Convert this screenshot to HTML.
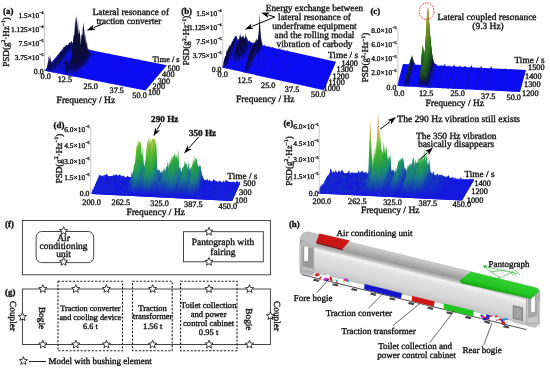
<!DOCTYPE html>
<html><head><meta charset="utf-8"><title>Figure</title>
<style>
html,body{margin:0;padding:0;background:#fff;}
body{width:550px;height:369px;overflow:hidden;}
svg{display:block;}
text{font-family:"Liberation Serif","Times New Roman",serif;fill:#111;stroke:#111;stroke-width:0.35px;text-rendering:geometricPrecision;}
</style></head><body>
<svg width="550" height="369" viewBox="0 0 550 369">
<defs>
<linearGradient id="ga" gradientUnits="userSpaceOnUse" x1="0" y1="0" x2="0" y2="-57"><stop offset="0" stop-color="#0c0cf4"/><stop offset="0.012" stop-color="#1010c0"/><stop offset="0.035" stop-color="#0a0a78"/><stop offset="0.12" stop-color="#0a0a40"/><stop offset="0.6" stop-color="#0e0e30"/><stop offset="0.85" stop-color="#24244a"/><stop offset="1" stop-color="#505070"/></linearGradient>
<linearGradient id="ga29" href="#ga" gradientTransform="matrix(1 0.1970 0 1 0 32.32)"/>
<linearGradient id="ga28" href="#ga" gradientTransform="matrix(1 0.1970 0 1 0 33.34)"/>
<linearGradient id="ga27" href="#ga" gradientTransform="matrix(1 0.1970 0 1 0 34.36)"/>
<linearGradient id="ga26" href="#ga" gradientTransform="matrix(1 0.1970 0 1 0 35.38)"/>
<linearGradient id="ga25" href="#ga" gradientTransform="matrix(1 0.1970 0 1 0 36.40)"/>
<linearGradient id="ga24" href="#ga" gradientTransform="matrix(1 0.1970 0 1 0 37.42)"/>
<linearGradient id="ga23" href="#ga" gradientTransform="matrix(1 0.1970 0 1 0 38.44)"/>
<linearGradient id="ga22" href="#ga" gradientTransform="matrix(1 0.1970 0 1 0 39.46)"/>
<linearGradient id="ga21" href="#ga" gradientTransform="matrix(1 0.1970 0 1 0 40.49)"/>
<linearGradient id="ga20" href="#ga" gradientTransform="matrix(1 0.1970 0 1 0 41.51)"/>
<linearGradient id="ga19" href="#ga" gradientTransform="matrix(1 0.1970 0 1 0 42.53)"/>
<linearGradient id="ga18" href="#ga" gradientTransform="matrix(1 0.1970 0 1 0 43.55)"/>
<linearGradient id="ga17" href="#ga" gradientTransform="matrix(1 0.1970 0 1 0 44.57)"/>
<linearGradient id="ga16" href="#ga" gradientTransform="matrix(1 0.1970 0 1 0 45.59)"/>
<linearGradient id="ga15" href="#ga" gradientTransform="matrix(1 0.1970 0 1 0 46.61)"/>
<linearGradient id="ga14" href="#ga" gradientTransform="matrix(1 0.1970 0 1 0 47.63)"/>
<linearGradient id="ga13" href="#ga" gradientTransform="matrix(1 0.1970 0 1 0 48.66)"/>
<linearGradient id="ga12" href="#ga" gradientTransform="matrix(1 0.1970 0 1 0 49.68)"/>
<linearGradient id="ga11" href="#ga" gradientTransform="matrix(1 0.1970 0 1 0 50.70)"/>
<linearGradient id="ga10" href="#ga" gradientTransform="matrix(1 0.1970 0 1 0 51.72)"/>
<linearGradient id="ga9" href="#ga" gradientTransform="matrix(1 0.1970 0 1 0 52.74)"/>
<linearGradient id="ga8" href="#ga" gradientTransform="matrix(1 0.1970 0 1 0 53.76)"/>
<linearGradient id="ga7" href="#ga" gradientTransform="matrix(1 0.1970 0 1 0 54.78)"/>
<linearGradient id="ga6" href="#ga" gradientTransform="matrix(1 0.1970 0 1 0 55.80)"/>
<linearGradient id="ga5" href="#ga" gradientTransform="matrix(1 0.1970 0 1 0 56.83)"/>
<linearGradient id="ga4" href="#ga" gradientTransform="matrix(1 0.1970 0 1 0 57.85)"/>
<linearGradient id="ga3" href="#ga" gradientTransform="matrix(1 0.1970 0 1 0 58.87)"/>
<linearGradient id="ga2" href="#ga" gradientTransform="matrix(1 0.1970 0 1 0 59.89)"/>
<linearGradient id="ga1" href="#ga" gradientTransform="matrix(1 0.1970 0 1 0 60.91)"/>
<linearGradient id="ga0" href="#ga" gradientTransform="matrix(1 0.1970 0 1 0 61.93)"/>
<linearGradient id="gb" gradientUnits="userSpaceOnUse" x1="0" y1="0" x2="0" y2="-55.5"><stop offset="0" stop-color="#0c0cf4"/><stop offset="0.012" stop-color="#1010c0"/><stop offset="0.035" stop-color="#0a0a78"/><stop offset="0.12" stop-color="#0a0a40"/><stop offset="0.6" stop-color="#0e0e30"/><stop offset="0.85" stop-color="#24244a"/><stop offset="1" stop-color="#505070"/></linearGradient>
<linearGradient id="gb29" href="#gb" gradientTransform="matrix(1 0.2235 0 1 0 -13.31)"/>
<linearGradient id="gb28" href="#gb" gradientTransform="matrix(1 0.2235 0 1 0 -12.23)"/>
<linearGradient id="gb27" href="#gb" gradientTransform="matrix(1 0.2235 0 1 0 -11.16)"/>
<linearGradient id="gb26" href="#gb" gradientTransform="matrix(1 0.2235 0 1 0 -10.08)"/>
<linearGradient id="gb25" href="#gb" gradientTransform="matrix(1 0.2235 0 1 0 -9.00)"/>
<linearGradient id="gb24" href="#gb" gradientTransform="matrix(1 0.2235 0 1 0 -7.93)"/>
<linearGradient id="gb23" href="#gb" gradientTransform="matrix(1 0.2235 0 1 0 -6.85)"/>
<linearGradient id="gb22" href="#gb" gradientTransform="matrix(1 0.2235 0 1 0 -5.78)"/>
<linearGradient id="gb21" href="#gb" gradientTransform="matrix(1 0.2235 0 1 0 -4.70)"/>
<linearGradient id="gb20" href="#gb" gradientTransform="matrix(1 0.2235 0 1 0 -3.63)"/>
<linearGradient id="gb19" href="#gb" gradientTransform="matrix(1 0.2235 0 1 0 -2.55)"/>
<linearGradient id="gb18" href="#gb" gradientTransform="matrix(1 0.2235 0 1 0 -1.48)"/>
<linearGradient id="gb17" href="#gb" gradientTransform="matrix(1 0.2235 0 1 0 -0.40)"/>
<linearGradient id="gb16" href="#gb" gradientTransform="matrix(1 0.2235 0 1 0 0.67)"/>
<linearGradient id="gb15" href="#gb" gradientTransform="matrix(1 0.2235 0 1 0 1.75)"/>
<linearGradient id="gb14" href="#gb" gradientTransform="matrix(1 0.2235 0 1 0 2.82)"/>
<linearGradient id="gb13" href="#gb" gradientTransform="matrix(1 0.2235 0 1 0 3.90)"/>
<linearGradient id="gb12" href="#gb" gradientTransform="matrix(1 0.2235 0 1 0 4.97)"/>
<linearGradient id="gb11" href="#gb" gradientTransform="matrix(1 0.2235 0 1 0 6.05)"/>
<linearGradient id="gb10" href="#gb" gradientTransform="matrix(1 0.2235 0 1 0 7.12)"/>
<linearGradient id="gb9" href="#gb" gradientTransform="matrix(1 0.2235 0 1 0 8.20)"/>
<linearGradient id="gb8" href="#gb" gradientTransform="matrix(1 0.2235 0 1 0 9.27)"/>
<linearGradient id="gb7" href="#gb" gradientTransform="matrix(1 0.2235 0 1 0 10.35)"/>
<linearGradient id="gb6" href="#gb" gradientTransform="matrix(1 0.2235 0 1 0 11.42)"/>
<linearGradient id="gb5" href="#gb" gradientTransform="matrix(1 0.2235 0 1 0 12.50)"/>
<linearGradient id="gb4" href="#gb" gradientTransform="matrix(1 0.2235 0 1 0 13.58)"/>
<linearGradient id="gb3" href="#gb" gradientTransform="matrix(1 0.2235 0 1 0 14.65)"/>
<linearGradient id="gb2" href="#gb" gradientTransform="matrix(1 0.2235 0 1 0 15.73)"/>
<linearGradient id="gb1" href="#gb" gradientTransform="matrix(1 0.2235 0 1 0 16.80)"/>
<linearGradient id="gb0" href="#gb" gradientTransform="matrix(1 0.2235 0 1 0 17.88)"/>
<linearGradient id="gc" gradientUnits="userSpaceOnUse" x1="0" y1="0" x2="0" y2="-70.75"><stop offset="0.0" stop-color="#0c0cf4"/><stop offset="0.016" stop-color="#1010c0"/><stop offset="0.05600000000000001" stop-color="#0a0a70"/><stop offset="0.11200000000000002" stop-color="#102a30"/><stop offset="0.176" stop-color="#1a4a1c"/><stop offset="0.4" stop-color="#2e7a22"/><stop offset="0.64" stop-color="#6a8a20"/><stop offset="0.8" stop-color="#9a9a38"/><stop offset="0.96" stop-color="#b0a848"/></linearGradient>
<linearGradient id="gc29" href="#gc" gradientTransform="matrix(1 0.0488 0 1 0 44.34)"/>
<linearGradient id="gc28" href="#gc" gradientTransform="matrix(1 0.0488 0 1 0 45.11)"/>
<linearGradient id="gc27" href="#gc" gradientTransform="matrix(1 0.0488 0 1 0 45.88)"/>
<linearGradient id="gc26" href="#gc" gradientTransform="matrix(1 0.0488 0 1 0 46.65)"/>
<linearGradient id="gc25" href="#gc" gradientTransform="matrix(1 0.0488 0 1 0 47.42)"/>
<linearGradient id="gc24" href="#gc" gradientTransform="matrix(1 0.0488 0 1 0 48.19)"/>
<linearGradient id="gc23" href="#gc" gradientTransform="matrix(1 0.0488 0 1 0 48.95)"/>
<linearGradient id="gc22" href="#gc" gradientTransform="matrix(1 0.0488 0 1 0 49.72)"/>
<linearGradient id="gc21" href="#gc" gradientTransform="matrix(1 0.0488 0 1 0 50.49)"/>
<linearGradient id="gc20" href="#gc" gradientTransform="matrix(1 0.0488 0 1 0 51.26)"/>
<linearGradient id="gc19" href="#gc" gradientTransform="matrix(1 0.0488 0 1 0 52.03)"/>
<linearGradient id="gc18" href="#gc" gradientTransform="matrix(1 0.0488 0 1 0 52.80)"/>
<linearGradient id="gc17" href="#gc" gradientTransform="matrix(1 0.0488 0 1 0 53.57)"/>
<linearGradient id="gc16" href="#gc" gradientTransform="matrix(1 0.0488 0 1 0 54.33)"/>
<linearGradient id="gc15" href="#gc" gradientTransform="matrix(1 0.0488 0 1 0 55.10)"/>
<linearGradient id="gc14" href="#gc" gradientTransform="matrix(1 0.0488 0 1 0 55.87)"/>
<linearGradient id="gc13" href="#gc" gradientTransform="matrix(1 0.0488 0 1 0 56.64)"/>
<linearGradient id="gc12" href="#gc" gradientTransform="matrix(1 0.0488 0 1 0 57.41)"/>
<linearGradient id="gc11" href="#gc" gradientTransform="matrix(1 0.0488 0 1 0 58.18)"/>
<linearGradient id="gc10" href="#gc" gradientTransform="matrix(1 0.0488 0 1 0 58.95)"/>
<linearGradient id="gc9" href="#gc" gradientTransform="matrix(1 0.0488 0 1 0 59.72)"/>
<linearGradient id="gc8" href="#gc" gradientTransform="matrix(1 0.0488 0 1 0 60.48)"/>
<linearGradient id="gc7" href="#gc" gradientTransform="matrix(1 0.0488 0 1 0 61.25)"/>
<linearGradient id="gc6" href="#gc" gradientTransform="matrix(1 0.0488 0 1 0 62.02)"/>
<linearGradient id="gc5" href="#gc" gradientTransform="matrix(1 0.0488 0 1 0 62.79)"/>
<linearGradient id="gc4" href="#gc" gradientTransform="matrix(1 0.0488 0 1 0 63.56)"/>
<linearGradient id="gc3" href="#gc" gradientTransform="matrix(1 0.0488 0 1 0 64.33)"/>
<linearGradient id="gc2" href="#gc" gradientTransform="matrix(1 0.0488 0 1 0 65.10)"/>
<linearGradient id="gc1" href="#gc" gradientTransform="matrix(1 0.0488 0 1 0 65.87)"/>
<linearGradient id="gc0" href="#gc" gradientTransform="matrix(1 0.0488 0 1 0 66.63)"/>
<linearGradient id="gd" gradientUnits="userSpaceOnUse" x1="0" y1="0" x2="0" y2="-66.4"><stop offset="0" stop-color="#1414e6"/><stop offset="0.04" stop-color="#1428c8"/><stop offset="0.1" stop-color="#1650a8"/><stop offset="0.17" stop-color="#1a7a88"/><stop offset="0.25" stop-color="#1e9460"/><stop offset="0.35" stop-color="#2ea836"/><stop offset="0.5" stop-color="#56b832"/><stop offset="0.62" stop-color="#98c040"/><stop offset="0.72" stop-color="#c8b048"/><stop offset="0.85" stop-color="#d89a58"/><stop offset="1" stop-color="#e08a60"/></linearGradient>
<linearGradient id="gd27" href="#gd" gradientTransform="matrix(1 0.0504 0 1 0 171.39)"/>
<linearGradient id="gd26" href="#gd" gradientTransform="matrix(1 0.0504 0 1 0 172.05)"/>
<linearGradient id="gd25" href="#gd" gradientTransform="matrix(1 0.0504 0 1 0 172.72)"/>
<linearGradient id="gd24" href="#gd" gradientTransform="matrix(1 0.0504 0 1 0 173.39)"/>
<linearGradient id="gd23" href="#gd" gradientTransform="matrix(1 0.0504 0 1 0 174.05)"/>
<linearGradient id="gd22" href="#gd" gradientTransform="matrix(1 0.0504 0 1 0 174.72)"/>
<linearGradient id="gd21" href="#gd" gradientTransform="matrix(1 0.0504 0 1 0 175.39)"/>
<linearGradient id="gd20" href="#gd" gradientTransform="matrix(1 0.0504 0 1 0 176.06)"/>
<linearGradient id="gd19" href="#gd" gradientTransform="matrix(1 0.0504 0 1 0 176.72)"/>
<linearGradient id="gd18" href="#gd" gradientTransform="matrix(1 0.0504 0 1 0 177.39)"/>
<linearGradient id="gd17" href="#gd" gradientTransform="matrix(1 0.0504 0 1 0 178.06)"/>
<linearGradient id="gd16" href="#gd" gradientTransform="matrix(1 0.0504 0 1 0 178.72)"/>
<linearGradient id="gd15" href="#gd" gradientTransform="matrix(1 0.0504 0 1 0 179.39)"/>
<linearGradient id="gd14" href="#gd" gradientTransform="matrix(1 0.0504 0 1 0 180.06)"/>
<linearGradient id="gd13" href="#gd" gradientTransform="matrix(1 0.0504 0 1 0 180.72)"/>
<linearGradient id="gd12" href="#gd" gradientTransform="matrix(1 0.0504 0 1 0 181.39)"/>
<linearGradient id="gd11" href="#gd" gradientTransform="matrix(1 0.0504 0 1 0 182.06)"/>
<linearGradient id="gd10" href="#gd" gradientTransform="matrix(1 0.0504 0 1 0 182.72)"/>
<linearGradient id="gd9" href="#gd" gradientTransform="matrix(1 0.0504 0 1 0 183.39)"/>
<linearGradient id="gd8" href="#gd" gradientTransform="matrix(1 0.0504 0 1 0 184.06)"/>
<linearGradient id="gd7" href="#gd" gradientTransform="matrix(1 0.0504 0 1 0 184.72)"/>
<linearGradient id="gd6" href="#gd" gradientTransform="matrix(1 0.0504 0 1 0 185.39)"/>
<linearGradient id="gd5" href="#gd" gradientTransform="matrix(1 0.0504 0 1 0 186.06)"/>
<linearGradient id="gd4" href="#gd" gradientTransform="matrix(1 0.0504 0 1 0 186.72)"/>
<linearGradient id="gd3" href="#gd" gradientTransform="matrix(1 0.0504 0 1 0 187.39)"/>
<linearGradient id="gd2" href="#gd" gradientTransform="matrix(1 0.0504 0 1 0 188.06)"/>
<linearGradient id="gd1" href="#gd" gradientTransform="matrix(1 0.0504 0 1 0 188.72)"/>
<linearGradient id="gd0" href="#gd" gradientTransform="matrix(1 0.0504 0 1 0 189.39)"/>
<linearGradient id="ge" gradientUnits="userSpaceOnUse" x1="0" y1="0" x2="0" y2="-66.4"><stop offset="0" stop-color="#1414e6"/><stop offset="0.04" stop-color="#1428c8"/><stop offset="0.1" stop-color="#1650a8"/><stop offset="0.17" stop-color="#1a7a88"/><stop offset="0.25" stop-color="#1e9460"/><stop offset="0.35" stop-color="#2ea836"/><stop offset="0.5" stop-color="#56b832"/><stop offset="0.62" stop-color="#98c040"/><stop offset="0.72" stop-color="#c8b048"/><stop offset="0.85" stop-color="#d89a58"/><stop offset="1" stop-color="#e08a60"/></linearGradient>
<linearGradient id="ge27" href="#ge" gradientTransform="matrix(1 0.0479 0 1 0 157.59)"/>
<linearGradient id="ge26" href="#ge" gradientTransform="matrix(1 0.0479 0 1 0 158.35)"/>
<linearGradient id="ge25" href="#ge" gradientTransform="matrix(1 0.0479 0 1 0 159.12)"/>
<linearGradient id="ge24" href="#ge" gradientTransform="matrix(1 0.0479 0 1 0 159.88)"/>
<linearGradient id="ge23" href="#ge" gradientTransform="matrix(1 0.0479 0 1 0 160.65)"/>
<linearGradient id="ge22" href="#ge" gradientTransform="matrix(1 0.0479 0 1 0 161.42)"/>
<linearGradient id="ge21" href="#ge" gradientTransform="matrix(1 0.0479 0 1 0 162.18)"/>
<linearGradient id="ge20" href="#ge" gradientTransform="matrix(1 0.0479 0 1 0 162.95)"/>
<linearGradient id="ge19" href="#ge" gradientTransform="matrix(1 0.0479 0 1 0 163.71)"/>
<linearGradient id="ge18" href="#ge" gradientTransform="matrix(1 0.0479 0 1 0 164.48)"/>
<linearGradient id="ge17" href="#ge" gradientTransform="matrix(1 0.0479 0 1 0 165.24)"/>
<linearGradient id="ge16" href="#ge" gradientTransform="matrix(1 0.0479 0 1 0 166.01)"/>
<linearGradient id="ge15" href="#ge" gradientTransform="matrix(1 0.0479 0 1 0 166.78)"/>
<linearGradient id="ge14" href="#ge" gradientTransform="matrix(1 0.0479 0 1 0 167.54)"/>
<linearGradient id="ge13" href="#ge" gradientTransform="matrix(1 0.0479 0 1 0 168.31)"/>
<linearGradient id="ge12" href="#ge" gradientTransform="matrix(1 0.0479 0 1 0 169.07)"/>
<linearGradient id="ge11" href="#ge" gradientTransform="matrix(1 0.0479 0 1 0 169.84)"/>
<linearGradient id="ge10" href="#ge" gradientTransform="matrix(1 0.0479 0 1 0 170.61)"/>
<linearGradient id="ge9" href="#ge" gradientTransform="matrix(1 0.0479 0 1 0 171.37)"/>
<linearGradient id="ge8" href="#ge" gradientTransform="matrix(1 0.0479 0 1 0 172.14)"/>
<linearGradient id="ge7" href="#ge" gradientTransform="matrix(1 0.0479 0 1 0 172.90)"/>
<linearGradient id="ge6" href="#ge" gradientTransform="matrix(1 0.0479 0 1 0 173.67)"/>
<linearGradient id="ge5" href="#ge" gradientTransform="matrix(1 0.0479 0 1 0 174.43)"/>
<linearGradient id="ge4" href="#ge" gradientTransform="matrix(1 0.0479 0 1 0 175.20)"/>
<linearGradient id="ge3" href="#ge" gradientTransform="matrix(1 0.0479 0 1 0 175.97)"/>
<linearGradient id="ge2" href="#ge" gradientTransform="matrix(1 0.0479 0 1 0 176.73)"/>
<linearGradient id="ge1" href="#ge" gradientTransform="matrix(1 0.0479 0 1 0 177.50)"/>
<linearGradient id="ge0" href="#ge" gradientTransform="matrix(1 0.0479 0 1 0 178.26)"/>
<linearGradient id="body" gradientUnits="userSpaceOnUse" x1="0" y1="0" x2="0" y2="42" gradientTransform="matrix(1 0.245 0 1 0 156.34)"><stop offset="0" stop-color="#cfcfcf"/><stop offset="0.07" stop-color="#c0c0c0"/><stop offset="0.24" stop-color="#9a9a9a"/><stop offset="0.32" stop-color="#c4c4c4"/><stop offset="0.37" stop-color="#f2f2f2"/><stop offset="0.48" stop-color="#e2e2e2"/><stop offset="0.76" stop-color="#d6d6d6"/><stop offset="0.93" stop-color="#c2c2c2"/><stop offset="1" stop-color="#b4b4b4"/></linearGradient>
<linearGradient id="green" gradientUnits="userSpaceOnUse" x1="0" y1="0" x2="0" y2="15" gradientTransform="matrix(1 0.245 0 1 0 156.34)"><stop offset="0" stop-color="#30d030"/><stop offset="0.6" stop-color="#22c422"/><stop offset="0.85" stop-color="#1aa81a"/><stop offset="1" stop-color="#36c836"/></linearGradient>
</defs>
<rect width="550" height="369" fill="#fff"/>
<polygon points="44.5,70.7 145.5,90.6 166.9,65.2 65.9,45.3" fill="#0c0cf4"/>
<polygon points="67.3,45.5 67.9,45.4 68.6,45.2 69.3,45.1 70,44.3 70.6,42.2 71.3,40.9 72,41.8 72.7,44.9 73.4,43.4 74,43.5 74.7,45.3 75.4,46.8 76.1,47 76.7,47.3 76.7,47.4 67.3,45.6" fill="url(#ga29)"/>
<polygon points="87.6,49.4 88.3,49.3 88.9,49.5 89.6,49.8 90.3,49.8 91,50 91.7,50.2 92.3,50.1 93,50.6 93.7,50.5 94.4,50.7 94.4,50.9 87.6,49.6" fill="url(#ga29)"/>
<polygon points="101.8,52.3 102.5,52.2 103.2,52.6 103.2,52.6 101.8,52.4" fill="url(#ga29)"/>
<polygon points="108.6,53.7 109.3,53.3 110,54 110,54 108.6,53.7" fill="url(#ga29)"/>
<polygon points="129.6,57.9 130.3,57.6 131,57.9 131.7,58.3 131.7,58.3 129.6,57.9" fill="url(#ga29)"/>
<polygon points="137.8,59.5 138.4,58.6 139.1,59.6 139.1,59.7 137.8,59.5" fill="url(#ga29)"/>
<polygon points="66.5,46.4 67.2,46.1 67.9,46 68.6,46 69.2,43.4 69.9,42.4 70.6,45.2 71.3,44.4 71.9,43.4 72.6,42.4 73.3,46.1 74,46.4 74.7,47.3 75.3,47.8 76,48.2 76,48.3 66.5,46.4" fill="url(#ga28)"/>
<polygon points="86.9,50.3 87.5,50 88.2,50.5 88.9,50.7 89.6,50.7 90.2,50.3 90.9,51 91.6,50.8 92.3,51.1 93,51.4 93,51.7 86.9,50.4" fill="url(#ga28)"/>
<polygon points="122.1,57.4 122.8,57 123.5,57.6 123.5,57.7 122.1,57.4" fill="url(#ga28)"/>
<polygon points="128.9,58.7 129.6,58.1 130.2,58.6 130.9,59.1 130.9,59.1 128.9,58.7" fill="url(#ga28)"/>
<polygon points="137,60.3 137.7,59.9 138.4,60.5 138.4,60.6 137,60.3" fill="url(#ga28)"/>
<polygon points="65.8,47.2 66.5,47.2 67.1,46.8 67.8,45.5 68.5,45.2 69.2,42.6 69.8,45.7 70.5,44.7 71.2,44.7 71.9,46.1 72.6,44.8 73.2,48.1 73.9,48.4 74.6,48.7 75.3,49 75.3,49.2 65.8,47.3" fill="url(#ga27)"/>
<polygon points="83.4,50.6 84.1,50.7 84.8,50.9 85.4,50.9 86.1,51.1 86.8,51.2 87.5,50.8 88.1,50.8 88.8,51.1 89.5,51.3 90.2,51.5 90.9,52 91.5,51.5 92.2,52.1 92.9,52.2 93.6,52.7 93.6,52.8 83.4,50.8" fill="url(#ga27)"/>
<polygon points="107.1,55.4 107.8,54.4 108.5,55.7 108.5,55.7 107.1,55.5" fill="url(#ga27)"/>
<polygon points="114.6,56.8 115.3,56.7 115.9,57.2 115.9,57.2 114.6,56.9" fill="url(#ga27)"/>
<polygon points="121.4,58.2 122,58 122.7,58.5 122.7,58.5 121.4,58.3" fill="url(#ga27)"/>
<polygon points="128.1,59.6 128.8,59.1 129.5,59.9 129.5,59.9 128.1,59.6" fill="url(#ga27)"/>
<polygon points="136.3,61.2 137,60.4 137.6,61.2 138.3,61.6 138.3,61.6 136.3,61.2" fill="url(#ga27)"/>
<polygon points="65,48.1 65.7,48 66.4,48 67.1,47.6 67.8,45.5 68.4,46.8 69.1,42.3 69.8,43.1 70.5,44.7 71.1,46.8 71.8,46.4 72.5,48.4 73.2,49.2 73.9,49.7 74.5,49.9 74.5,50.1 65,48.2" fill="url(#ga26)"/>
<polygon points="82,51.4 82.7,51.4 83.3,51.5 84,51.2 84.7,51.4 85.4,51 86.1,52 86.7,52.1 87.4,51.5 88.1,51.8 88.8,51.4 89.4,51.8 90.1,52.4 90.8,52.5 91.5,52.7 92.2,52.7 92.8,53.5 92.8,53.7 82,51.5" fill="url(#ga26)"/>
<polygon points="98.9,54.9 99.6,54.7 100.3,54.7 101,55.3 101,55.3 98.9,54.9" fill="url(#ga26)"/>
<polygon points="120.6,59.1 121.3,57.7 122,59.4 122,59.4 120.6,59.1" fill="url(#ga26)"/>
<polygon points="127.4,60.5 128.1,59.9 128.8,60.7 128.8,60.7 127.4,60.5" fill="url(#ga26)"/>
<polygon points="65,49 65.7,48.4 66.3,48.6 67,45.8 67.7,45.6 68.4,44.3 69,44.4 69.7,43.2 70.4,48.2 71.1,48.6 71.8,49.1 72.4,49.5 73.1,50.3 73.8,50.7 73.8,50.9 65,49.2" fill="url(#ga25)"/>
<polygon points="81.3,52.3 81.9,52.1 82.6,52.3 83.3,51.6 84,51.5 84.6,52.2 85.3,51.4 86,52.1 86.7,51.4 87.4,51.4 88,53.2 88.7,52.6 89.4,53.1 90.1,53.2 90.7,52.6 91.4,53.9 92.1,53.5 92.8,54.2 93.5,54.6 93.5,54.8 81.3,52.4" fill="url(#ga25)"/>
<polygon points="98.2,55.7 98.9,55.6 99.6,55.4 100.2,56.1 100.2,56.1 98.2,55.7" fill="url(#ga25)"/>
<polygon points="105.7,57.2 106.3,56.9 107,57.4 107,57.5 105.7,57.2" fill="url(#ga25)"/>
<polygon points="112.4,58.6 113.1,58.4 113.8,58.7 113.8,58.8 112.4,58.6" fill="url(#ga25)"/>
<polygon points="119.9,60 120.6,58.8 121.2,60.3 121.2,60.3 119.9,60" fill="url(#ga25)"/>
<polygon points="126.7,61.4 127.3,61.2 128,61.6 128,61.6 126.7,61.4" fill="url(#ga25)"/>
<polygon points="134.8,63 135.5,62.7 136.2,63.2 136.2,63.2 134.8,63" fill="url(#ga25)"/>
<polygon points="63.6,49.8 64.2,49.7 64.9,49.7 65.6,49 66.3,47.6 67,47 67.6,46.7 68.3,45.9 69,46.2 69.7,49.5 70.3,48.3 71,50.4 71.7,50.2 72.4,51.2 73.1,51.6 73.1,51.8 63.6,49.9" fill="url(#ga24)"/>
<polygon points="79.8,53 80.5,53.1 81.2,53 81.9,52.7 82.5,51.9 83.2,50.8 83.9,51 84.6,52.9 85.3,50.8 85.9,53.1 86.6,52.1 87.3,53.2 88,54.1 88.6,53.1 89.3,52 90,53.1 90.7,53.9 91.4,54.8 92,54.9 92.7,55.6 93.4,55.6 94.1,55.9 94.1,56 79.8,53.2" fill="url(#ga24)"/>
<polygon points="111.7,59.4 112.4,59.1 113,59.5 113.7,59.8 113.7,59.8 111.7,59.4" fill="url(#ga24)"/>
<polygon points="119.1,60.9 119.8,60.1 120.5,61.2 120.5,61.2 119.1,60.9" fill="url(#ga24)"/>
<polygon points="126.6,62.3 127.3,62.1 128,62.6 128,62.6 126.6,62.4" fill="url(#ga24)"/>
<polygon points="134.1,63.8 134.7,63.6 135.4,63.8 136.1,64.2 136.1,64.2 134.1,63.8" fill="url(#ga24)"/>
<polygon points="62.8,50.7 63.5,50.5 64.2,50.2 64.9,50.2 65.5,47.9 66.2,47.2 66.9,48.6 67.6,49 68.3,49.8 68.9,48.7 69.6,49.1 70.3,50.8 71,52 71.6,52.3 72.3,52.4 73,52.7 73,52.8 62.8,50.8" fill="url(#ga23)"/>
<polygon points="77.7,53.6 78.4,53.6 79.1,53.7 79.8,53.7 80.5,53.2 81.1,52 81.8,52.1 82.5,50.9 83.2,51 83.8,50.3 84.5,51.6 85.2,51.3 85.9,51.3 86.6,50.5 87.2,53.5 87.9,53.9 88.6,53.5 89.3,53.2 89.9,54.2 90.6,54.2 91.3,55.3 92,55.9 92.7,56.6 92.7,56.7 77.7,53.8" fill="url(#ga23)"/>
<polygon points="111,60.3 111.6,60.1 112.3,60.3 113,60.7 113,60.7 111,60.3" fill="url(#ga23)"/>
<polygon points="118.4,61.7 119.1,60.3 119.8,62 119.8,62 118.4,61.8" fill="url(#ga23)"/>
<polygon points="125.2,63.1 125.9,62.3 126.5,63.3 126.5,63.4 125.2,63.1" fill="url(#ga23)"/>
<polygon points="133.3,64.7 134,64.6 134.7,64.9 134.7,65 133.3,64.7" fill="url(#ga23)"/>
<polygon points="62.1,51.5 62.8,51.4 63.4,50.9 64.1,50.4 64.8,49.5 65.5,49.1 66.2,46.9 66.8,50.1 67.5,49.2 68.2,47.2 68.9,51.2 69.5,50.7 70.2,52.8 70.9,52.9 71.6,53.3 72.3,53.4 72.9,53.7 72.9,53.8 62.1,51.7" fill="url(#ga22)"/>
<polygon points="74.3,53.9 75,53.9 75.6,54.3 75.6,54.4 74.3,54.1" fill="url(#ga22)"/>
<polygon points="77.7,54.6 78.4,54.5 79,54.6 79.7,53.7 80.4,51.3 81.1,49.8 81.7,49.8 82.4,49.8 83.1,50.2 83.8,52.1 84.5,49.8 85.1,54.7 85.8,54.2 86.5,54.2 87.2,54 87.8,54.2 88.5,50.5 89.2,53.2 89.9,53.9 90.6,55.3 91.2,57.1 91.9,57 92.6,57.4 93.3,57.8 93.3,57.8 77.7,54.8" fill="url(#ga22)"/>
<polygon points="103.4,59.8 104.1,58.8 104.8,60.1 104.8,60.1 103.4,59.8" fill="url(#ga22)"/>
<polygon points="110.2,61.2 110.9,60.4 111.6,61 112.3,61.6 112.3,61.6 110.2,61.2" fill="url(#ga22)"/>
<polygon points="124.5,64 125.1,63.5 125.8,64.1 125.8,64.3 124.5,64" fill="url(#ga22)"/>
<polygon points="133.3,65.6 133.9,65.5 134.6,66 134.6,66 133.3,65.7" fill="url(#ga22)"/>
<polygon points="62,52.5 62.7,51.9 63.4,51.6 64.1,49.5 64.7,49.7 65.4,46.6 66.1,44.7 66.8,45.8 67.5,51.1 68.1,51.7 68.8,53.2 69.5,53.1 70.2,53.9 70.8,54.1 71.5,54.4 72.2,54.4 72.9,54.5 73.6,54.8 73.6,55 62,52.7" fill="url(#ga21)"/>
<polygon points="74.9,55.1 75.6,54.9 76.3,55.2 76.9,55.2 77.6,55.6 78.3,55.3 79,54.1 79.7,50.8 80.3,48.9 81,47.3 81.7,45.3 82.4,47 83,53.3 83.7,49 84.4,54.6 85.1,51.7 85.8,50.4 86.4,50.5 87.1,51.4 87.8,47.3 88.5,49.6 89.1,53.6 89.8,55.4 90.5,57.2 91.2,58 91.9,58.5 91.9,58.6 74.9,55.2" fill="url(#ga21)"/>
<polygon points="95.2,59.2 95.9,58.9 96.6,58.3 97.3,59.7 97.3,59.7 95.2,59.3" fill="url(#ga21)"/>
<polygon points="109.5,62.1 110.2,61.8 110.8,61.6 111.5,62.5 111.5,62.5 109.5,62.1" fill="url(#ga21)"/>
<polygon points="123.7,64.9 124.4,64.6 125.1,65.1 125.1,65.1 123.7,64.9" fill="url(#ga21)"/>
<polygon points="131.8,66.5 132.5,65.1 133.2,66.4 133.9,66.9 133.9,66.9 131.8,66.5" fill="url(#ga21)"/>
<polygon points="59.9,53.2 60.6,53.2 61.3,53 62,53.1 62.6,52.4 63.3,51.5 64,52.2 64.7,48.1 65.4,50 66,52.2 66.7,49.7 67.4,53 68.1,52.5 68.7,54.5 69.4,54.6 70.1,55.1 70.8,55.1 71.5,55.4 72.1,55.4 72.8,55.3 73.5,55.6 74.2,55.7 74.8,56.1 75.5,56 76.2,56.1 76.9,56.2 77.6,55 78.2,53.6 78.9,50 79.6,42.8 80.3,44.1 80.9,47 81.6,45.6 82.3,53.6 83,54.5 83.7,48.8 84.3,56 85,47.5 85.7,52.3 86.4,50.4 87.1,49.8 87.7,52.3 88.4,53 89.1,54.7 89.8,58.5 90.4,58.7 91.1,59.2 91.8,59.4 91.8,59.6 59.9,53.3" fill="url(#ga20)"/>
<polygon points="95.2,60.3 95.9,60 96.5,60.5 96.5,60.5 95.2,60.3" fill="url(#ga20)"/>
<polygon points="102,61.6 102.6,60.2 103.3,61.8 103.3,61.9 102,61.6" fill="url(#ga20)"/>
<polygon points="108.7,62.9 109.4,62.8 110.1,63.1 110.1,63.2 108.7,62.9" fill="url(#ga20)"/>
<polygon points="123,65.7 123.7,64.6 124.3,65.8 124.3,66 123,65.7" fill="url(#ga20)"/>
<polygon points="59.9,54.1 60.6,54.1 61.2,53.7 61.9,52.2 62.6,53 63.3,49 63.9,46.7 64.6,46.8 65.3,49.3 66,51.6 66.7,54.2 67.3,54 68,54.6 68.7,55.6 69.4,55.8 70,55.8 70.7,56.1 71.4,56.3 72.1,56.6 72.8,56.5 73.4,56.7 74.1,56.9 74.8,56.6 75.5,56.7 76.1,56.9 76.8,55.7 77.5,54 78.2,47.1 78.9,45.5 79.5,40.6 80.2,44.2 80.9,45.4 81.6,49.2 82.2,52.8 82.9,55.9 83.6,50.4 84.3,45.5 85,49.8 85.6,49.2 86.3,45 87,41.2 87.7,50.3 88.3,56.9 89,58.6 89.7,59.2 90.4,60.1 90.4,60.3 59.9,54.3" fill="url(#ga19)"/>
<polygon points="94.4,60.9 95.1,60.2 95.8,61.4 95.8,61.4 94.4,61.1" fill="url(#ga19)"/>
<polygon points="101.2,62.4 101.9,61.3 102.6,62.6 102.6,62.7 101.2,62.5" fill="url(#ga19)"/>
<polygon points="115.5,65.3 116.1,63.9 116.8,65.5 116.8,65.5 115.5,65.3" fill="url(#ga19)"/>
<polygon points="122.2,66.6 122.9,66.3 123.6,66.3 124.3,67 124.3,67 122.2,66.6" fill="url(#ga19)"/>
<polygon points="58.5,55 59.1,55 59.8,54.7 60.5,54.1 61.2,52.8 61.8,51.8 62.5,52.2 63.2,49.7 63.9,47 64.6,52.6 65.2,50.8 65.9,55.1 66.6,55.6 67.3,55.7 68,56.3 68.6,56.3 69.3,56.5 70,57 70.7,56.9 71.3,57.3 72,57 72.7,57.6 73.4,57.7 74.1,57.7 74.7,57.8 75.4,57.6 76.1,56.4 76.8,51.6 77.4,46.7 78.1,35.6 78.8,35.4 79.5,28.9 80.2,36.8 80.8,51.8 81.5,45 82.2,44.6 82.9,42.1 83.5,48.7 84.2,41 84.9,47.5 85.6,33.6 86.3,42.6 86.9,47.8 87.6,56.6 88.3,58.8 89,59.8 89.6,60.6 90.3,61.3 90.3,61.3 58.5,55.1" fill="url(#ga18)"/>
<polygon points="93.7,61.9 94.4,61 95.1,62.3 95.1,62.3 93.7,62" fill="url(#ga18)"/>
<polygon points="107.3,64.7 107.9,64.5 108.6,64.9 108.6,65 107.3,64.7" fill="url(#ga18)"/>
<polygon points="114.7,66 115.4,64.5 116.1,66.4 116.1,66.4 114.7,66.2" fill="url(#ga18)"/>
<polygon points="121.5,67.5 122.2,67 122.9,67.7 122.9,67.8 121.5,67.5" fill="url(#ga18)"/>
<polygon points="58.4,55.9 59.1,55.9 59.8,55.7 60.4,55.3 61.1,54.5 61.8,53.5 62.5,50.9 63.1,51.7 63.8,48.9 64.5,53.4 65.2,55.2 65.9,56.5 66.5,56.1 67.2,57 67.9,57.1 68.6,57.7 69.2,57.9 69.9,57.4 70.6,57.8 71.3,57.6 72,58.4 72.6,58.1 73.3,58.6 74,58.2 74.7,58.2 75.3,57.5 76,52.4 76.7,42.2 77.4,35.8 78.1,33.1 78.7,34.4 79.4,40.3 80.1,43.1 80.8,49.7 81.4,45.9 82.1,50.6 82.8,40.7 83.5,52.4 84.2,38.5 84.8,41.8 85.5,43.2 86.2,48.2 86.9,55.5 87.5,58.2 88.2,60.2 88.9,61.6 89.6,61.9 90.3,62.3 90.3,62.4 58.4,56.1" fill="url(#ga17)"/>
<polygon points="92.3,62.7 93,62.6 93.6,62.5 94.3,63.2 94.3,63.2 92.3,62.8" fill="url(#ga17)"/>
<polygon points="107.2,65.6 107.9,65.4 108.6,66 108.6,66 107.2,65.7" fill="url(#ga17)"/>
<polygon points="114,66.9 114.7,66.8 115.3,67.3 115.3,67.3 114,67" fill="url(#ga17)"/>
<polygon points="121.4,68.4 122.1,68.3 122.8,68.8 122.8,68.8 121.4,68.5" fill="url(#ga17)"/>
<polygon points="128.9,70 129.6,68.9 130.3,69.9 130.9,70.4 130.9,70.4 128.9,70" fill="url(#ga17)"/>
<polygon points="57.7,56.7 58.3,56.5 59,56.5 59.7,56.4 60.4,55.4 61.1,53.6 61.7,55.3 62.4,48.6 63.1,52.4 63.8,55.1 64.4,56.5 65.1,55.3 65.8,57.8 66.5,57.9 67.2,58.4 67.8,58.7 68.5,58.7 69.2,58.5 69.9,57.7 70.5,57.9 71.2,58.7 71.9,59.1 72.6,58.7 73.3,59 73.9,58.8 74.6,58.3 75.3,54.2 76,42.8 76.6,30.9 77.3,31.6 78,17.8 78.7,39 79.4,36 80,44.5 80.7,54.4 81.4,49.2 82.1,53.5 82.7,46 83.4,33.6 84.1,29.1 84.8,38.4 85.5,48.8 86.1,54 86.8,59.1 87.5,60.9 88.2,62.5 88.8,62.6 89.5,63.1 89.5,63.2 57.7,57" fill="url(#ga16)"/>
<polygon points="92.2,63.6 92.9,63.6 93.6,64 93.6,64 92.2,63.8" fill="url(#ga16)"/>
<polygon points="105.8,66.4 106.5,66.2 107.1,66.7 107.1,66.7 105.8,66.4" fill="url(#ga16)"/>
<polygon points="113.2,67.8 113.9,67 114.6,68.2 114.6,68.2 113.2,67.9" fill="url(#ga16)"/>
<polygon points="120,69.2 120.7,68.6 121.4,69 122.1,69.6 122.1,69.6 120,69.2" fill="url(#ga16)"/>
<polygon points="128.2,70.8 128.8,70.6 129.5,70.6 130.2,71.2 130.2,71.2 128.2,70.8" fill="url(#ga16)"/>
<polygon points="56.2,57.6 56.9,57.6 57.6,57.7 58.3,57.4 59,55.9 59.6,56.1 60.3,51.6 61,51.2 61.7,54 62.3,53.6 63,52.7 63.7,54.8 64.4,58.1 65.1,58.6 65.7,58.8 66.4,59.2 67.1,59.5 67.8,59.3 68.4,59.5 69.1,59.2 69.8,59.9 70.5,59.9 71.2,59.9 71.8,59.4 72.5,59.5 73.2,60.1 73.9,57 74.5,52.1 75.2,41 75.9,24.7 76.6,14.7 77.3,27.3 77.9,34 78.6,40.3 79.3,42.4 80,56.5 80.6,49.3 81.3,50.4 82,48 82.7,28.9 83.4,22.4 84,28.8 84.7,42.6 85.4,57 86.1,61.8 86.8,61.8 87.4,63.5 88.1,63.8 88.1,64 56.2,57.7" fill="url(#ga15)"/>
<polygon points="98.3,65.9 99,65.2 99.6,66.2 99.6,66.2 98.3,66" fill="url(#ga15)"/>
<polygon points="105.1,67.3 105.7,66.6 106.4,67.6 106.4,67.6 105.1,67.3" fill="url(#ga15)"/>
<polygon points="119.3,70.1 120,69.3 120.6,70.2 120.6,70.4 119.3,70.1" fill="url(#ga15)"/>
<polygon points="127.4,71.7 128.1,70.5 128.8,72 128.8,72 127.4,71.7" fill="url(#ga15)"/>
<polygon points="55.5,58.5 56.2,58.5 56.9,58.2 57.5,58.4 58.2,58.1 58.9,55.1 59.6,56.2 60.3,57 60.9,56 61.6,51.1 62.3,53.8 63,56.2 63.6,58.9 64.3,58.6 65,59.6 65.7,60 66.4,59.6 67,59.6 67.7,60.4 68.4,60.5 69.1,60.7 69.7,59.5 70.4,61 71.1,60.5 71.8,61 72.5,60.9 73.1,59.3 73.8,54.6 74.5,40.4 75.2,27.8 75.8,16.2 76.5,25.1 77.2,29.4 77.9,47 78.6,40.3 79.2,41.9 79.9,50 80.6,53.3 81.3,40.8 81.9,35.2 82.6,34.9 83.3,33.7 84,47.8 84.7,58.2 85.3,62.6 86,62.5 86.7,64.5 87.4,64.3 88,64.9 88,65 55.5,58.6" fill="url(#ga14)"/>
<polygon points="90.8,65.5 91.4,65 92.1,65.8 92.1,65.8 90.8,65.5" fill="url(#ga14)"/>
<polygon points="97.5,66.8 98.2,65.9 98.9,67 98.9,67.1 97.5,66.9" fill="url(#ga14)"/>
<polygon points="105,68.3 105.7,67.6 106.3,68.6 106.3,68.6 105,68.3" fill="url(#ga14)"/>
<polygon points="111.8,69.6 112.4,69.3 113.1,69.9 113.1,69.9 111.8,69.7" fill="url(#ga14)"/>
<polygon points="118.5,71 119.2,70.3 119.9,71 120.6,71.4 120.6,71.4 118.5,71" fill="url(#ga14)"/>
<polygon points="55.4,59.5 56.1,59.5 56.8,58.2 57.5,58.8 58.2,58.3 58.8,55.5 59.5,54.4 60.2,51.9 60.9,53 61.5,57.5 62.2,57.6 62.9,58.1 63.6,60.4 64.3,60.7 64.9,60.8 65.6,59.8 66.3,60.4 67,60.4 67.7,60.3 68.3,61.2 69,60.2 69.7,61.4 70.4,61 71,62.1 71.7,61 72.4,59.2 73.1,53.1 73.8,44.5 74.4,35.6 75.1,18.6 75.8,28 76.5,33.9 77.1,54.4 77.8,52.9 78.5,58 79.2,45.1 79.9,58.2 80.5,55.2 81.2,43.6 81.9,34 82.6,35.9 83.2,49.1 83.9,57.5 84.6,62.3 85.3,64.7 86,64.5 86.6,65.6 86.6,65.7 55.4,59.6" fill="url(#ga13)"/>
<polygon points="90,66.2 90.7,65.4 91.4,66.7 91.4,66.7 90,66.4" fill="url(#ga13)"/>
<polygon points="96.8,67.7 97.5,66.5 98.2,67.9 98.2,68 96.8,67.7" fill="url(#ga13)"/>
<polygon points="103.6,69.1 104.3,68.9 104.9,68.5 105.6,69.5 105.6,69.5 103.6,69.1" fill="url(#ga13)"/>
<polygon points="111,70.5 111.7,69.6 112.4,70.8 112.4,70.8 111,70.5" fill="url(#ga13)"/>
<polygon points="118.5,71.8 119.2,71.7 119.8,72.3 119.8,72.3 118.5,72" fill="url(#ga13)"/>
<polygon points="125.9,73.5 126.6,72.9 127.3,73.7 127.3,73.7 125.9,73.5" fill="url(#ga13)"/>
<polygon points="54.7,60.4 55.4,60.2 56.1,59.6 56.7,59.6 57.4,58.5 58.1,55.2 58.8,54.6 59.5,55.6 60.1,55.3 60.8,56.5 61.5,59.8 62.2,60.4 62.8,60.6 63.5,61.1 64.2,61 64.9,61.7 65.6,60.4 66.2,61.2 66.9,61.9 67.6,61.9 68.3,61.8 68.9,62.6 69.6,61.2 70.3,62.3 71,62.6 71.7,60.2 72.3,56.4 73,51.4 73.7,35.4 74.4,35.4 75,33.4 75.7,38.4 76.4,41.2 77.1,51.9 77.8,49.8 78.4,50.9 79.1,43 79.8,43.4 80.5,45.7 81.1,32.3 81.8,43.9 82.5,49.1 83.2,58.4 83.9,62.1 84.5,65.1 85.2,65.7 85.9,66.4 86.6,66.5 87.2,66.8 87.2,66.9 54.7,60.5" fill="url(#ga12)"/>
<polygon points="88.6,67.1 89.3,67 90,67.4 90,67.4 88.6,67.1" fill="url(#ga12)"/>
<polygon points="102.8,69.9 103.5,69.7 104.2,69.3 104.9,70.3 104.9,70.3 102.8,69.9" fill="url(#ga12)"/>
<polygon points="54,61.2 54.7,61 55.3,61.1 56,59.7 56.7,56.9 57.4,57.2 58,58.7 58.7,57.6 59.4,56 60.1,58.4 60.8,57.8 61.4,61 62.1,61.3 62.8,62 63.5,62.3 64.1,61.8 64.8,61 65.5,62.2 66.2,61.3 66.9,61.2 67.5,61.4 68.2,63.1 68.9,62.9 69.6,63.1 70.2,62.2 70.9,61.5 71.6,58.2 72.3,46.6 73,41.4 73.6,34.9 74.3,45.9 75,38.6 75.7,56.3 76.3,46.4 77,61.3 77.7,61.8 78.4,55.7 79.1,48.6 79.7,45.1 80.4,48.5 81.1,50.2 81.8,54 82.4,62.4 83.1,63.2 83.8,66 84.5,66.7 85.2,67.3 85.2,67.5 54,61.3" fill="url(#ga11)"/>
<polygon points="88.5,68.1 89.2,67.7 89.9,68.4 89.9,68.4 88.5,68.1" fill="url(#ga11)"/>
<polygon points="124.5,75.2 125.1,73.9 125.8,75.4 125.8,75.5 124.5,75.2" fill="url(#ga11)"/>
<polygon points="53.2,62.1 53.9,62.1 54.6,61.3 55.3,60.7 55.9,60.7 56.6,60.4 57.3,59 58,59.2 58.7,60.7 59.3,56.8 60,60.8 60.7,61.4 61.4,62 62,62.5 62.7,63.1 63.4,62.1 64.1,61.7 64.8,63.7 65.4,61.5 66.1,62.7 66.8,63.2 67.5,62.9 68.1,63.8 68.8,64.4 69.5,63.8 70.2,63.8 70.9,59.4 71.5,54.9 72.2,49.4 72.9,43.1 73.6,48.3 74.2,52.4 74.9,46.6 75.6,62.4 76.3,60.7 77,60 77.6,49.7 78.3,57.2 79,52.9 79.7,47.6 80.3,49.2 81,54.5 81.7,63.2 82.4,66.6 83.1,67 83.7,67.9 84.4,68.1 85.1,68.4 85.1,68.5 53.2,62.2" fill="url(#ga10)"/>
<polygon points="94.6,70.3 95.3,68.6 95.9,70.5 95.9,70.6 94.6,70.4" fill="url(#ga10)"/>
<polygon points="101.4,71.7 102,71.3 102.7,71.4 103.4,72.1 103.4,72.1 101.4,71.7" fill="url(#ga10)"/>
<polygon points="116.3,74.5 117,74.5 117.6,74.9 117.6,74.9 116.3,74.6" fill="url(#ga10)"/>
<polygon points="123.7,76.1 124.4,75.7 125.1,76.2 125.1,76.4 123.7,76.1" fill="url(#ga10)"/>
<polygon points="52.5,63 53.2,62.6 53.9,62.4 54.5,61.5 55.2,59.7 55.9,59.9 56.6,58.6 57.2,59.5 57.9,57.8 58.6,58.3 59.3,61.6 60,62.7 60.6,63.7 61.3,64 62,63.7 62.7,64 63.3,63.4 64,62.7 64.7,63.1 65.4,63 66.1,64.1 66.7,63.6 67.4,64.1 68.1,65.4 68.8,64.4 69.4,64.6 70.1,63.5 70.8,61.3 71.5,55 72.2,50.5 72.8,48.5 73.5,48.7 74.2,61.2 74.9,62.5 75.5,53.6 76.2,54.2 76.9,58.3 77.6,62.4 78.3,58.4 78.9,59.1 79.6,57.5 80.3,60.4 81,62.8 81.6,68 82.3,67.4 83,68.8 83.7,69 83.7,69.2 52.5,63.1" fill="url(#ga9)"/>
<polygon points="86.4,69.8 87.1,69.3 87.7,69.2 88.4,70.2 88.4,70.2 86.4,69.8" fill="url(#ga9)"/>
<polygon points="100.6,72.6 101.3,72.2 102,72.8 102,72.8 100.6,72.6" fill="url(#ga9)"/>
<polygon points="123,77 123.7,75.7 124.3,77.2 124.3,77.2 123,77" fill="url(#ga9)"/>
<polygon points="51.8,63.8 52.4,63.8 53.1,63.3 53.8,63.1 54.5,60.7 55.1,57.9 55.8,60.6 56.5,62.1 57.2,60.5 57.9,62.6 58.5,60.6 59.2,62.7 59.9,64.4 60.6,64.5 61.2,65.1 61.9,64.4 62.6,63.7 63.3,65.1 64,65.7 64.6,65.6 65.3,65.2 66,64.2 66.7,65.2 67.3,66.2 68,65.3 68.7,66.3 69.4,64.7 70.1,62.1 70.7,60.1 71.4,56.5 72.1,54.3 72.8,52.7 73.5,54.9 74.1,56.8 74.8,62.6 75.5,65.5 76.2,55 76.8,64.1 77.5,56.5 78.2,62.1 78.9,59.1 79.6,63.5 80.2,67.2 80.9,69.1 81.6,69.2 82.3,69.8 82.3,70 51.8,64" fill="url(#ga8)"/>
<polygon points="85.7,70.6 86.3,70.1 87,70.8 87,70.9 85.7,70.6" fill="url(#ga8)"/>
<polygon points="93.1,72.1 93.8,71.9 94.5,72.2 94.5,72.4 93.1,72.1" fill="url(#ga8)"/>
<polygon points="100.6,73.5 101.2,73 101.9,73.8 101.9,73.8 100.6,73.6" fill="url(#ga8)"/>
<polygon points="107.3,74.9 108,74.7 108.7,75.2 108.7,75.2 107.3,74.9" fill="url(#ga8)"/>
<polygon points="114.1,76.2 114.8,75.7 115.5,76.2 116.2,76.6 116.2,76.6 114.1,76.2" fill="url(#ga8)"/>
<polygon points="122.9,77.9 123.6,77.7 124.3,78.3 124.3,78.3 122.9,78" fill="url(#ga8)"/>
<polygon points="51,64.7 51.7,64.6 52.4,64 53.1,63.9 53.7,63.7 54.4,61.1 55.1,61.2 55.8,60.2 56.4,61 57.1,63.9 57.8,64.3 58.5,63.6 59.2,65 59.8,65.2 60.5,65 61.2,66 61.9,65.7 62.5,66 63.2,65.5 63.9,66.2 64.6,66.8 65.3,65.1 65.9,66.4 66.6,65.7 67.3,67.1 68,66.8 68.6,66.2 69.3,64.4 70,60.3 70.7,63.7 71.4,61.3 72,59.4 72.7,60.5 73.4,56.2 74.1,59.2 74.7,55.3 75.4,66.1 76.1,67.1 76.8,66.3 77.5,65.2 78.1,65.2 78.8,67.6 79.5,69.3 80.2,68.7 80.8,69.6 81.5,70.6 82.2,70.7 82.9,71 82.9,71.1 51,64.8" fill="url(#ga7)"/>
<polygon points="85.6,71.5 86.3,71.5 86.9,71.9 86.9,71.9 85.6,71.6" fill="url(#ga7)"/>
<polygon points="92.4,73 93,72.7 93.7,73.1 93.7,73.3 92.4,73" fill="url(#ga7)"/>
<polygon points="99.1,74.3 99.8,73.6 100.5,74.2 101.2,74.7 101.2,74.7 99.1,74.3" fill="url(#ga7)"/>
<polygon points="113.4,77.1 114.1,76.7 114.7,77.3 114.7,77.4 113.4,77.1" fill="url(#ga7)"/>
<polygon points="121.5,78.7 122.2,77.4 122.9,79 122.9,79 121.5,78.7" fill="url(#ga7)"/>
<polygon points="50.3,65.5 51,65.1 51.6,64.1 52.3,64.2 53,63.5 53.7,61.1 54.4,62.3 55,60.9 55.7,59.9 56.4,64.9 57.1,63.2 57.7,64.7 58.4,66.1 59.1,66.7 59.8,67.1 60.5,66.2 61.1,66.3 61.8,66 62.5,67.2 63.2,67.2 63.8,66.2 64.5,67.7 65.2,66.3 65.9,67.6 66.6,68.1 67.2,67.8 67.9,67.1 68.6,65.5 69.3,64.4 69.9,63.7 70.6,64 71.3,65.4 72,66.7 72.7,64.6 73.3,66 74,64.7 74.7,68.3 75.4,64.1 76,66.4 76.7,66.6 77.4,67 78.1,67.8 78.8,70.7 79.4,71.1 80.1,71.4 80.8,71.3 81.5,71.7 81.5,71.9 50.3,65.7" fill="url(#ga6)"/>
<polygon points="84.9,72.5 85.5,72 86.2,72.8 86.2,72.8 84.9,72.5" fill="url(#ga6)"/>
<polygon points="91.6,73.9 92.3,73.1 93,74 93,74.1 91.6,73.9" fill="url(#ga6)"/>
<polygon points="98.4,75.2 99.1,74.9 99.8,75.2 100.4,75.6 100.4,75.6 98.4,75.2" fill="url(#ga6)"/>
<polygon points="105.9,76.7 106.5,76.3 107.2,76.9 107.2,76.9 105.9,76.7" fill="url(#ga6)"/>
<polygon points="113.3,78 114,77.9 114.7,78.4 114.7,78.4 113.3,78.1" fill="url(#ga6)"/>
<polygon points="121.5,79.6 122.1,79.4 122.8,80 122.8,80 121.5,79.7" fill="url(#ga6)"/>
<polygon points="48.9,66.4 49.5,66.2 50.2,65.4 50.9,62.8 51.6,62.2 52.3,62.8 52.9,63.3 53.6,61 54.3,60.3 55,64.2 55.6,63.1 56.3,66.5 57,65.7 57.7,66.8 58.4,67.1 59,67.4 59.7,68.1 60.4,66.9 61.1,67.6 61.7,68.3 62.4,67.2 63.1,68.6 63.8,67.3 64.5,68.9 65.1,67.8 65.8,68.1 66.5,69 67.2,69.3 67.8,68.7 68.5,68 69.2,65.2 69.9,63.8 70.6,68.5 71.2,63.4 71.9,66.2 72.6,67.1 73.3,68.5 73.9,66.8 74.6,65.3 75.3,69.7 76,68.8 76.7,68.2 77.3,71.1 78,71.4 78.7,72 79.4,72.3 79.4,72.5 48.9,66.5" fill="url(#ga5)"/>
<polygon points="84.1,73.2 84.8,73.2 85.5,73.7 85.5,73.7 84.1,73.4" fill="url(#ga5)"/>
<polygon points="97.7,76.1 98.4,75.9 99,76.3 99,76.3 97.7,76.1" fill="url(#ga5)"/>
<polygon points="105.1,77.5 105.8,77.2 106.5,77.8 106.5,77.8 105.1,77.5" fill="url(#ga5)"/>
<polygon points="111.9,78.9 112.6,78 113.3,79.1 113.3,79.1 111.9,78.9" fill="url(#ga5)"/>
<polygon points="48.1,67.2 48.8,66.9 49.5,65 50.2,60.6 50.8,59.9 51.5,62.2 52.2,65.7 52.9,66.1 53.6,61.7 54.2,65.2 54.9,66.4 55.6,65.7 56.3,66.9 56.9,68 57.6,68.2 58.3,68.6 59,68.7 59.7,67.7 60.3,68.4 61,67.7 61.7,69.3 62.4,69.6 63,69.6 63.7,69.3 64.4,69.4 65.1,70.1 65.8,70 66.4,70.2 67.1,69.5 67.8,69.9 68.5,69.2 69.1,68.7 69.8,66.3 70.5,67.1 71.2,66.5 71.9,67 72.5,68.1 73.2,69.9 73.9,70.9 74.6,71 75.2,69.3 75.9,71.2 76.6,71.3 77.3,71.7 78,73 78.6,73 79.3,73.4 79.3,73.5 48.1,67.3" fill="url(#ga4)"/>
<polygon points="83.4,74.3 84.1,74.1 84.7,74.5 84.7,74.5 83.4,74.3" fill="url(#ga4)"/>
<polygon points="104.4,78.3 105.1,78.3 105.7,78.7 105.7,78.7 104.4,78.4" fill="url(#ga4)"/>
<polygon points="47.4,68.1 48.1,67.4 48.7,63.6 49.4,59.6 50.1,54.8 50.8,61.9 51.5,64.9 52.1,62.4 52.8,63.5 53.5,67.4 54.2,67.6 54.8,67.7 55.5,67.6 56.2,68.4 56.9,69.2 57.6,69.6 58.2,68.9 58.9,68.9 59.6,69.9 60.3,69.5 60.9,70.4 61.6,69.7 62.3,70.4 63,70.4 63.7,70.1 64.3,70.8 65,71.2 65.7,70.5 66.4,71.4 67,71.5 67.7,69.9 68.4,66.2 69.1,70.5 69.8,70.1 70.4,71.7 71.1,71.9 71.8,71 72.5,72 73.2,72.4 73.8,72.7 74.5,72.4 75.2,71.4 75.9,72.9 76.5,72.8 77.2,73.9 77.2,74.1 47.4,68.2" fill="url(#ga3)"/>
<polygon points="82,75 82.6,74.8 83.3,74.2 84,75.4 84,75.4 82,75" fill="url(#ga3)"/>
<polygon points="89.4,76.5 90.1,75 90.8,76.7 90.8,76.8 89.4,76.5" fill="url(#ga3)"/>
<polygon points="96.2,77.8 96.9,77.7 97.6,77.8 98.2,78.2 98.2,78.2 96.2,77.8" fill="url(#ga3)"/>
<polygon points="118.6,82.2 119.2,82 119.9,82.3 119.9,82.5 118.6,82.2" fill="url(#ga3)"/>
<polygon points="46.7,69 47.3,68.4 48,64.1 48.7,56 49.4,58.9 50,63.2 50.7,65.4 51.4,67.3 52.1,65.2 52.8,67.3 53.4,67.4 54.1,68.1 54.8,68.4 55.5,69.7 56.1,70.5 56.8,70.3 57.5,70.7 58.2,71 58.9,70.7 59.5,70.3 60.2,70.6 60.9,70.7 61.6,71.3 62.2,71.4 62.9,72 63.6,72.2 64.3,72 65,72.4 65.6,72.4 66.3,72.3 67,68.4 67.7,59.9 68.3,69.1 69,71.9 69.7,71.3 70.4,73.1 71.1,71.4 71.7,71 72.4,71.8 73.1,73.2 73.8,72.5 74.4,72.9 75.1,73.7 75.8,74.7 75.8,74.8 46.7,69.1" fill="url(#ga2)"/>
<polygon points="81.9,76 82.6,75.1 83.3,76.3 83.3,76.3 81.9,76" fill="url(#ga2)"/>
<polygon points="96.1,78.8 96.8,78.5 97.5,79.1 97.5,79.1 96.1,78.8" fill="url(#ga2)"/>
<polygon points="45.9,69.9 46.6,69.3 47.3,66.3 47.9,62.5 48.6,62.6 49.3,66.3 50,65.5 50.7,66.2 51.3,69 52,68.7 52.7,66.8 53.4,68 54.1,69.6 54.7,70.3 55.4,70.9 56.1,71.2 56.8,71.4 57.4,71.6 58.1,72.1 58.8,71.4 59.5,71.5 60.2,72.4 60.8,72 61.5,72.3 62.2,72.5 62.9,72.6 63.5,72.9 64.2,73.4 64.9,72.9 65.6,72.7 66.3,68.9 66.9,56.8 67.6,68.5 68.3,73.8 69,73.6 69.6,72.3 70.3,73.1 71,74.4 71.7,73.9 72.4,73.5 73,73.9 73.7,75 74.4,74.8 75.1,75.6 75.1,75.7 45.9,70" fill="url(#ga1)"/>
<polygon points="80.5,76.8 81.2,76.5 81.8,77 81.8,77 80.5,76.8" fill="url(#ga1)"/>
<polygon points="109,82.4 109.6,82.2 110.3,82.6 110.3,82.6 109,82.4" fill="url(#ga1)"/>
<polygon points="45.2,70.7 45.9,70.6 46.5,68.9 47.2,66.5 47.9,66.3 48.6,67.6 49.2,67.5 49.9,66.3 50.6,67.7 51.3,70.2 52,69.3 52.6,71.3 53.3,70.7 54,71.7 54.7,72.3 55.3,72.6 56,72.1 56.7,72.6 57.4,72.9 58.1,73.1 58.7,72.8 59.4,73.4 60.1,73.1 60.8,73.6 61.4,73.8 62.1,73.6 62.8,74 63.5,74.3 64.2,74.4 64.8,74.1 65.5,71.2 66.2,60.6 66.9,70.4 67.5,73.7 68.2,74.4 68.9,74.6 69.6,74.2 70.3,74.8 70.9,74.4 71.6,75.3 72.3,75.7 73,76 73.6,76.1 74.3,76.3 75,76.5 75,76.7 45.2,70.8" fill="url(#ga0)"/>
<polygon points="80.4,77.8 81.1,77.4 81.8,78 81.8,78 80.4,77.8" fill="url(#ga0)"/>
<polygon points="87.2,79.1 87.9,78.5 88.6,79.4 88.6,79.4 87.2,79.1" fill="url(#ga0)"/>
<polygon points="94.7,80.6 95.3,80.1 96,80.9 96,80.9 94.7,80.6" fill="url(#ga0)"/>
<polygon points="108.2,83.3 108.9,83 109.6,83.3 109.6,83.5 108.2,83.3" fill="url(#ga0)"/>
<polygon points="116.4,84.9 117,84.7 117.7,85.1 117.7,85.1 116.4,84.9" fill="url(#ga0)"/>
<polygon points="222,67.5 324,90.3 336,61.8 234,39" fill="#0c0cf4"/>
<polygon points="234,38.8 234.7,37.8 235.4,35.7 236.1,35.8 236.7,36.4 237.4,38.8 238.1,39.5 238.8,39.6 239.5,39.6 240.2,39.4 240.8,39 241.5,39 242.2,39.1 242.9,36 243.6,37.6 244.3,38.2 245,39.5 245.6,37.4 246.3,39.9 247,36.9 247.7,40.3 248.4,41.3 249.1,41.6 249.7,40.1 250.4,42.2 251.1,41.8 251.8,42.4 252.5,42.7 253.2,43.2 253.9,43.2 254.5,43.3 255.2,42.7 255.9,43.4 256.6,40.1 257.3,40.4 258,40 258.6,42.2 259.3,43 260,43.6 260.7,43.5 261.4,42.2 262.1,42.9 262.8,45.3 262.8,45.4 234,39" fill="url(#gb29)"/>
<polygon points="264.1,45.6 264.8,44.4 265.5,46 265.5,46 264.1,45.7" fill="url(#gb29)"/>
<polygon points="267.5,46.5 268.2,46.3 268.9,46.1 269.6,46.9 269.6,47 267.5,46.5" fill="url(#gb29)"/>
<polygon points="271.7,47.4 272.3,47.2 273,46.7 273.7,47.9 273.7,47.9 271.7,47.4" fill="url(#gb29)"/>
<polygon points="279.2,49 279.9,47.7 280.6,49.3 280.6,49.4 279.2,49.1" fill="url(#gb29)"/>
<polygon points="286.7,50.8 287.4,50.3 288.1,51.1 288.1,51.1 286.7,50.8" fill="url(#gb29)"/>
<polygon points="294.9,52.6 295.6,52.3 296.3,52.9 296.3,52.9 294.9,52.6" fill="url(#gb29)"/>
<polygon points="233.6,39.8 234.3,39.1 235,37.6 235.6,37.5 236.3,38.1 237,39.7 237.7,40.5 238.4,40.3 239.1,40.2 239.7,40.6 240.4,39.7 241.1,39 241.8,39 242.5,37.1 243.2,38.1 243.9,39.6 244.5,39.5 245.2,37.6 245.9,40.8 246.6,36.2 247.3,41.3 248,41.9 248.6,41.8 249.3,40.3 250,43.1 250.7,42.7 251.4,43.6 252.1,43.5 252.8,44.1 253.4,44.2 254.1,44.3 254.8,43.9 255.5,44.1 256.2,41.7 256.9,42.1 257.5,39.8 258.2,39.5 258.9,42.3 259.6,45 260.3,43 261,37.2 261.7,42.7 262.3,46 263,46.6 263.7,46.2 264.4,46.2 265.1,47 265.1,47 233.6,40" fill="url(#gb28)"/>
<polygon points="267.8,47.6 268.5,46.8 269.2,47.9 269.2,47.9 267.8,47.6" fill="url(#gb28)"/>
<polygon points="271.2,48.4 271.9,48 272.6,47.2 273.3,48.9 273.3,48.9 271.2,48.4" fill="url(#gb28)"/>
<polygon points="278.8,50.1 279.5,48.9 280.1,50.4 280.1,50.4 278.8,50.1" fill="url(#gb28)"/>
<polygon points="285.6,51.6 286.3,51.5 287,51.1 287.7,52.1 287.7,52.1 285.6,51.6" fill="url(#gb28)"/>
<polygon points="293.8,53.4 294.5,52.9 295.2,53.3 295.9,53.9 295.9,53.9 293.8,53.4" fill="url(#gb28)"/>
<polygon points="233.2,40.8 233.9,39.8 234.5,37.6 235.2,37.3 235.9,37.6 236.6,40.5 237.3,41.3 238,41.2 238.6,41.2 239.3,40.9 240,39.5 240.7,40.6 241.4,39.9 242.1,35.8 242.8,37.5 243.4,37.7 244.1,41.2 244.8,37.9 245.5,41.1 246.2,35.7 246.9,42.4 247.5,42.6 248.2,42.9 248.9,40.8 249.6,43.5 250.3,43.1 251,44.1 251.7,44.3 252.3,45 253,45.2 253.7,45.3 254.4,44.8 255.1,45.2 255.8,40.9 256.4,42.2 257.1,44.3 257.8,44.2 258.5,43.8 259.2,45.9 259.9,41.9 260.6,37.5 261.2,39.6 261.9,46.8 262.6,47.5 263.3,47.4 264,47.6 264.7,48 264.7,48 233.2,41" fill="url(#gb27)"/>
<polygon points="266.7,48.5 267.4,48.2 268.1,47.2 268.8,48.9 268.8,48.9 266.7,48.5" fill="url(#gb27)"/>
<polygon points="271.5,49.5 272.2,48.5 272.9,49.8 272.9,49.8 271.5,49.5" fill="url(#gb27)"/>
<polygon points="278.4,51.1 279,50.7 279.7,51.2 279.7,51.4 278.4,51.1" fill="url(#gb27)"/>
<polygon points="293.4,54.4 294.1,53.6 294.8,54 295.5,54.9 295.5,54.9 293.4,54.4" fill="url(#gb27)"/>
<polygon points="232.8,41.7 233.4,41.2 234.1,39.6 234.8,38.5 235.5,38.6 236.2,41.4 236.9,42.4 237.6,41.8 238.2,41.8 238.9,41.8 239.6,39.4 240.3,38.9 241,38.8 241.7,38.5 242.3,40.2 243,40.5 243.7,40.6 244.4,39.9 245.1,40 245.8,33.2 246.4,42.9 247.1,42.4 247.8,43.7 248.5,42.6 249.2,44.2 249.9,44.3 250.6,45 251.2,45.3 251.9,46 252.6,46.2 253.3,46.2 254,46.2 254.7,45.8 255.3,42.4 256,44.6 256.7,37.6 257.4,41.1 258.1,45 258.8,44.7 259.5,40 260.1,23.8 260.8,38.8 261.5,46.8 262.2,48.5 262.9,48.7 263.6,48.4 264.2,49 264.2,49 232.8,41.9" fill="url(#gb26)"/>
<polygon points="266.3,49.4 267,49.3 267.7,49.5 268.4,49.9 268.4,49.9 266.3,49.4" fill="url(#gb26)"/>
<polygon points="270.4,50.4 271.1,49.9 271.8,50.2 272.5,50.8 272.5,50.8 270.4,50.4" fill="url(#gb26)"/>
<polygon points="277.9,52 278.6,51 279.3,52.3 279.3,52.4 277.9,52" fill="url(#gb26)"/>
<polygon points="284.8,53.6 285.5,52.4 286.2,53.8 286.2,53.9 284.8,53.6" fill="url(#gb26)"/>
<polygon points="293,55.4 293.7,54.6 294.4,55.5 295.1,55.9 295.1,55.9 293,55.4" fill="url(#gb26)"/>
<polygon points="232.3,42.6 233,42 233.7,40 234.4,39.5 235.1,39.8 235.8,42 236.5,43.1 237.1,42.6 237.8,42.9 238.5,42.7 239.2,41.4 239.9,39.7 240.6,38 241.2,37 241.9,38.8 242.6,38.3 243.3,41.7 244,36.8 244.7,41.5 245.4,33 246,43.4 246.7,43.9 247.4,44.8 248.1,43 248.8,45.3 249.5,44.9 250.1,46.1 250.8,46.5 251.5,47 252.2,47.1 252.9,47.1 253.6,46.3 254.3,44.9 254.9,44.9 255.6,39.8 256.3,44.9 257,45 257.7,42 258.4,46.3 259,42.7 259.7,29.4 260.4,35.8 261.1,47.9 261.8,49.5 261.8,49.5 232.3,42.9" fill="url(#gb25)"/>
<polygon points="266.6,50.6 267.3,49.1 267.9,50.9 267.9,50.9 266.6,50.6" fill="url(#gb25)"/>
<polygon points="270,51.3 270.7,50.9 271.4,50.7 272,51.8 272,51.8 270,51.3" fill="url(#gb25)"/>
<polygon points="277.5,53 278.2,51.8 278.9,53.3 278.9,53.3 277.5,53" fill="url(#gb25)"/>
<polygon points="284.4,54.6 285.1,54.4 285.7,54.4 286.4,55 286.4,55 284.4,54.6" fill="url(#gb25)"/>
<polygon points="293.3,56.5 294,56.4 294.6,56.9 294.6,56.9 293.3,56.5" fill="url(#gb25)"/>
<polygon points="231.9,43.5 232.6,42.5 233.3,39.9 234,38.7 234.7,40.4 235.4,42.9 236,44 236.7,43.8 237.4,43.8 238.1,43.7 238.8,41.7 239.5,39.7 240.1,40 240.8,35.8 241.5,37.6 242.2,39.8 242.9,40.8 243.6,40.5 244.3,41.3 244.9,37.9 245.6,42.7 246.3,44.2 247,44.8 247.7,42.3 248.4,46.4 249,45 249.7,47 250.4,47.3 251.1,47.9 251.8,48.1 252.5,47.9 253.2,48.1 253.8,47.8 254.5,43.9 255.2,41.9 255.9,47.3 256.6,44.4 257.3,48.2 257.9,47.6 258.6,40.6 259.3,12.1 260,28.3 260.7,49 261.4,50.5 262.1,50.1 262.7,50.5 263.4,50.9 263.4,51 231.9,43.9" fill="url(#gb24)"/>
<polygon points="265.5,51.4 266.2,50.7 266.8,50.1 267.5,51.9 267.5,51.9 265.5,51.4" fill="url(#gb24)"/>
<polygon points="269.6,52.3 270.3,52.2 271,51.4 271.6,52.8 271.6,52.8 269.6,52.3" fill="url(#gb24)"/>
<polygon points="277.1,54 277.8,53 278.5,54.1 278.5,54.3 277.1,54" fill="url(#gb24)"/>
<polygon points="284,55.5 284.6,55.2 285.3,55.3 286,56 286,56 284,55.5" fill="url(#gb24)"/>
<polygon points="292.2,57.4 292.9,56 293.5,57.3 294.2,57.8 294.2,57.8 292.2,57.4" fill="url(#gb24)"/>
<polygon points="231.5,44.5 232.2,43.1 232.9,41.9 233.6,38.9 234.3,42 234.9,43.8 235.6,45 236.3,44.7 237,44.9 237.7,44.4 238.4,41.2 239,43 239.7,40.7 240.4,32.6 241.1,41.5 241.8,38.5 242.5,43.3 243.2,40.3 243.8,43.7 244.5,39.5 245.2,43.6 245.9,45.6 246.6,45.9 247.3,42.3 247.9,47 248.6,46.9 249.3,47.7 250,48 250.7,48.9 251.4,48.9 252.1,48.7 252.7,48.4 253.4,48.2 254.1,44.7 254.8,47.7 255.5,48.2 256.2,48.7 256.8,44.8 257.5,49.5 258.2,41.2 258.9,30.9 259.6,30.9 260.3,49.1 261,51.4 261,51.5 231.5,44.9" fill="url(#gb23)"/>
<polygon points="265.1,52.4 265.7,51.9 266.4,52.5 267.1,52.8 267.1,52.9 265.1,52.4" fill="url(#gb23)"/>
<polygon points="269.2,53.3 269.9,52.4 270.5,52.6 271.2,53.8 271.2,53.8 269.2,53.3" fill="url(#gb23)"/>
<polygon points="276.7,55 277.4,52.5 278.1,55.2 278.1,55.3 276.7,55" fill="url(#gb23)"/>
<polygon points="283.5,56.5 284.2,56.1 284.9,56.6 284.9,56.8 283.5,56.5" fill="url(#gb23)"/>
<polygon points="291.8,58.4 292.4,58.2 293.1,58.5 293.1,58.7 291.8,58.4" fill="url(#gb23)"/>
<polygon points="231.1,45.4 231.8,44.7 232.5,43.4 233.2,41.6 233.8,41.5 234.5,44.2 235.2,46 235.9,45.7 236.6,45.3 237.3,45.1 237.9,43.1 238.6,41.9 239.3,41.7 240,34.4 240.7,39.2 241.4,42.3 242.1,42.1 242.7,36.7 243.4,42.1 244.1,38.4 244.8,44.9 245.5,45.9 246.2,46.7 246.8,45.7 247.5,47.4 248.2,47 248.9,48.5 249.6,49.1 250.3,49.9 251,49.9 251.6,49.6 252.3,49.1 253,49.9 253.7,45.2 254.4,42.8 255.1,42.3 255.7,41.3 256.4,49.7 257.1,49.9 257.8,46 258.5,33.8 259.2,39.3 259.9,50.6 260.5,52.4 261.2,51.9 261.9,50.4 262.6,52.9 262.6,52.9 231.1,45.9" fill="url(#gb22)"/>
<polygon points="264.6,53.4 265.3,52.8 266,53.2 266.7,53.8 266.7,53.8 264.6,53.4" fill="url(#gb22)"/>
<polygon points="276.3,56 277,54.2 277.7,56.3 277.7,56.3 276.3,56" fill="url(#gb22)"/>
<polygon points="283.1,57.5 283.8,56.7 284.5,56.7 285.2,58 285.2,58 283.1,57.5" fill="url(#gb22)"/>
<polygon points="292,59.4 292.7,59.4 293.4,59.8 293.4,59.8 292,59.5" fill="url(#gb22)"/>
<polygon points="230.7,46.6 231.4,45.2 232.1,43.5 232.7,40.8 233.4,43.3 234.1,45.7 234.8,46.9 235.5,46 236.2,45.7 236.9,46.3 237.5,42.7 238.2,43.5 238.9,43.4 239.6,35 240.3,41.4 241,40.8 241.6,42.8 242.3,43.1 243,44.1 243.7,36.9 244.4,47 245.1,45.9 245.8,46.9 246.4,43.4 247.1,49 247.8,47.8 248.5,49.5 249.2,49.9 249.9,50.8 250.5,50.8 251.2,51.2 251.9,51.2 252.6,50.6 253.3,48.5 254,43.2 254.6,42 255.3,44.9 256,45.7 256.7,48 257.4,49.4 258.1,37.6 258.8,41.8 259.4,52.5 260.1,53.4 260.8,52.9 261.5,53.2 262.2,53.9 262.2,53.9 230.7,46.9" fill="url(#gb21)"/>
<polygon points="264.2,54.4 264.9,54.2 265.6,53.8 266.3,54.8 266.3,54.8 264.2,54.4" fill="url(#gb21)"/>
<polygon points="269,55.4 269.7,53.6 270.4,55.7 270.4,55.7 269,55.4" fill="url(#gb21)"/>
<polygon points="275.9,56.8 276.6,53.9 277.2,57.1 277.2,57.3 275.9,57" fill="url(#gb21)"/>
<polygon points="282.7,58.5 283.4,57.3 284.1,57.4 284.8,58.9 284.8,59 282.7,58.5" fill="url(#gb21)"/>
<polygon points="291.6,60.4 292.3,59.8 293,60.8 293,60.8 291.6,60.5" fill="url(#gb21)"/>
<polygon points="230.3,47.3 231,46.4 231.6,43.2 232.3,40.4 233,43.8 233.7,46.8 234.4,47.8 235.1,47.5 235.8,46.7 236.4,47.2 237.1,44.9 237.8,42.6 238.5,43.3 239.2,39.3 239.9,40.6 240.5,40.3 241.2,46.3 241.9,42.6 242.6,44.6 243.3,33.3 244,48 244.7,48.2 245.3,49.3 246,45 246.7,49.8 247.4,48.6 248.1,50.9 248.8,51.1 249.4,51.7 250.1,52.1 250.8,51.4 251.5,50.2 252.2,51.3 252.9,47.1 253.6,42.3 254.2,44 254.9,42.8 255.6,44 256.3,52 257,51 257.7,42.9 258.3,50 259,53.5 259.7,54.4 259.7,54.4 230.3,47.8" fill="url(#gb20)"/>
<polygon points="263.8,55.3 264.5,55.3 265.2,54 265.9,55.8 265.9,55.8 263.8,55.3" fill="url(#gb20)"/>
<polygon points="268.6,56.2 269.3,55.1 270,56.7 270,56.7 268.6,56.4" fill="url(#gb20)"/>
<polygon points="275.5,57.8 276.1,54.8 276.8,58.2 276.8,58.3 275.5,57.9" fill="url(#gb20)"/>
<polygon points="283,59.5 283.7,59 284.4,59.9 284.4,59.9 283,59.6" fill="url(#gb20)"/>
<polygon points="290.5,61.3 291.2,60.9 291.9,61.3 292.6,61.8 292.6,61.8 290.5,61.3" fill="url(#gb20)"/>
<polygon points="229.9,48.2 230.5,47 231.2,45.9 231.9,44.1 232.6,43.1 233.3,47 234,48.8 234.7,48.5 235.3,47.8 236,48.7 236.7,43.7 237.4,46.7 238.1,44.9 238.8,38.3 239.4,45.6 240.1,45.8 240.8,45.1 241.5,41.1 242.2,46.8 242.9,34.9 243.6,49.2 244.2,49.3 244.9,49.5 245.6,46.2 246.3,51.1 247,50.6 247.7,52 248.3,51.8 249,52.9 249.7,53.1 250.4,53 251.1,51 251.8,52.9 252.5,50.4 253.1,41.7 253.8,50.9 254.5,44.7 255.2,47 255.9,53.3 256.6,51.7 257.2,48.3 257.9,52.6 258.6,54.9 259.3,55.4 260,55.2 260.7,53.4 261.4,55.8 261.4,55.9 229.9,48.8" fill="url(#gb19)"/>
<polygon points="263.4,56.3 264.1,55.4 264.8,56.6 264.8,56.6 263.4,56.3" fill="url(#gb19)"/>
<polygon points="268.2,57.4 268.9,57.2 269.6,57.7 269.6,57.7 268.2,57.4" fill="url(#gb19)"/>
<polygon points="275.7,58.9 276.4,59 277.1,59.4 277.1,59.4 275.7,59.1" fill="url(#gb19)"/>
<polygon points="281.9,60.5 282.6,59.7 283.3,59.5 283.9,60.9 283.9,60.9 281.9,60.5" fill="url(#gb19)"/>
<polygon points="290.1,62.3 290.8,60.2 291.5,62.1 292.2,62.8 292.2,62.8 290.1,62.3" fill="url(#gb19)"/>
<polygon points="229.4,49.5 230.1,47.7 230.8,46.3 231.5,45.1 232.2,46.3 232.9,47.3 233.6,49.8 234.2,49.7 234.9,49.8 235.6,49.6 236.3,47 237,47.6 237.7,43.4 238.3,41.3 239,44.5 239.7,46.9 240.4,48.6 241.1,42.9 241.8,45.3 242.5,42.6 243.1,49.4 243.8,50.8 244.5,50.3 245.2,48.2 245.9,51.5 246.6,51.8 247.2,52.6 247.9,52.7 248.6,53.9 249.3,54 250,53.5 250.7,53 251.4,51.1 252,49.5 252.7,52.8 253.4,52.6 254.1,51 254.8,53.8 255.5,54.5 256.1,54 256.8,54.2 257.5,54.7 258.2,56.1 258.9,56.4 259.6,56.2 260.3,55.7 260.9,56.8 260.9,56.8 229.4,49.8" fill="url(#gb18)"/>
<polygon points="263.7,57.5 264.4,55.3 265,57.7 265,57.8 263.7,57.5" fill="url(#gb18)"/>
<polygon points="267.1,58.2 267.8,58 268.5,56.6 269.2,58.7 269.2,58.7 267.1,58.2" fill="url(#gb18)"/>
<polygon points="274.6,59.8 275.3,59 276,60.1 276,60.2 274.6,59.9" fill="url(#gb18)"/>
<polygon points="281.5,61.4 282.2,61 282.8,60.3 283.5,61.9 283.5,61.9 281.5,61.4" fill="url(#gb18)"/>
<polygon points="290.4,63.4 291.1,62.8 291.7,63.7 291.7,63.7 290.4,63.4" fill="url(#gb18)"/>
<polygon points="229,50 229.7,49.7 230.4,46 231.1,42.5 231.8,46.1 232.5,48.3 233.1,50.3 233.8,50.1 234.5,50.2 235.2,50.2 235.9,47.1 236.6,48.5 237.2,45.5 237.9,42.4 238.6,46.7 239.3,47.5 240,49.1 240.7,43.9 241.4,46.6 242,40.5 242.7,49.7 243.4,51 244.1,51.4 244.8,48.8 245.5,53.2 246.1,51.7 246.8,54 247.5,53.8 248.2,54.8 248.9,55 249.6,55.1 250.3,55.1 250.9,54.5 251.6,51.7 252.3,44.3 253,48.7 253.7,54 254.4,49.6 255,55.6 255.7,55.8 256.4,56.2 257.1,56.4 257.8,57.1 258.5,57.4 259.2,56.7 259.8,55.2 260.5,57.8 260.5,57.8 229,50.8" fill="url(#gb17)"/>
<polygon points="262.6,58.3 263.3,57.5 263.9,56.3 264.6,58.7 264.6,58.8 262.6,58.3" fill="url(#gb17)"/>
<polygon points="266.7,59.2 267.4,59 268.1,59.1 268.7,59.7 268.7,59.7 266.7,59.2" fill="url(#gb17)"/>
<polygon points="281.1,62.4 281.7,62.3 282.4,61 283.1,62.9 283.1,62.9 281.1,62.4" fill="url(#gb17)"/>
<polygon points="289.3,64.2 290,63.8 290.6,64.4 290.6,64.6 289.3,64.3" fill="url(#gb17)"/>
<polygon points="228.6,51.4 229.3,48.6 230,46 230.7,46 231.4,47 232,50.1 232.7,51.5 233.4,51.8 234.1,51.8 234.8,51.2 235.5,49.6 236.2,48.1 236.8,46.3 237.5,45.1 238.2,46.2 238.9,48.5 239.6,49.5 240.3,48.1 240.9,49.9 241.6,42.8 242.3,51.6 243,52.1 243.7,53.7 244.4,50.8 245.1,54.1 245.7,53.9 246.4,54.7 247.1,55.3 247.8,55.9 248.5,55.8 249.2,55.4 249.8,55.4 250.5,53.5 251.2,55.2 251.9,51 252.6,53 253.3,43.2 253.9,49.2 254.6,54.9 255.3,56.7 256,57.4 256.7,57.8 257.4,58.2 257.4,58.2 228.6,51.8" fill="url(#gb16)"/>
<polygon points="258.7,58.5 259.4,56 260.1,58.8 260.1,58.8 258.7,58.5" fill="url(#gb16)"/>
<polygon points="262.2,59.3 262.8,58.8 263.5,58.3 264.2,59.7 264.2,59.7 262.2,59.3" fill="url(#gb16)"/>
<polygon points="266.3,60.2 267,59.4 267.6,60.5 267.6,60.5 266.3,60.2" fill="url(#gb16)"/>
<polygon points="273.8,61.7 274.5,61.4 275.2,62.1 275.2,62.2 273.8,61.9" fill="url(#gb16)"/>
<polygon points="280.6,63.4 281.3,62.8 282,63.1 282.7,63.9 282.7,63.9 280.6,63.4" fill="url(#gb16)"/>
<polygon points="288.9,65.2 289.5,63.3 290.2,64.3 290.9,65.7 290.9,65.7 288.9,65.2" fill="url(#gb16)"/>
<polygon points="228.2,52 228.9,50.4 229.6,48 230.3,45.1 230.9,48.5 231.6,50.9 232.3,52 233,52.6 233.7,52.7 234.4,52.8 235.1,50.7 235.7,51 236.4,49.2 237.1,44.5 237.8,50.2 238.5,50.4 239.2,50.1 239.8,50 240.5,50 241.2,45.3 241.9,52.4 242.6,53.9 243.3,54.4 244,53.3 244.6,55.5 245.3,54.6 246,55.7 246.7,56 247.4,56.9 248.1,57 248.7,56.4 249.4,56.5 250.1,54.7 250.8,54.9 251.5,54.8 252.2,42.5 252.9,51.6 253.5,49.2 254.2,53.6 254.9,57.7 255.6,58.7 256.3,58.7 257,59.2 257.6,59.3 258.3,59.3 259,56.9 259.7,59.8 259.7,59.8 228.2,52.8" fill="url(#gb15)"/>
<polygon points="262.4,60.3 263.1,59 263.8,60.7 263.8,60.7 262.4,60.4" fill="url(#gb15)"/>
<polygon points="266.5,61.2 267.2,60.2 267.9,61.6 267.9,61.6 266.5,61.3" fill="url(#gb15)"/>
<polygon points="273.4,62.9 274.1,61.6 274.8,63.1 274.8,63.2 273.4,62.9" fill="url(#gb15)"/>
<polygon points="280.2,64.4 280.9,64 281.6,63.8 282.3,64.8 282.3,64.8 280.2,64.4" fill="url(#gb15)"/>
<polygon points="288.4,66.2 289.1,64.4 289.8,66.2 290.5,66.7 290.5,66.7 288.4,66.2" fill="url(#gb15)"/>
<polygon points="227.8,52.4 228.5,49.4 229.2,47.7 229.8,44.9 230.5,49.9 231.2,51.6 231.9,52.7 232.6,53.5 233.3,53.5 234,53.4 234.6,51.3 235.3,51.3 236,51.3 236.7,46.4 237.4,50 238.1,50 238.7,52.2 239.4,52 240.1,53.6 240.8,47.9 241.5,54.3 242.2,55 242.9,56 243.5,54.7 244.2,56.1 244.9,56.3 245.6,57.2 246.3,57.3 247,57.9 247.6,57.9 248.3,57.4 249,56 249.7,54.4 250.4,50.9 251.1,45 251.8,52.6 252.4,47.9 253.1,57.7 253.8,58.7 254.5,59.3 255.2,59.3 255.9,59.8 256.5,60.1 257.2,60.3 257.9,60 258.6,59.7 259.3,60.8 259.3,60.8 227.8,53.7" fill="url(#gb14)"/>
<polygon points="262,61.4 262.7,59.8 263.4,61.7 263.4,61.7 262,61.4" fill="url(#gb14)"/>
<polygon points="265.4,62.2 266.1,62.1 266.8,60.5 267.5,62.6 267.5,62.6 265.4,62.2" fill="url(#gb14)"/>
<polygon points="273,63.8 273.7,63.5 274.3,64.1 274.3,64.1 273,63.8" fill="url(#gb14)"/>
<polygon points="280.5,65.3 281.2,65.1 281.9,65.8 281.9,65.8 280.5,65.5" fill="url(#gb14)"/>
<polygon points="288,67.2 288.7,66.9 289.4,67.4 289.4,67.5 288,67.2" fill="url(#gb14)"/>
<polygon points="227.4,53.1 228.1,52.6 228.7,47.3 229.4,45.4 230.1,51.4 230.8,51.4 231.5,54.5 232.2,54.4 232.9,55 233.5,54.6 234.2,53.2 234.9,53.1 235.6,52.3 236.3,49.9 237,53.4 237.6,53 238.3,53.8 239,52.7 239.7,54.4 240.4,50.6 241.1,56.4 241.8,56.5 242.4,56.7 243.1,55.8 243.8,57.3 244.5,56.9 245.2,58.2 245.9,58.3 246.5,58.8 247.2,59 247.9,59 248.6,58.1 249.3,55.1 250,57.8 250.7,52.4 251.3,56.4 252,47.8 252.7,58.9 253.4,56.9 254.1,60.3 254.8,60.7 254.8,60.8 227.4,54.7" fill="url(#gb13)"/>
<polygon points="256.8,61.3 257.5,61.1 258.2,60.9 258.9,61.8 258.9,61.8 256.8,61.3" fill="url(#gb13)"/>
<polygon points="261.6,62.4 262.3,61.7 263,62.7 263,62.7 261.6,62.4" fill="url(#gb13)"/>
<polygon points="272.6,64.8 273.2,61.7 273.9,65.1 273.9,65.1 272.6,64.8" fill="url(#gb13)"/>
<polygon points="279.4,66.3 280.1,66.2 280.8,66.4 281.5,66.8 281.5,66.8 279.4,66.4" fill="url(#gb13)"/>
<polygon points="287.6,68.2 288.3,66.7 289,68.5 289,68.5 287.6,68.2" fill="url(#gb13)"/>
<polygon points="227,54.7 227.7,50.6 228.3,49 229,47.7 229.7,52.9 230.4,53.6 231.1,54.3 231.8,55.3 232.4,56 233.1,56.1 233.8,54.9 234.5,55.8 235.2,54.8 235.9,52.8 236.5,54.8 237.2,55.1 237.9,56.1 238.6,54.1 239.3,56.5 240,54.6 240.7,57 241.3,58 242,58.4 242.7,57.3 243.4,58.9 244.1,58.4 244.8,59.2 245.4,59.4 246.1,59.8 246.8,59.9 247.5,59.6 248.2,59.1 248.9,59.7 249.6,57.4 250.2,55.4 250.9,55.3 251.6,54.5 252.3,56 253,59.6 253.7,59.5 254.3,61.7 254.3,61.8 227,55.7" fill="url(#gb12)"/>
<polygon points="256.4,62.3 257.1,62.2 257.8,62.4 257.8,62.6 256.4,62.3" fill="url(#gb12)"/>
<polygon points="260.5,63.2 261.2,62.9 261.9,63 262.6,63.7 262.6,63.7 260.5,63.2" fill="url(#gb12)"/>
<polygon points="264.6,64.1 265.3,63.1 266,64.4 266,64.4 264.6,64.1" fill="url(#gb12)"/>
<polygon points="272.1,65.7 272.8,65.1 273.5,66.1 273.5,66.1 272.1,65.8" fill="url(#gb12)"/>
<polygon points="279,67.3 279.7,67 280.4,66.8 281,67.8 281,67.8 279,67.3" fill="url(#gb12)"/>
<polygon points="287.9,69.3 288.6,69.1 289.3,69.6 289.3,69.6 287.9,69.3" fill="url(#gb12)"/>
<polygon points="226.6,54.6 227.2,52.2 227.9,50.5 228.6,48.1 229.3,52.8 230,53.1 230.7,56.1 231.3,57.3 232,57.5 232.7,57.6 233.4,56.1 234.1,56.7 234.8,56.6 235.5,55.4 236.1,56.5 236.8,56 237.5,57.5 238.2,56.5 238.9,57.8 239.6,56.5 240.2,58.7 240.9,58.6 241.6,59.3 242.3,59 243,60 243.7,59.6 244.4,60.3 245,60.5 245.7,60.9 246.4,60.9 247.1,60.9 247.8,59.7 248.5,59.4 249.1,58.9 249.8,50.3 250.5,59.3 251.2,53 251.9,54.4 252.6,59.9 253.2,61.2 253.9,62.5 254.6,62.9 254.6,63 226.6,56.7" fill="url(#gb11)"/>
<polygon points="256.7,63.4 257.4,62.6 258,63.7 258,63.7 256.7,63.4" fill="url(#gb11)"/>
<polygon points="260.8,64.1 261.5,62.9 262.1,64.6 262.1,64.6 260.8,64.3" fill="url(#gb11)"/>
<polygon points="264.9,65.2 265.6,63.7 266.3,65.6 266.3,65.6 264.9,65.3" fill="url(#gb11)"/>
<polygon points="271.7,66.8 272.4,66.6 273.1,67.1 273.1,67.1 271.7,66.8" fill="url(#gb11)"/>
<polygon points="278.6,68.3 279.3,67.6 279.9,68.5 279.9,68.6 278.6,68.3" fill="url(#gb11)"/>
<polygon points="286.8,70.2 287.5,69.9 288.2,69.5 288.8,70.6 288.8,70.6 286.8,70.2" fill="url(#gb11)"/>
<polygon points="226.1,55.6 226.8,54.3 227.5,53.1 228.2,48.9 228.9,51 229.6,56.3 230.2,56.5 230.9,57.8 231.6,58.3 232.3,58.3 233,57.7 233.7,57.9 234.4,57.2 235,56.7 235.7,58 236.4,57.8 237.1,59.2 237.8,58.4 238.5,58.6 239.1,58.1 239.8,59.4 240.5,60.1 241.2,60.5 241.9,59.7 242.6,61 243.3,60.9 243.9,61.3 244.6,61.4 245.3,61.9 246,62 246.7,61.9 247.4,61.4 248,61.7 248.7,54.2 249.4,57.3 250.1,51.1 250.8,61.2 251.5,57.3 252.2,61.8 252.8,62 253.5,63.2 254.2,63.9 254.2,63.9 226.1,57.7" fill="url(#gb10)"/>
<polygon points="255.6,64.2 256.3,63.8 256.9,63.6 257.6,64.7 257.6,64.7 255.6,64.3" fill="url(#gb10)"/>
<polygon points="263.8,66.1 264.5,65.8 265.2,64.8 265.8,66.5 265.8,66.5 263.8,66.1" fill="url(#gb10)"/>
<polygon points="271.3,67.7 272,65.2 272.7,68 272.7,68.1 271.3,67.8" fill="url(#gb10)"/>
<polygon points="278.8,69.4 279.5,69 280.2,69.8 280.2,69.8 278.8,69.5" fill="url(#gb10)"/>
<polygon points="286.4,71.1 287.1,70.1 287.7,71.1 288.4,71.6 288.4,71.6 286.4,71.1" fill="url(#gb10)"/>
<polygon points="225.7,57.1 226.4,53.8 227.1,54.9 227.8,48.2 228.5,52 229.1,55 229.8,57.9 230.5,58.8 231.2,59.5 231.9,59.4 232.6,59 233.3,59.5 233.9,59.5 234.6,58.1 235.3,59.6 236,59.3 236.7,60 237.4,59.7 238,60.1 238.7,59 239.4,60.9 240.1,61.5 240.8,61.7 241.5,60.8 242.2,62 242.8,61.9 243.5,62.4 243.5,62.6 225.7,58.7" fill="url(#gb9)"/>
<polygon points="245.6,63 246.3,62.9 246.9,61.6 247.6,61.2 248.3,59.7 249,52.8 249.7,62.1 250.4,57.1 251.1,60.1 251.7,63.6 252.4,64 253.1,64.6 253.1,64.8 245.6,63.1" fill="url(#gb9)"/>
<polygon points="255.2,65.2 255.8,65 256.5,65.1 257.2,65.7 257.2,65.7 255.2,65.2" fill="url(#gb9)"/>
<polygon points="259.3,66.2 260,66.1 260.6,65 261.3,66.6 261.3,66.6 259.3,66.2" fill="url(#gb9)"/>
<polygon points="263.4,67.1 264.1,66.6 264.7,65.9 265.4,67.5 265.4,67.5 263.4,67.1" fill="url(#gb9)"/>
<polygon points="278.4,70.3 279.1,69.9 279.8,70.7 279.8,70.7 278.4,70.4" fill="url(#gb9)"/>
<polygon points="286,72.1 286.7,71.6 287.3,72.4 287.3,72.4 286,72.1" fill="url(#gb9)"/>
<polygon points="225.3,57.2 226,58.4 226.7,50.5 227.4,51.9 228,56.6 228.7,55.5 229.4,58.9 230.1,59.9 230.8,60.3 231.5,60.7 232.2,60.6 232.8,60.4 233.5,60.3 234.2,60.3 234.9,60.5 235.6,60.6 236.3,61.1 236.9,61.1 237.6,61.5 238.3,60.9 239,62.3 239.7,62.5 240.4,62.8 241.1,62.6 241.7,63.1 242.4,63 243.1,63.5 243.1,63.6 225.3,59.6" fill="url(#gb8)"/>
<polygon points="245.2,64 245.8,64 246.5,63.5 247.2,62.5 247.9,58 248.6,55.6 249.3,56.8 250,63 250.6,63.2 251.3,63.5 252,65.2 252.7,65.2 253.4,65.9 253.4,65.9 245.2,64.1" fill="url(#gb8)"/>
<polygon points="255.4,66.2 256.1,66.2 256.8,66.7 256.8,66.7 255.4,66.4" fill="url(#gb8)"/>
<polygon points="258.9,67.1 259.5,66.9 260.2,66.3 260.9,67.6 260.9,67.6 258.9,67.1" fill="url(#gb8)"/>
<polygon points="270.5,69.6 271.2,67.8 271.9,69.9 271.9,70 270.5,69.7" fill="url(#gb8)"/>
<polygon points="277.3,71.3 278,70.4 278.7,71.5 278.7,71.6 277.3,71.3" fill="url(#gb8)"/>
<polygon points="285.6,73.1 286.2,72.6 286.9,72.9 287.6,73.6 287.6,73.6 285.6,73.1" fill="url(#gb8)"/>
<polygon points="224.9,59.6 225.6,55.9 226.3,55.6 227,57 227.6,56.2 228.3,59.4 229,60.5 229.7,61.1 230.4,61.5 231.1,61.8 231.7,61.5 232.4,61.7 233.1,61.6 233.8,61.6 234.5,61.7 235.2,62.2 235.8,62.6 236.5,62.1 237.2,62.6 237.9,62.2 238.6,63.2 239.3,63.5 240,63.7 240.6,63.7 241.3,64.1 241.3,64.3 224.9,60.6" fill="url(#gb7)"/>
<polygon points="245.4,65 246.1,64.1 246.8,62.7 247.5,60.9 248.2,57.8 248.9,60.8 249.5,61.4 250.2,62.7 250.9,64.3 251.6,65.1 252.3,66.3 253,66.8 253,66.9 245.4,65.2" fill="url(#gb7)"/>
<polygon points="255,67.3 255.7,65.7 256.4,67.6 256.4,67.7 255,67.4" fill="url(#gb7)"/>
<polygon points="258.4,68.1 259.1,67.8 259.8,68.1 260.5,68.6 260.5,68.6 258.4,68.1" fill="url(#gb7)"/>
<polygon points="270.1,70.7 270.8,69.7 271.4,71 271.4,71 270.1,70.7" fill="url(#gb7)"/>
<polygon points="277.6,72.3 278.3,72 279,72.7 279,72.7 277.6,72.4" fill="url(#gb7)"/>
<polygon points="285.8,74.1 286.5,74.1 287.2,74.5 287.2,74.5 285.8,74.2" fill="url(#gb7)"/>
<polygon points="224.5,60.2 225.2,58.4 225.9,55.7 226.5,50.3 227.2,56.4 227.9,60.3 228.6,60.5 229.3,62 230,62.4 230.6,62.8 231.3,62.6 232,63 232.7,63 233.4,62.8 234.1,63.4 234.8,63.3 235.4,63.8 236.1,63.5 236.8,64 237.5,63.7 238.2,64.4 238.9,64.6 239.5,64.8 240.2,64.8 240.9,65.1 241.6,65.2 242.3,65.5 242.3,65.6 224.5,61.6" fill="url(#gb6)"/>
<polygon points="245,66 245.7,65.4 246.4,66 247.1,64.4 247.8,64.5 248.4,61.1 249.1,63.9 249.8,65.1 250.5,63.8 251.2,67 251.9,67.5 252.5,67.8 252.5,67.9 245,66.2" fill="url(#gb6)"/>
<polygon points="253.9,68.2 254.6,67.8 255.3,67.7 256,68.6 256,68.6 253.9,68.2" fill="url(#gb6)"/>
<polygon points="258.7,69.2 259.4,68.3 260.1,69.6 260.1,69.6 258.7,69.3" fill="url(#gb6)"/>
<polygon points="262.1,70 262.8,69.7 263.5,70 264.2,70.5 264.2,70.5 262.1,70" fill="url(#gb6)"/>
<polygon points="269.7,71.7 270.3,70 271,72 271,72 269.7,71.7" fill="url(#gb6)"/>
<polygon points="276.5,73.2 277.2,72.6 277.9,72.7 278.6,73.7 278.6,73.7 276.5,73.2" fill="url(#gb6)"/>
<polygon points="284.7,75.1 285.4,74.5 286.1,74.7 286.8,75.5 286.8,75.5 284.7,75.1" fill="url(#gb6)"/>
<polygon points="224.1,61.1 224.8,58.8 225.4,58.3 226.1,57.1 226.8,58.6 227.5,60.1 228.2,62.2 228.9,63.3 229.5,63.4 230.2,63.8 230.9,63.8 231.6,64.1 232.3,64.1 233,64.2 233.7,64.5 234.3,64.6 235,64.9 235.7,64.8 236.4,65 237.1,64.7 237.8,65.4 238.4,65.7 239.1,65.8 239.8,65.9 240.5,66.2 240.5,66.3 224.1,62.6" fill="url(#gb5)"/>
<polygon points="243.9,67 244.6,66.8 245.3,66.4 246,64.9 246.7,66 247.3,59.8 248,66.2 248.7,66.4 249.4,66.6 250.1,66.8 250.8,68.1 251.5,68.4 252.1,68.8 252.1,68.9 243.9,67" fill="url(#gb5)"/>
<polygon points="254.2,69.2 254.9,68.7 255.6,69.6 255.6,69.6 254.2,69.3" fill="url(#gb5)"/>
<polygon points="262.4,71.1 263.1,70.3 263.8,71.5 263.8,71.5 262.4,71.2" fill="url(#gb5)"/>
<polygon points="269.3,72.6 269.9,71.7 270.6,72.9 270.6,73 269.3,72.7" fill="url(#gb5)"/>
<polygon points="276.1,74.2 276.8,73.4 277.5,74 278.1,74.7 278.1,74.7 276.1,74.2" fill="url(#gb5)"/>
<polygon points="285,76.1 285.7,75.8 286.4,76.5 286.4,76.5 285,76.2" fill="url(#gb5)"/>
<polygon points="223.7,61.5 224.3,59.5 225,56.8 225.7,56.1 226.4,56.2 227.1,61 227.8,63.2 228.4,64.4 228.4,64.6 223.7,63.6" fill="url(#gb4)"/>
<polygon points="231.2,65.1 231.9,65.2 232.6,65.2 233.2,65.5 233.2,65.7 231.2,65.3" fill="url(#gb4)"/>
<polygon points="235.3,66 236,66.1 236.7,66.2 237.3,66.5 237.3,66.6 235.3,66.2" fill="url(#gb4)"/>
<polygon points="243.5,68 244.2,67.8 244.9,68 245.6,68 246.2,64.5 246.9,67.5 247.6,67.6 248.3,61.9 249,68.4 249.7,66.5 250.4,69 251,69.5 251,69.7 243.5,68" fill="url(#gb4)"/>
<polygon points="253.8,70.2 254.5,69.9 255.1,70.6 255.1,70.6 253.8,70.3" fill="url(#gb4)"/>
<polygon points="257.2,71.1 257.9,70.9 258.6,70.6 259.3,71.5 259.3,71.5 257.2,71.1" fill="url(#gb4)"/>
<polygon points="261.3,72 262,71.8 262.7,72 263.4,72.4 263.4,72.4 261.3,72" fill="url(#gb4)"/>
<polygon points="284.6,77.1 285.3,76.9 286,77.5 286,77.5 284.6,77.2" fill="url(#gb4)"/>
<polygon points="223.2,63.5 223.9,61.2 224.6,61.7 225.3,60.1 226,60.6 226.7,61.9 227.3,63.8 228,65 228.7,65.5 229.4,65.9 229.4,65.9 223.2,64.6" fill="url(#gb3)"/>
<polygon points="235.6,67.2 236.2,67.2 236.9,67.5 236.9,67.6 235.6,67.3" fill="url(#gb3)"/>
<polygon points="243.8,69.1 244.5,68.6 245.1,68.7 245.8,65.2 246.5,64.9 247.2,67.8 247.9,66.2 248.6,67.5 249.3,69.8 249.9,69.9 250.6,70.4 251.3,70.8 251.3,70.8 243.8,69.1" fill="url(#gb3)"/>
<polygon points="252.7,71.1 253.4,71.1 254,70.5 254.7,71.6 254.7,71.6 252.7,71.1" fill="url(#gb3)"/>
<polygon points="256.8,72 257.5,72 258.2,71.7 258.8,72.5 258.8,72.5 256.8,72" fill="url(#gb3)"/>
<polygon points="261.6,72.9 262.3,72.4 262.9,73.4 262.9,73.4 261.6,73.1" fill="url(#gb3)"/>
<polygon points="268.4,74.6 269.1,74.2 269.8,75 269.8,75 268.4,74.7" fill="url(#gb3)"/>
<polygon points="276,76.1 276.6,76.1 277.3,76.6 277.3,76.6 276,76.3" fill="url(#gb3)"/>
<polygon points="283.5,78 284.2,77.9 284.9,78.2 284.9,78.3 283.5,78" fill="url(#gb3)"/>
<polygon points="222.8,65.2 223.5,63.7 224.2,62.7 224.9,58.9 225.6,61.4 226.3,64 226.9,66.1 227.6,66.6 228.3,66.5 229,66.8 229,66.9 222.8,65.5" fill="url(#gb2)"/>
<polygon points="243.4,70.1 244,70 244.7,68.3 245.4,67 246.1,68.3 246.8,67.1 247.5,66.4 248.2,70.1 248.8,69.9 249.5,70.7 250.2,71.4 250.9,71.7 250.9,71.8 243.4,70.1" fill="url(#gb2)"/>
<polygon points="252.3,72.1 252.9,72 253.6,72.3 253.6,72.4 252.3,72.1" fill="url(#gb2)"/>
<polygon points="257.1,73 257.7,72.5 258.4,73.5 258.4,73.5 257.1,73.2" fill="url(#gb2)"/>
<polygon points="261.2,74.1 261.8,73.9 262.5,74.4 262.5,74.4 261.2,74.1" fill="url(#gb2)"/>
<polygon points="268,75.6 268.7,74.8 269.4,75.9 269.4,75.9 268,75.6" fill="url(#gb2)"/>
<polygon points="274.9,77.2 275.5,77 276.2,77.3 276.2,77.5 274.9,77.2" fill="url(#gb2)"/>
<polygon points="283.8,79.1 284.4,79.1 285.1,79.5 285.1,79.5 283.8,79.2" fill="url(#gb2)"/>
<polygon points="222.4,65.6 223.1,64.7 223.8,62.7 224.5,62.7 225.2,61.7 225.8,64.5 226.5,66.2 227.2,67.4 227.2,67.6 222.4,66.5" fill="url(#gb1)"/>
<polygon points="243,71 243.6,70.7 244.3,69.7 245,71 245.7,70.4 246.4,68.4 247.1,68.6 247.7,68.8 248.4,70.8 249.1,72.3 249.8,72.3 250.5,72.8 250.5,72.8 243,71.1" fill="url(#gb1)"/>
<polygon points="252.5,73.1 253.2,73.1 253.9,73.5 253.9,73.6 252.5,73.3" fill="url(#gb1)"/>
<polygon points="256,74 256.6,73.9 257.3,74 258,74.5 258,74.5 256,74" fill="url(#gb1)"/>
<polygon points="260.7,75 261.4,74.9 262.1,75.4 262.1,75.4 260.7,75.1" fill="url(#gb1)"/>
<polygon points="274.4,78.1 275.1,78 275.8,78.4 275.8,78.5 274.4,78.1" fill="url(#gb1)"/>
<polygon points="282.7,80 283.3,79.8 284,80 284.7,80.4 284.7,80.4 282.7,80" fill="url(#gb1)"/>
<polygon points="222,66.6 222.7,66.2 223.4,64.3 224.1,62.4 224.7,65.8 225.4,66.5 226.1,67.4 226.8,68.4 226.8,68.6 222,67.5" fill="url(#gb0)"/>
<polygon points="242.5,72 243.2,71.6 243.9,71 244.6,71.5 245.3,69.5 246,71.9 246.6,72.3 247.3,70.4 248,73 248.7,73 249.4,73.5 249.4,73.6 242.5,72.1" fill="url(#gb0)"/>
<polygon points="255.5,75 256.2,74.9 256.9,74.8 257.6,75.5 257.6,75.5 255.5,75" fill="url(#gb0)"/>
<polygon points="260.3,76 261,76 261.7,76.4 261.7,76.4 260.3,76.1" fill="url(#gb0)"/>
<polygon points="267.2,77.6 267.9,77.5 268.6,77.9 268.6,77.9 267.2,77.6" fill="url(#gb0)"/>
<polygon points="274.7,79.3 275.4,79.2 276.1,79.6 276.1,79.6 274.7,79.3" fill="url(#gb0)"/>
<polygon points="282.2,81 282.9,80.6 283.6,81 284.3,81.4 284.3,81.4 282.2,81" fill="url(#gb0)"/>
<polygon points="397,86 520,92 526,70 403,64" fill="#0c0cf4"/>
<polygon points="408.8,64.1 409.6,63.6 410.4,61.2 411.3,57.7 412.1,55 412.9,58.5 413.7,61.3 414.6,63 415.4,64.3 416.2,64.6 416.2,64.6 408.8,64.3" fill="url(#gc29)"/>
<polygon points="422,64.8 422.8,64.5 423.6,63.9 424.5,62.6 425.3,60.6 426.1,58.3 426.9,52.9 427.8,46.9 428.6,46.9 429.4,39.8 430.2,37.3 431.1,44.5 431.9,52.1 432.7,57.3 433.5,60.4 434.4,63.2 435.2,64.3 436,63.6 436.8,64.9 437.7,65.6 437.7,65.7 422,64.9" fill="url(#gc29)"/>
<polygon points="440.1,65.7 441,65 441.8,65.6 442.6,65.9 443.4,65.9 444.3,64 445.1,65.3 445.9,66.1 445.9,66.1 440.1,65.8" fill="url(#gc29)"/>
<polygon points="447.6,66.2 448.4,65.9 449.2,65.2 450.1,66.2 450.1,66.3 447.6,66.2" fill="url(#gc29)"/>
<polygon points="452.5,66.4 453.4,66.1 454.2,64.3 455,66.2 455.8,66.6 455.8,66.6 452.5,66.4" fill="url(#gc29)"/>
<polygon points="458.3,66.7 459.1,66.4 460,65.7 460.8,66.6 460.8,66.8 458.3,66.7" fill="url(#gc29)"/>
<polygon points="464.1,66.9 464.9,65.8 465.7,66.5 466.6,67.1 466.6,67.1 464.1,67" fill="url(#gc29)"/>
<polygon points="469.9,67.3 470.7,66.9 471.5,65.1 472.3,67 473.2,67.4 473.2,67.4 469.9,67.3" fill="url(#gc29)"/>
<polygon points="479.8,67.7 480.6,67.2 481.4,65.8 482.2,67.7 482.2,67.9 479.8,67.7" fill="url(#gc29)"/>
<polygon points="490.5,68 491.3,66.2 492.2,68 493,68.4 493,68.4 490.5,68.3" fill="url(#gc29)"/>
<polygon points="504.5,68.9 505.4,68.2 506.2,68.8 506.2,69 504.5,69" fill="url(#gc29)"/>
<polygon points="408.6,64.9 409.4,64.4 410.2,61.9 411,58.5 411.9,58 412.7,58.2 413.5,61.7 414.4,63.8 415.2,65.1 415.2,65.4 408.6,65" fill="url(#gc28)"/>
<polygon points="421.8,65.5 422.6,65.2 423.4,64.5 424.3,63.5 425.1,60.3 425.9,57.9 426.7,54.8 427.6,47.6 428.4,47.2 429.2,39 430,35 430.9,44.1 431.7,53 432.5,56.1 433.3,61.3 434.2,63.1 435,64.9 435.8,64.1 436.6,65.4 437.5,66.4 437.5,66.4 421.8,65.7" fill="url(#gc28)"/>
<polygon points="439.9,66.5 440.8,65.9 441.6,66.4 441.6,66.7 439.9,66.6" fill="url(#gc28)"/>
<polygon points="443.2,66.7 444.1,64.7 444.9,65.6 445.7,66.8 445.7,66.9 443.2,66.7" fill="url(#gc28)"/>
<polygon points="447.4,66.9 448.2,66.6 449,66 449.8,67 449.8,67.1 447.4,66.9" fill="url(#gc28)"/>
<polygon points="453.1,67 454,65.8 454.8,67.1 454.8,67.3 453.1,67.2" fill="url(#gc28)"/>
<polygon points="458.1,67.5 458.9,67.1 459.8,65.5 460.6,67.3 460.6,67.6 458.1,67.5" fill="url(#gc28)"/>
<polygon points="463.9,67.7 464.7,66.7 465.5,67.5 466.4,67.9 466.4,67.9 463.9,67.7" fill="url(#gc28)"/>
<polygon points="469.7,68 470.5,67.7 471.3,65.7 472.1,67.8 473,68.2 473,68.2 469.7,68" fill="url(#gc28)"/>
<polygon points="479.6,68.5 480.4,68.2 481.2,67.5 482,68.4 482,68.6 479.6,68.5" fill="url(#gc28)"/>
<polygon points="490.3,68.9 491.1,67.6 491.9,68.6 492.8,69.1 492.8,69.1 490.3,69" fill="url(#gc28)"/>
<polygon points="504.3,69.6 505.2,68.9 506,69.5 506.8,69.8 506.8,69.8 504.3,69.7" fill="url(#gc28)"/>
<polygon points="408.4,65.7 409.2,65.1 410,62.4 410.8,59.2 411.7,57.7 412.5,57.5 413.3,62.3 414.1,65 415,65.8 415.8,66.1 415.8,66.2 408.4,65.8" fill="url(#gc27)"/>
<polygon points="421.6,66.2 422.4,65.9 423.2,65.2 424,63.9 424.9,60.8 425.7,59.1 426.5,55.1 427.4,48.3 428.2,48.2 429,38.5 429.8,35.2 430.7,38.5 431.5,50 432.3,58.6 433.1,62.1 434,64.5 434.8,65.9 435.6,65.6 436.4,66.4 437.3,67.1 437.3,67.2 421.6,66.4" fill="url(#gc27)"/>
<polygon points="439.7,67.2 440.6,66.6 441.4,67.2 441.4,67.4 439.7,67.3" fill="url(#gc27)"/>
<polygon points="443,67.4 443.9,65.7 444.7,66.8 445.5,67.6 445.5,67.6 443,67.5" fill="url(#gc27)"/>
<polygon points="447.2,67.7 448,67.4 448.8,67 449.6,67.7 449.6,67.8 447.2,67.7" fill="url(#gc27)"/>
<polygon points="452.1,67.9 452.9,67.7 453.8,65.9 454.6,67.7 455.4,68.1 455.4,68.1 452.1,67.9" fill="url(#gc27)"/>
<polygon points="458.7,68 459.5,66.9 460.4,68.2 460.4,68.3 458.7,68.3" fill="url(#gc27)"/>
<polygon points="463.7,68.4 464.5,67.7 465.3,68 466.1,68.6 466.1,68.6 463.7,68.5" fill="url(#gc27)"/>
<polygon points="469.5,68.8 470.3,68.5 471.1,66.5 471.9,68.5 472.8,68.9 472.8,68.9 469.5,68.8" fill="url(#gc27)"/>
<polygon points="479.4,69.3 480.2,68.8 481,67.7 481.8,69.2 481.8,69.4 479.4,69.3" fill="url(#gc27)"/>
<polygon points="490.1,69.6 490.9,68 491.7,69.6 492.6,69.9 492.6,69.9 490.1,69.8" fill="url(#gc27)"/>
<polygon points="504.1,70.4 504.9,69.4 505.8,70.2 506.6,70.6 506.6,70.6 504.1,70.5" fill="url(#gc27)"/>
<polygon points="408.2,66.4 409,65.7 409.8,63.7 410.6,61.5 411.5,59.7 412.3,58.3 413.1,63.2 413.9,65.7 414.8,66.6 414.8,66.9 408.2,66.6" fill="url(#gc26)"/>
<polygon points="421.4,67 422.2,66.7 423,65.9 423.8,64.9 424.7,61.4 425.5,57.5 426.3,55.7 427.1,51.6 428,45.1 428.8,36.1 429.6,29.8 430.4,39.6 431.3,52.1 432.1,57.8 432.9,62.3 433.7,65 434.6,66.3 435.4,65.7 436.2,66.9 437.1,67.9 437.1,68 421.4,67.2" fill="url(#gc26)"/>
<polygon points="439.5,68 440.4,67.5 441.2,68 441.2,68.2 439.5,68.1" fill="url(#gc26)"/>
<polygon points="442.8,68.2 443.7,66.1 444.5,67.5 445.3,68.4 445.3,68.4 442.8,68.2" fill="url(#gc26)"/>
<polygon points="447,68.4 447.8,68.2 448.6,67.5 449.4,68.5 449.4,68.6 447,68.5" fill="url(#gc26)"/>
<polygon points="451.9,68.7 452.7,68.4 453.6,67.2 454.4,68.5 455.2,68.9 455.2,68.9 451.9,68.7" fill="url(#gc26)"/>
<polygon points="457.7,69 458.5,68.6 459.3,67.6 460.2,68.9 460.2,69.1 457.7,69" fill="url(#gc26)"/>
<polygon points="463.5,69.2 464.3,68.3 465.1,69 465.9,69.4 465.9,69.4 463.5,69.3" fill="url(#gc26)"/>
<polygon points="469.2,69.5 470.1,69.3 470.9,67.6 471.7,69.4 471.7,69.7 469.2,69.5" fill="url(#gc26)"/>
<polygon points="479.2,70 480,69.5 480.8,68.1 481.6,70 481.6,70.1 479.2,70" fill="url(#gc26)"/>
<polygon points="489.9,70.4 490.7,69.4 491.5,70.3 492.4,70.7 492.4,70.7 489.9,70.5" fill="url(#gc26)"/>
<polygon points="503.9,71.1 504.7,70.3 505.6,71 505.6,71.3 503.9,71.2" fill="url(#gc26)"/>
<polygon points="408,67.2 408.8,66.4 409.6,64.5 410.4,60.4 411.3,57.1 412.1,59.7 412.9,62.9 413.7,66.2 414.6,67.4 415.4,67.6 415.4,67.7 408,67.3" fill="url(#gc25)"/>
<polygon points="421.2,67.8 422,67.4 422.8,66.9 423.6,65.1 424.5,63.5 425.3,58.7 426.1,57.4 426.9,52.6 427.8,46.1 428.6,38.3 429.4,30.8 430.2,36.1 431.1,52 431.9,60.1 432.7,62.4 433.5,65.5 434.4,67.3 435.2,66.6 436,67.9 436.8,68.6 436.8,68.7 421.2,68" fill="url(#gc25)"/>
<polygon points="439.3,68.8 440.1,68.2 441,68.7 441,68.9 439.3,68.8" fill="url(#gc25)"/>
<polygon points="442.6,68.9 443.4,67.5 444.3,68.1 445.1,69.1 445.1,69.1 442.6,69" fill="url(#gc25)"/>
<polygon points="446.7,69.2 447.6,68.9 448.4,68.2 449.2,69.2 449.2,69.3 446.7,69.2" fill="url(#gc25)"/>
<polygon points="451.7,69.4 452.5,69.1 453.4,67.7 454.2,69.2 455,69.6 455,69.6 451.7,69.5" fill="url(#gc25)"/>
<polygon points="457.5,69.7 458.3,69.3 459.1,68.4 460,69.7 460,69.9 457.5,69.7" fill="url(#gc25)"/>
<polygon points="463.3,69.9 464.1,69.3 464.9,69.5 465.7,70.1 465.7,70.1 463.3,70" fill="url(#gc25)"/>
<polygon points="469,70.3 469.9,70 470.7,68.5 471.5,70.1 472.3,70.5 472.3,70.5 469,70.3" fill="url(#gc25)"/>
<polygon points="478.9,70.8 479.8,70.3 480.6,68.9 481.4,70.8 481.4,70.9 478.9,70.8" fill="url(#gc25)"/>
<polygon points="489.7,71.1 490.5,70.1 491.3,71 492.2,71.4 492.2,71.4 489.7,71.3" fill="url(#gc25)"/>
<polygon points="503.7,71.8 504.5,70.6 505.4,71.8 505.4,72.1 503.7,72" fill="url(#gc25)"/>
<polygon points="407.7,67.9 408.6,67.3 409.4,65.5 410.2,61.4 411,60.6 411.9,61.6 412.7,64.2 413.5,66.9 414.3,68.1 415.2,68.4 415.2,68.4 407.7,68.1" fill="url(#gc24)"/>
<polygon points="421,68.5 421.8,68.2 422.6,67.4 423.4,66.5 424.3,64.2 425.1,59.7 425.9,54.2 426.7,50.4 427.6,44 428.4,33.4 429.2,21.9 430,33.3 430.9,52.3 431.7,59.4 432.5,64.2 433.3,66.7 434.2,67.9 435,67.4 435.8,68.5 436.6,69.4 436.6,69.5 421,68.7" fill="url(#gc24)"/>
<polygon points="439.1,69.5 439.9,69 440.8,69.4 440.8,69.7 439.1,69.6" fill="url(#gc24)"/>
<polygon points="442.4,69.6 443.2,67.4 444.1,69 444.9,69.9 444.9,69.9 442.4,69.8" fill="url(#gc24)"/>
<polygon points="446.5,70 447.4,69.6 448.2,69.2 449,70 449,70.1 446.5,70" fill="url(#gc24)"/>
<polygon points="451.5,70.2 452.3,69.8 453.1,68.8 454,70 454.8,70.4 454.8,70.4 451.5,70.2" fill="url(#gc24)"/>
<polygon points="458.1,70.3 458.9,69 459.8,70.5 459.8,70.6 458.1,70.5" fill="url(#gc24)"/>
<polygon points="463.1,70.7 463.9,70 464.7,70.3 465.5,70.9 465.5,70.9 463.1,70.8" fill="url(#gc24)"/>
<polygon points="468.8,71.1 469.7,70.6 470.5,69.5 471.3,70.8 472.1,71.2 472.1,71.2 468.8,71.1" fill="url(#gc24)"/>
<polygon points="478.7,71.5 479.6,71.2 480.4,69.8 481.2,71.5 481.2,71.7 478.7,71.5" fill="url(#gc24)"/>
<polygon points="489.5,71.8 490.3,70.5 491.1,71.8 491.9,72.2 491.9,72.2 489.5,72.1" fill="url(#gc24)"/>
<polygon points="503.5,72.6 504.3,72 505.2,72.6 505.2,72.8 503.5,72.7" fill="url(#gc24)"/>
<polygon points="407.5,68.7 408.4,68 409.2,65.8 410,63.2 410.8,61.8 411.7,62.4 412.5,64.1 413.3,67.9 414.1,68.8 415,69.2 415,69.2 407.5,68.8" fill="url(#gc23)"/>
<polygon points="420.7,69.3 421.6,68.9 422.4,68.2 423.2,67.2 424,63.5 424.9,58.4 425.7,55 426.5,51 427.3,43.1 428.2,33.6 429,23.2 429.8,34 430.7,49.8 431.5,60.4 432.3,64.7 433.1,67.2 434,68.9 434.8,68.5 435.6,69.3 436.4,70.2 436.4,70.2 420.7,69.5" fill="url(#gc23)"/>
<polygon points="438.9,70.3 439.7,69.4 440.6,70.2 440.6,70.4 438.9,70.4" fill="url(#gc23)"/>
<polygon points="442.2,70.4 443,68.1 443.9,69.4 444.7,70.6 444.7,70.6 442.2,70.5" fill="url(#gc23)"/>
<polygon points="447.2,70.5 448,69.7 448.8,70.8 448.8,70.8 447.2,70.8" fill="url(#gc23)"/>
<polygon points="451.3,71 452.1,70.6 452.9,69.6 453.8,70.9 453.8,71.1 451.3,71" fill="url(#gc23)"/>
<polygon points="457.1,71.2 457.9,70.8 458.7,70.2 459.5,71.2 459.5,71.4 457.1,71.2" fill="url(#gc23)"/>
<polygon points="462.8,71.5 463.7,70.6 464.5,71 465.3,71.6 465.3,71.7 462.8,71.5" fill="url(#gc23)"/>
<polygon points="468.6,71.8 469.4,71.5 470.3,69.7 471.1,71.6 471.9,72 471.9,72 468.6,71.8" fill="url(#gc23)"/>
<polygon points="478.5,72.3 479.4,71.9 480.2,71.1 481,72.3 481,72.4 478.5,72.3" fill="url(#gc23)"/>
<polygon points="489.3,72.6 490.1,71 490.9,72.5 491.7,72.9 491.7,72.9 489.3,72.8" fill="url(#gc23)"/>
<polygon points="503.3,73.4 504.1,72.7 504.9,73.4 504.9,73.6 503.3,73.5" fill="url(#gc23)"/>
<polygon points="407.3,69.5 408.2,68.7 409,66.9 409.8,62.4 410.6,60.1 411.5,62.6 412.3,66 413.1,68.2 413.9,69.6 414.8,69.9 414.8,70 407.3,69.6" fill="url(#gc22)"/>
<polygon points="420.5,70.1 421.4,69.7 422.2,68.8 423,67.9 423.8,62.7 424.7,59.5 425.5,57.2 426.3,49.9 427.1,43 428,28.3 428.8,16.7 429.6,29.9 430.4,48.8 431.3,60.7 432.1,65.6 432.9,68.4 433.7,69.5 434.6,68.8 435.4,70.2 436.2,70.9 436.2,71 420.5,70.2" fill="url(#gc22)"/>
<polygon points="438.7,71.1 439.5,70.3 440.4,71 440.4,71.2 438.7,71.1" fill="url(#gc22)"/>
<polygon points="442,71.2 442.8,68.9 443.7,70.2 444.5,71.4 444.5,71.4 442,71.3" fill="url(#gc22)"/>
<polygon points="446.1,71.5 447,71.2 447.8,70.7 448.6,71.6 448.6,71.6 446.1,71.5" fill="url(#gc22)"/>
<polygon points="451.1,71.7 451.9,71.4 452.7,70.3 453.6,71.6 453.6,71.8 451.1,71.7" fill="url(#gc22)"/>
<polygon points="457.7,71.8 458.5,70.4 459.3,71.9 459.3,72.1 457.7,72" fill="url(#gc22)"/>
<polygon points="462.6,72.2 463.5,71.5 464.3,72 465.1,72.4 465.1,72.4 462.6,72.3" fill="url(#gc22)"/>
<polygon points="468.4,72.6 469.2,72.3 470.1,70.2 470.9,72.3 471.7,72.7 471.7,72.7 468.4,72.6" fill="url(#gc22)"/>
<polygon points="478.3,73.1 479.1,72.7 480,71.6 480.8,73 480.8,73.2 478.3,73.1" fill="url(#gc22)"/>
<polygon points="489.1,73.3 489.9,72 490.7,73.2 491.5,73.7 491.5,73.7 489.1,73.6" fill="url(#gc22)"/>
<polygon points="503.1,74.2 503.9,73.5 504.7,74 505.6,74.4 505.6,74.4 503.1,74.3" fill="url(#gc22)"/>
<polygon points="407.1,70.2 407.9,69.5 408.8,67 409.6,64.3 410.4,61.1 411.3,63.1 412.1,67.1 412.9,69.4 413.7,70.4 414.6,70.7 414.6,70.7 407.1,70.4" fill="url(#gc21)"/>
<polygon points="420.3,70.8 421.2,70.6 422,69.6 422.8,68.2 423.6,62.1 424.5,59.5 425.3,59.1 426.1,56.7 426.9,43.3 427.8,26.9 428.6,8.2 429.4,26.1 430.2,51.6 431.1,62.5 431.9,65.6 432.7,68.3 433.5,70.4 434.4,69.9 435.2,70.9 436,71.7 436,71.8 420.3,71" fill="url(#gc21)"/>
<polygon points="438.5,71.8 439.3,71.1 440.1,71.8 440.1,72 438.5,71.9" fill="url(#gc21)"/>
<polygon points="441.8,71.9 442.6,70 443.4,70.9 444.3,72.1 444.3,72.2 441.8,72" fill="url(#gc21)"/>
<polygon points="445.9,72.2 446.7,71.9 447.6,71.5 448.4,72.3 448.4,72.4 445.9,72.2" fill="url(#gc21)"/>
<polygon points="450.9,72.5 451.7,72.2 452.5,71 453.4,72.4 453.4,72.6 450.9,72.5" fill="url(#gc21)"/>
<polygon points="457.5,72.5 458.3,71.7 459.1,72.7 459.1,72.9 457.5,72.8" fill="url(#gc21)"/>
<polygon points="462.4,73 463.3,71.9 464.1,72.7 464.9,73.2 464.9,73.2 462.4,73" fill="url(#gc21)"/>
<polygon points="468.2,73.3 469,72.9 469.9,71.9 470.7,73.2 470.7,73.5 468.2,73.3" fill="url(#gc21)"/>
<polygon points="478.1,73.8 478.9,73.4 479.8,72.5 480.6,73.8 480.6,73.9 478.1,73.8" fill="url(#gc21)"/>
<polygon points="488.8,74.2 489.7,72.6 490.5,74.1 491.3,74.5 491.3,74.5 488.8,74.3" fill="url(#gc21)"/>
<polygon points="502.9,74.9 503.7,73.9 504.5,74.9 504.5,75.1 502.9,75" fill="url(#gc21)"/>
<polygon points="406.9,70.9 407.7,70.1 408.6,68.6 409.4,64.5 410.2,61.9 411,62.9 411.9,67.8 412.7,70.1 413.5,71.2 413.5,71.4 406.9,71.1" fill="url(#gc20)"/>
<polygon points="420.1,71.6 421,71.3 421.8,70.5 422.6,68.7 423.4,61 424.3,58.6 425.1,60.7 425.9,51 426.7,41.8 427.6,28.6 428.4,6.4 429.2,27.1 430,49 430.9,63.6 431.7,67.4 432.5,69.3 433.3,70.7 434.2,70 435,71.5 435.8,72.5 435.8,72.5 420.1,71.8" fill="url(#gc20)"/>
<polygon points="438.3,72.6 439.1,71.8 439.9,72.5 439.9,72.7 438.3,72.6" fill="url(#gc20)"/>
<polygon points="441.6,72.7 442.4,70.6 443.2,71.9 444.1,72.9 444.1,72.9 441.6,72.8" fill="url(#gc20)"/>
<polygon points="446.5,72.8 447.4,72.3 448.2,73 448.2,73.1 446.5,73" fill="url(#gc20)"/>
<polygon points="450.7,73.2 451.5,73 452.3,72.1 453.1,73.1 454,73.4 454,73.4 450.7,73.2" fill="url(#gc20)"/>
<polygon points="456.4,73.5 457.3,73.1 458.1,71.6 458.9,73.5 458.9,73.6 456.4,73.5" fill="url(#gc20)"/>
<polygon points="462.2,73.7 463.1,72.6 463.9,73.4 464.7,73.9 464.7,73.9 462.2,73.8" fill="url(#gc20)"/>
<polygon points="468,74.1 468.8,73.8 469.7,71.5 470.5,73.8 471.3,74.2 471.3,74.3 468,74.1" fill="url(#gc20)"/>
<polygon points="477.9,74.6 478.7,74.3 479.6,72.8 480.4,74.6 480.4,74.7 477.9,74.6" fill="url(#gc20)"/>
<polygon points="488.6,74.9 489.5,73.8 490.3,74.7 491.1,75.2 491.1,75.2 488.6,75.1" fill="url(#gc20)"/>
<polygon points="502.7,75.6 503.5,75 504.3,75.7 504.3,75.9 502.7,75.8" fill="url(#gc20)"/>
<polygon points="406.7,71.7 407.5,71 408.4,68.5 409.2,65.5 410,64.2 410.8,64.7 411.7,68.3 412.5,70.9 413.3,71.9 414.1,72.2 414.1,72.2 406.7,71.9" fill="url(#gc19)"/>
<polygon points="419.9,72.3 420.7,72 421.6,71.1 422.4,69.9 423.2,59.5 424,55 424.9,57.8 425.7,55.2 426.5,43.7 427.3,25.9 428.2,7.7 429,26.5 429.8,49 430.6,63.9 431.5,67.6 432.3,70.2 433.1,71.6 434,71 434.8,72.2 435.6,73.2 435.6,73.3 419.9,72.5" fill="url(#gc19)"/>
<polygon points="438.1,73.3 438.9,72.8 439.7,73.2 439.7,73.5 438.1,73.4" fill="url(#gc19)"/>
<polygon points="441.4,73.4 442.2,71.9 443,72.9 443.9,73.7 443.9,73.7 441.4,73.6" fill="url(#gc19)"/>
<polygon points="446.3,73.6 447.2,72.9 448,73.8 448,73.9 446.3,73.8" fill="url(#gc19)"/>
<polygon points="450.5,74 451.3,73.6 452.1,72.2 452.9,73.8 452.9,74.1 450.5,74" fill="url(#gc19)"/>
<polygon points="456.2,74.3 457.1,74 457.9,73 458.7,74.2 458.7,74.4 456.2,74.3" fill="url(#gc19)"/>
<polygon points="462,74.5 462.8,73.4 463.7,74.3 464.5,74.7 464.5,74.7 462,74.6" fill="url(#gc19)"/>
<polygon points="467.8,74.8 468.6,74.6 469.4,72.9 470.3,74.7 470.3,75 467.8,74.8" fill="url(#gc19)"/>
<polygon points="477.7,75.3 478.5,75.1 479.4,73.6 480.2,75.3 480.2,75.5 477.7,75.3" fill="url(#gc19)"/>
<polygon points="488.4,75.6 489.3,73.6 490.1,75.5 490.9,76 490.9,76 488.4,75.9" fill="url(#gc19)"/>
<polygon points="502.5,76.4 503.3,75.4 504.1,76.3 504.9,76.7 504.9,76.7 502.5,76.5" fill="url(#gc19)"/>
<polygon points="406.5,72.4 407.3,71.9 408.2,69.5 409,66.7 409.8,62.9 410.6,65.3 411.5,68.1 412.3,71.3 413.1,72.6 413.9,72.9 413.9,73 406.5,72.6" fill="url(#gc18)"/>
<polygon points="419.7,73.1 420.5,72.8 421.4,72.3 422.2,69.9 423,58.9 423.8,54.2 424.7,58.6 425.5,57.2 426.3,42.7 427.1,22.8 428,6.4 428.8,21.5 429.6,51 430.4,65.4 431.3,68.1 432.1,71.5 432.9,72.5 433.7,72.2 434.6,73.2 435.4,74 435.4,74 419.7,73.3" fill="url(#gc18)"/>
<polygon points="437.9,74.1 438.7,73.4 439.5,74 439.5,74.2 437.9,74.2" fill="url(#gc18)"/>
<polygon points="441.2,74.2 442,72.8 442.8,73.2 443.7,74.4 443.7,74.4 441.2,74.3" fill="url(#gc18)"/>
<polygon points="446.1,74.3 447,73.6 447.8,74.6 447.8,74.6 446.1,74.6" fill="url(#gc18)"/>
<polygon points="450.3,74.8 451.1,74.4 451.9,72.6 452.7,74.5 453.6,74.9 453.6,74.9 450.3,74.8" fill="url(#gc18)"/>
<polygon points="456,75 456.9,74.7 457.7,73.4 458.5,75 458.5,75.2 456,75" fill="url(#gc18)"/>
<polygon points="461.8,75.3 462.6,74.6 463.5,74.8 464.3,75.4 464.3,75.4 461.8,75.3" fill="url(#gc18)"/>
<polygon points="467.6,75.6 468.4,75.4 469.2,72.8 470.1,75.5 470.1,75.7 467.6,75.6" fill="url(#gc18)"/>
<polygon points="477.5,76.1 478.3,75.7 479.1,74.5 480,76.1 480,76.2 477.5,76.1" fill="url(#gc18)"/>
<polygon points="488.2,76.5 489.1,75.1 489.9,76.4 490.7,76.7 490.7,76.7 488.2,76.6" fill="url(#gc18)"/>
<polygon points="502.3,77.2 503.1,76.2 503.9,77.2 503.9,77.4 502.3,77.3" fill="url(#gc18)"/>
<polygon points="406.3,73.2 407.1,72.7 407.9,70.1 408.8,66 409.6,64.6 410.4,64.3 411.2,69.6 412.1,72.4 412.9,73.4 413.7,73.7 413.7,73.7 406.3,73.4" fill="url(#gc17)"/>
<polygon points="419.5,73.8 420.3,73.5 421.2,73 422,70.9 422.8,55.4 423.6,49.5 424.5,57.5 425.3,55.1 426.1,47.9 426.9,24.2 427.8,6.4 428.6,25.4 429.4,50.8 430.2,63.9 431.1,69.1 431.9,71.6 432.7,73.2 433.5,72.5 434.4,74.1 435.2,74.7 435.2,74.8 419.5,74" fill="url(#gc17)"/>
<polygon points="437.7,74.8 438.5,74.3 439.3,74.8 439.3,75 437.7,74.9" fill="url(#gc17)"/>
<polygon points="441,75 441.8,72.7 442.6,74.4 443.4,75.2 443.4,75.2 441,75.1" fill="url(#gc17)"/>
<polygon points="445.1,75.3 445.9,74.9 446.7,74.7 447.6,75.3 447.6,75.4 445.1,75.3" fill="url(#gc17)"/>
<polygon points="450,75.5 450.9,75.2 451.7,73.2 452.5,75.3 453.3,75.7 453.3,75.7 450,75.5" fill="url(#gc17)"/>
<polygon points="455.8,75.8 456.7,75.5 457.5,74.5 458.3,75.7 458.3,75.9 455.8,75.8" fill="url(#gc17)"/>
<polygon points="461.6,76 462.4,75.3 463.3,75.5 464.1,76.2 464.1,76.2 461.6,76.1" fill="url(#gc17)"/>
<polygon points="467.4,76.4 468.2,75.9 469,74.9 469.9,76.2 470.7,76.5 470.7,76.5 467.4,76.4" fill="url(#gc17)"/>
<polygon points="477.3,76.8 478.1,76.4 478.9,75 479.8,76.8 479.8,77 477.3,76.8" fill="url(#gc17)"/>
<polygon points="488,77.2 488.8,75.6 489.7,77.1 490.5,77.5 490.5,77.5 488,77.4" fill="url(#gc17)"/>
<polygon points="502.1,77.9 502.9,77.2 503.7,77.8 504.5,78.2 504.5,78.2 502.1,78.1" fill="url(#gc17)"/>
<polygon points="406.1,74 406.9,73.2 407.7,70.6 408.6,68.3 409.4,64.2 410.2,67.2 411,69.8 411.9,72.8 412.7,74.1 413.5,74.5 413.5,74.5 406.1,74.1" fill="url(#gc16)"/>
<polygon points="419.3,74.6 420.1,74.3 420.9,73.6 421.8,70.8 422.6,53.2 423.4,48.1 424.2,59.1 425.1,59.4 425.9,47.4 426.7,26.2 427.6,6.4 428.4,20.8 429.2,52.2 430,66.5 430.9,69.8 431.7,72.6 432.5,74.2 433.3,73.5 434.2,74.7 435,75.5 435,75.6 419.3,74.8" fill="url(#gc16)"/>
<polygon points="437.5,75.6 438.3,75 439.1,75.5 439.1,75.8 437.5,75.7" fill="url(#gc16)"/>
<polygon points="440.8,75.7 441.6,74 442.4,75.1 443.2,75.9 443.2,76 440.8,75.8" fill="url(#gc16)"/>
<polygon points="445.7,75.8 446.5,75.5 447.4,76.1 447.4,76.2 445.7,76.1" fill="url(#gc16)"/>
<polygon points="449.8,76.3 450.7,75.9 451.5,74.6 452.3,76.1 452.3,76.4 449.8,76.3" fill="url(#gc16)"/>
<polygon points="455.6,76.6 456.4,76.3 457.3,75.3 458.1,76.5 458.1,76.7 455.6,76.6" fill="url(#gc16)"/>
<polygon points="461.4,76.8 462.2,76.1 463,76.4 463.9,77 463.9,77 461.4,76.8" fill="url(#gc16)"/>
<polygon points="467.2,77.1 468,76.8 468.8,75 469.7,76.8 470.5,77.3 470.5,77.3 467.2,77.1" fill="url(#gc16)"/>
<polygon points="477.1,77.6 477.9,77.1 478.7,75.7 479.6,77.6 479.6,77.7 477.1,77.6" fill="url(#gc16)"/>
<polygon points="487.8,77.9 488.6,75.9 489.5,77.8 490.3,78.2 490.3,78.3 487.8,78.1" fill="url(#gc16)"/>
<polygon points="501.8,78.7 502.7,77.5 503.5,78.7 503.5,78.9 501.8,78.8" fill="url(#gc16)"/>
<polygon points="405.9,74.7 406.7,74 407.5,72.3 408.4,67.7 409.2,65.4 410,67.7 410.8,70.9 411.7,73.5 412.5,74.9 413.3,75.2 413.3,75.3 405.9,74.9" fill="url(#gc15)"/>
<polygon points="419.1,75.3 419.9,75 420.7,74.5 421.6,71.3 422.4,51.4 423.2,46.7 424,58.6 424.9,57.5 425.7,47.8 426.5,22.2 427.3,6.4 428.2,28.7 429,53.3 429.8,65.8 430.6,71.7 431.5,73.3 432.3,75 433.1,74.3 433.9,75.4 434.8,76.2 434.8,76.3 419.1,75.5" fill="url(#gc15)"/>
<polygon points="437.3,76.3 438.1,75.7 438.9,76.3 438.9,76.5 437.3,76.4" fill="url(#gc15)"/>
<polygon points="440.6,76.5 441.4,74.4 442.2,76 443,76.7 443,76.7 440.6,76.6" fill="url(#gc15)"/>
<polygon points="444.7,76.8 445.5,76.5 446.3,75.6 447.2,76.8 447.2,76.9 444.7,76.8" fill="url(#gc15)"/>
<polygon points="449.6,77 450.5,76.8 451.3,75.6 452.1,76.8 452.9,77.2 452.9,77.2 449.6,77" fill="url(#gc15)"/>
<polygon points="455.4,77.3 456.2,76.9 457.1,75.7 457.9,77.2 457.9,77.4 455.4,77.3" fill="url(#gc15)"/>
<polygon points="461.2,77.5 462,76.4 462.8,77.2 463.7,77.7 463.7,77.7 461.2,77.6" fill="url(#gc15)"/>
<polygon points="467.8,77.7 468.6,75.7 469.4,77.6 470.3,78 470.3,78 467.8,77.9" fill="url(#gc15)"/>
<polygon points="476.9,78.4 477.7,78 478.5,77.1 479.4,78.3 479.4,78.5 476.9,78.4" fill="url(#gc15)"/>
<polygon points="487.6,78.6 488.4,77.6 489.3,78.7 490.1,79 490.1,79 487.6,78.9" fill="url(#gc15)"/>
<polygon points="501.6,79.5 502.5,78.7 503.3,79.4 503.3,79.7 501.6,79.6" fill="url(#gc15)"/>
<polygon points="405.7,75.5 406.5,74.8 407.3,72.9 408.2,68.2 409,68.2 409.8,69 410.6,71.5 411.5,74.6 412.3,75.7 413.1,76 413.1,76 405.7,75.7" fill="url(#gc14)"/>
<polygon points="418.9,76.1 419.7,75.7 420.5,75.1 421.4,72.2 422.2,51.1 423,45 423.8,62.3 424.7,58.6 425.5,48.6 426.3,28 427.1,11 428,28.4 428.8,54.3 429.6,68.3 430.4,71 431.3,74.4 432.1,75.4 432.9,75.1 433.7,76.1 434.6,77 434.6,77.1 418.9,76.3" fill="url(#gc14)"/>
<polygon points="437,77.1 437.9,76.4 438.7,77 438.7,77.3 437,77.2" fill="url(#gc14)"/>
<polygon points="440.3,77.2 441.2,75.1 442,76.8 442.8,77.5 442.8,77.5 440.3,77.4" fill="url(#gc14)"/>
<polygon points="444.5,77.6 445.3,77.3 446.1,76.6 447,77.6 447,77.7 444.5,77.6" fill="url(#gc14)"/>
<polygon points="449.4,77.8 450.3,77.5 451.1,76.5 451.9,77.6 452.7,78 452.7,78 449.4,77.8" fill="url(#gc14)"/>
<polygon points="456,77.9 456.9,76.1 457.7,78 457.7,78.2 456,78.1" fill="url(#gc14)"/>
<polygon points="461,78.3 461.8,77.3 462.6,78 463.5,78.5 463.5,78.5 461,78.4" fill="url(#gc14)"/>
<polygon points="467.6,78.4 468.4,76 469.2,78.3 470.1,78.8 470.1,78.8 467.6,78.7" fill="url(#gc14)"/>
<polygon points="476.7,79.1 477.5,78.7 478.3,77.5 479.1,79.1 479.1,79.2 476.7,79.1" fill="url(#gc14)"/>
<polygon points="487.4,79.4 488.2,77.9 489.1,79.4 489.9,79.8 489.9,79.8 487.4,79.6" fill="url(#gc14)"/>
<polygon points="501.4,80.2 502.3,79.1 503.1,80.1 503.9,80.5 503.9,80.5 501.4,80.3" fill="url(#gc14)"/>
<polygon points="405.5,76.3 406.3,75.7 407.1,73.8 407.9,70.9 408.8,68.3 409.6,68.2 410.4,73.3 411.2,75.4 412.1,76.4 412.9,76.7 412.9,76.8 405.5,76.4" fill="url(#gc13)"/>
<polygon points="418.7,76.9 419.5,76.6 420.3,75.6 421.2,73.2 422,51.6 422.8,43.2 423.6,60.4 424.5,59 425.3,48.1 426.1,33.6 426.9,18.5 427.8,30.4 428.6,58.2 429.4,68 430.2,72.6 431.1,74.7 431.9,76.3 432.7,75.8 433.5,76.9 434.4,77.7 434.4,77.8 418.7,77.1" fill="url(#gc13)"/>
<polygon points="436.8,77.9 437.7,77 438.5,77.8 438.5,78 436.8,78" fill="url(#gc13)"/>
<polygon points="440.1,78 441,76.2 441.8,77.1 442.6,78.2 442.6,78.2 440.1,78.1" fill="url(#gc13)"/>
<polygon points="444.3,78.3 445.1,78 445.9,77.7 446.7,78.3 446.7,78.4 444.3,78.3" fill="url(#gc13)"/>
<polygon points="449.2,78.6 450,78.2 450.9,77.4 451.7,78.5 451.7,78.7 449.2,78.6" fill="url(#gc13)"/>
<polygon points="455,78.8 455.8,78.4 456.6,77.2 457.5,78.8 457.5,79 455,78.8" fill="url(#gc13)"/>
<polygon points="460.8,79.1 461.6,78.1 462.4,78.8 463.3,79.2 463.3,79.2 460.8,79.1" fill="url(#gc13)"/>
<polygon points="466.6,79.4 467.4,79 468.2,76.8 469,79.2 469.9,79.6 469.9,79.6 466.6,79.4" fill="url(#gc13)"/>
<polygon points="476.5,79.9 477.3,79.5 478.1,78.3 478.9,79.8 478.9,80 476.5,79.9" fill="url(#gc13)"/>
<polygon points="487.2,80.2 488,79.3 488.8,80.1 489.7,80.5 489.7,80.5 487.2,80.4" fill="url(#gc13)"/>
<polygon points="501.2,80.9 502.1,80.3 502.9,80.9 502.9,81.2 501.2,81.1" fill="url(#gc13)"/>
<polygon points="405.3,77 406.1,76.4 406.9,74.6 407.7,71.2 408.6,67.9 409.4,70.2 410.2,73 411,76.1 411.9,77.2 412.7,77.5 412.7,77.5 405.3,77.2" fill="url(#gc12)"/>
<polygon points="418.5,77.6 419.3,77.3 420.1,76.8 420.9,73.9 421.8,53.4 422.6,46.1 423.4,62.6 424.2,60.7 425.1,50.3 425.9,34.8 426.7,17.7 427.5,34.2 428.4,60.2 429.2,69.6 430,74 430.9,75.8 431.7,76.8 432.5,76.3 433.3,77.9 434.2,78.5 434.2,78.6 418.5,77.8" fill="url(#gc12)"/>
<polygon points="436.6,78.6 437.5,78.2 438.3,78.5 438.3,78.8 436.6,78.7" fill="url(#gc12)"/>
<polygon points="439.9,78.8 440.8,77.1 441.6,78.2 442.4,79 442.4,79 439.9,78.9" fill="url(#gc12)"/>
<polygon points="444.1,79.1 444.9,78.8 445.7,78 446.5,79.1 446.5,79.2 444.1,79.1" fill="url(#gc12)"/>
<polygon points="449,79.3 449.8,78.9 450.7,77.5 451.5,79.1 452.3,79.5 452.3,79.5 449,79.3" fill="url(#gc12)"/>
<polygon points="455.6,79.4 456.4,77.9 457.3,79.5 457.3,79.7 455.6,79.6" fill="url(#gc12)"/>
<polygon points="460.6,79.8 461.4,78.8 462.2,79.5 463,80 463,80 460.6,79.9" fill="url(#gc12)"/>
<polygon points="466.3,80.2 467.2,79.9 468,78.6 468.8,79.9 469.7,80.3 469.7,80.3 466.3,80.2" fill="url(#gc12)"/>
<polygon points="476.3,80.6 477.1,80.3 477.9,78.7 478.7,80.6 478.7,80.8 476.3,80.6" fill="url(#gc12)"/>
<polygon points="487,81 487.8,79.7 488.6,80.8 489.5,81.3 489.5,81.3 487,81.2" fill="url(#gc12)"/>
<polygon points="501,81.7 501.8,80.6 502.7,81.7 502.7,81.9 501,81.8" fill="url(#gc12)"/>
<polygon points="405.1,77.8 405.9,76.9 406.7,75.2 407.5,72 408.4,68.3 409.2,69 410,74.6 410.8,76.9 411.7,77.9 412.5,78.3 412.5,78.3 405.1,77.9" fill="url(#gc11)"/>
<polygon points="418.3,78.4 419.1,78.1 419.9,77.5 420.7,74.8 421.6,54.9 422.4,47.2 423.2,62.4 424,60.1 424.9,50.7 425.7,37.9 426.5,23.1 427.3,37.2 428.2,58.6 429,69.9 429.8,72.9 430.6,75.9 431.5,78 432.3,76.8 433.1,78.5 433.9,79.3 433.9,79.3 418.3,78.6" fill="url(#gc11)"/>
<polygon points="436.4,79.4 437.2,78.9 438.1,79.3 438.1,79.5 436.4,79.5" fill="url(#gc11)"/>
<polygon points="439.7,79.5 440.6,77.2 441.4,78.6 442.2,79.7 442.2,79.7 439.7,79.6" fill="url(#gc11)"/>
<polygon points="443.9,79.8 444.7,79.5 445.5,79.1 446.3,79.9 446.3,80 443.9,79.8" fill="url(#gc11)"/>
<polygon points="448.8,80.1 449.6,79.8 450.5,77.9 451.3,79.8 452.1,80.2 452.1,80.2 448.8,80.1" fill="url(#gc11)"/>
<polygon points="454.6,80.4 455.4,80 456.2,78.7 457.1,80.2 457.1,80.5 454.6,80.4" fill="url(#gc11)"/>
<polygon points="460.4,80.6 461.2,79.7 462,80.3 462.8,80.7 462.8,80.8 460.4,80.6" fill="url(#gc11)"/>
<polygon points="467,80.7 467.8,79.5 468.6,80.6 469.4,81.1 469.4,81.1 467,81" fill="url(#gc11)"/>
<polygon points="476,81.4 476.9,81.1 477.7,80 478.5,81.4 478.5,81.5 476,81.4" fill="url(#gc11)"/>
<polygon points="486.8,81.8 487.6,80 488.4,81.5 489.3,82 489.3,82 486.8,81.9" fill="url(#gc11)"/>
<polygon points="500.8,82.5 501.6,81.9 502.5,82.3 503.3,82.7 503.3,82.7 500.8,82.6" fill="url(#gc11)"/>
<polygon points="404.8,78.5 405.7,77.8 406.5,75.5 407.3,73.3 408.1,68.9 409,72 409.8,74.3 410.6,77.3 411.5,78.7 412.3,79 412.3,79.1 404.8,78.7" fill="url(#gc10)"/>
<polygon points="418.1,79.1 418.9,78.9 419.7,78.3 420.5,76.1 421.4,57.9 422.2,53.1 423,65.7 423.8,64.8 424.7,55.6 425.5,45.1 426.3,33.8 427.1,41.3 428,60 428.8,70.9 429.6,74.5 430.4,77.6 431.3,78.5 432.1,78.4 432.9,79.1 433.7,80 433.7,80.1 418.1,79.3" fill="url(#gc10)"/>
<polygon points="436.2,80.2 437,79.3 437.9,80.1 437.9,80.3 436.2,80.2" fill="url(#gc10)"/>
<polygon points="439.5,80.2 440.3,78.7 441.2,79.3 442,80.5 442,80.5 439.5,80.4" fill="url(#gc10)"/>
<polygon points="443.6,80.6 444.5,80.2 445.3,79.8 446.1,80.6 446.1,80.7 443.6,80.6" fill="url(#gc10)"/>
<polygon points="448.6,80.8 449.4,80.5 450.3,79.1 451.1,80.7 451.1,81 448.6,80.8" fill="url(#gc10)"/>
<polygon points="454.4,81.1 455.2,80.8 456,79.9 456.9,81 456.9,81.2 454.4,81.1" fill="url(#gc10)"/>
<polygon points="460.2,81.3 461,80.6 461.8,81 462.6,81.5 462.6,81.5 460.2,81.4" fill="url(#gc10)"/>
<polygon points="466.8,81.4 467.6,79.8 468.4,81.6 468.4,81.8 466.8,81.7" fill="url(#gc10)"/>
<polygon points="475.8,82.2 476.7,81.8 477.5,80.7 478.3,82.1 478.3,82.3 475.8,82.2" fill="url(#gc10)"/>
<polygon points="486.6,82.5 487.4,80.7 488.2,82.3 489,82.8 489,82.8 486.6,82.7" fill="url(#gc10)"/>
<polygon points="500.6,83.2 501.4,82.3 502.3,83.2 502.3,83.4 500.6,83.4" fill="url(#gc10)"/>
<polygon points="404.6,79.3 405.5,78.6 406.3,76 407.1,72.1 407.9,69.2 408.8,71.2 409.6,75.6 410.4,78.3 411.2,79.5 412.1,79.8 412.1,79.8 404.6,79.5" fill="url(#gc9)"/>
<polygon points="417.8,79.9 418.7,79.6 419.5,78.8 420.3,76.7 421.2,62.4 422,56.4 422.8,67.6 423.6,62.6 424.5,53.7 425.3,47 426.1,39.3 426.9,44.9 427.8,62 428.6,70.5 429.4,74.6 430.2,77.5 431.1,79.2 431.9,78.7 432.7,79.8 433.5,80.8 433.5,80.9 417.8,80.1" fill="url(#gc9)"/>
<polygon points="436,80.9 436.8,80.1 437.7,80.9 437.7,81.1 436,81" fill="url(#gc9)"/>
<polygon points="439.3,81.1 440.1,79.8 441,80.2 441.8,81.3 441.8,81.3 439.3,81.1" fill="url(#gc9)"/>
<polygon points="444.3,81.2 445.1,80.4 445.9,81.4 445.9,81.5 444.3,81.4" fill="url(#gc9)"/>
<polygon points="448.4,81.6 449.2,81.3 450,79.4 450.9,81.4 450.9,81.7 448.4,81.6" fill="url(#gc9)"/>
<polygon points="454.2,81.9 455,81.6 455.8,80.6 456.6,81.7 456.6,82 454.2,81.9" fill="url(#gc9)"/>
<polygon points="459.9,82.1 460.8,81.1 461.6,81.9 462.4,82.3 462.4,82.3 459.9,82.2" fill="url(#gc9)"/>
<polygon points="465.7,82.4 466.6,82.1 467.4,80.7 468.2,82.2 469,82.6 469,82.6 465.7,82.4" fill="url(#gc9)"/>
<polygon points="475.6,82.9 476.5,82.5 477.3,81.7 478.1,82.8 478.1,83 475.6,82.9" fill="url(#gc9)"/>
<polygon points="486.4,83.2 487.2,81.2 488,83.2 488.8,83.6 488.8,83.6 486.4,83.4" fill="url(#gc9)"/>
<polygon points="500.4,84 501.2,82.8 502,83.9 502,84.2 500.4,84.1" fill="url(#gc9)"/>
<polygon points="404.4,80.1 405.3,79.5 406.1,76.9 406.9,73.8 407.7,71.3 408.6,74 409.4,76 410.2,79.1 411,80.2 411.9,80.5 411.9,80.6 404.4,80.2" fill="url(#gc8)"/>
<polygon points="417.6,80.7 418.5,80.4 419.3,79.5 420.1,77.9 420.9,66.7 421.8,60.8 422.6,67.5 423.4,66.9 424.2,59.4 425.1,46.5 425.9,41.8 426.7,52.7 427.5,64.5 428.4,73 429.2,76.2 430,79 430.8,80.2 431.7,79.8 432.5,80.8 433.3,81.6 433.3,81.6 417.6,80.9" fill="url(#gc8)"/>
<polygon points="435.8,81.7 436.6,81.2 437.5,81.6 437.5,81.8 435.8,81.7" fill="url(#gc8)"/>
<polygon points="439.1,81.8 439.9,80.2 440.8,81 441.6,82 441.6,82 439.1,81.9" fill="url(#gc8)"/>
<polygon points="443.2,82.1 444.1,81.8 444.9,81.2 445.7,82.2 445.7,82.2 443.2,82.1" fill="url(#gc8)"/>
<polygon points="448.2,82.3 449,82 449.8,81.1 450.7,82.1 451.5,82.5 451.5,82.5 448.2,82.3" fill="url(#gc8)"/>
<polygon points="454.8,82.4 455.6,80.7 456.4,82.5 456.4,82.7 454.8,82.7" fill="url(#gc8)"/>
<polygon points="459.7,82.9 460.6,81.9 461.4,82.6 462.2,83 462.2,83 459.7,82.9" fill="url(#gc8)"/>
<polygon points="466.3,83 467.2,81.1 468,83 468.8,83.4 468.8,83.4 466.3,83.2" fill="url(#gc8)"/>
<polygon points="475.4,83.7 476.3,83.1 477.1,82.3 477.9,83.6 477.9,83.8 475.4,83.7" fill="url(#gc8)"/>
<polygon points="486.2,84.1 487,82.7 487.8,83.8 488.6,84.3 488.6,84.3 486.2,84.2" fill="url(#gc8)"/>
<polygon points="500.2,84.8 501,84.1 501.8,84.8 501.8,85 500.2,84.9" fill="url(#gc8)"/>
<polygon points="404.2,80.8 405.1,80.2 405.9,77.9 406.7,74.2 407.5,73.7 408.4,72.3 409.2,77.7 410,79.9 410.8,81 411.7,81.3 411.7,81.3 404.2,81" fill="url(#gc7)"/>
<polygon points="417.4,81.4 418.3,81.1 419.1,80.3 419.9,78.6 420.7,69.4 421.6,65 422.4,66.5 423.2,67 424,62.5 424.9,49.8 425.7,47.9 426.5,54.1 427.3,67.5 428.2,74.2 429,76.4 429.8,79.4 430.6,80.9 431.5,79.9 432.3,81.5 433.1,82.3 433.1,82.4 417.4,81.6" fill="url(#gc7)"/>
<polygon points="435.6,82.4 436.4,81.8 437.2,82.4 437.2,82.6 435.6,82.5" fill="url(#gc7)"/>
<polygon points="438.9,82.5 439.7,80.2 440.5,81.5 441.4,82.8 441.4,82.8 438.9,82.7" fill="url(#gc7)"/>
<polygon points="443,82.9 443.9,82.6 444.7,82 445.5,82.9 445.5,83 443,82.9" fill="url(#gc7)"/>
<polygon points="448,83.1 448.8,82.8 449.6,81.3 450.5,82.9 451.3,83.3 451.3,83.3 448,83.1" fill="url(#gc7)"/>
<polygon points="454.6,83.2 455.4,82 456.2,83.3 456.2,83.5 454.6,83.4" fill="url(#gc7)"/>
<polygon points="459.5,83.6 460.4,82.5 461.2,83.1 462,83.8 462,83.8 459.5,83.7" fill="url(#gc7)"/>
<polygon points="465.3,83.9 466.1,83.6 467,81.6 467.8,83.7 468.6,84.1 468.6,84.1 465.3,84" fill="url(#gc7)"/>
<polygon points="475.2,84.4 476,84 476.9,83.1 477.7,84.4 477.7,84.6 475.2,84.4" fill="url(#gc7)"/>
<polygon points="486,84.8 486.8,83.4 487.6,84.7 488.4,85.1 488.4,85.1 486,85" fill="url(#gc7)"/>
<polygon points="500,85.5 500.8,84.4 501.6,85.4 502.5,85.8 502.5,85.8 500,85.6" fill="url(#gc7)"/>
<polygon points="404,81.6 404.8,80.9 405.7,78.5 406.5,74.3 407.3,72.8 408.1,74.7 409,77.2 409.8,80.7 410.6,81.8 411.4,82.1 411.4,82.1 404,81.7" fill="url(#gc6)"/>
<polygon points="417.2,82.2 418.1,81.9 418.9,81.3 419.7,79.7 420.5,73.2 421.4,68.7 422.2,69.9 423,64.4 423.8,59.6 424.7,57.8 425.5,49.6 426.3,55.9 427.1,66.3 428,74.9 428.8,77.2 429.6,80.5 430.4,81.7 431.3,81.5 432.1,82.3 432.9,83 432.9,83.1 417.2,82.4" fill="url(#gc6)"/>
<polygon points="435.4,83.2 436.2,82.5 437,83.2 437,83.3 435.4,83.3" fill="url(#gc6)"/>
<polygon points="438.7,83.3 439.5,81.2 440.3,82.5 441.2,83.5 441.2,83.5 438.7,83.4" fill="url(#gc6)"/>
<polygon points="442.8,83.6 443.6,83.3 444.5,82.6 445.3,83.7 445.3,83.7 442.8,83.6" fill="url(#gc6)"/>
<polygon points="448.6,83.7 449.4,82.5 450.2,83.7 451.1,84 451.1,84 448.6,83.9" fill="url(#gc6)"/>
<polygon points="453.6,84.1 454.4,83.8 455.2,82.3 456,84 456,84.3 453.6,84.1" fill="url(#gc6)"/>
<polygon points="459.3,84.4 460.2,83.2 461,84 461.8,84.5 461.8,84.5 459.3,84.4" fill="url(#gc6)"/>
<polygon points="465.1,84.7 465.9,84.4 466.8,83.2 467.6,84.5 468.4,84.9 468.4,84.9 465.1,84.7" fill="url(#gc6)"/>
<polygon points="475,85.2 475.8,84.9 476.7,84.1 477.5,85.1 477.5,85.3 475,85.2" fill="url(#gc6)"/>
<polygon points="485.7,85.5 486.6,83.8 487.4,85.4 488.2,85.8 488.2,85.8 485.7,85.7" fill="url(#gc6)"/>
<polygon points="499.8,86.3 500.6,85.3 501.4,86.1 502.3,86.5 502.3,86.5 499.8,86.4" fill="url(#gc6)"/>
<polygon points="403.8,82.3 404.6,81.8 405.5,79.3 406.3,75.6 407.1,73.5 407.9,73.9 408.8,79.2 409.6,81.5 410.4,82.5 411.2,82.8 411.2,82.9 403.8,82.5" fill="url(#gc5)"/>
<polygon points="417,82.9 417.8,82.7 418.7,82 419.5,80.8 420.3,75.1 421.1,71.6 422,70.4 422.8,64.1 423.6,60.7 424.5,60.8 425.3,58.1 426.1,62.1 426.9,68.5 427.8,74.8 428.6,79.5 429.4,80.5 430.2,82.4 431.1,82.2 431.9,83.1 432.7,83.8 432.7,83.9 417,83.1" fill="url(#gc5)"/>
<polygon points="435.2,84 436,83.4 436.8,83.9 436.8,84.1 435.2,84" fill="url(#gc5)"/>
<polygon points="438.5,84.1 439.3,82.4 440.1,83.2 441,84.3 441,84.3 438.5,84.2" fill="url(#gc5)"/>
<polygon points="443.4,84.2 444.3,83.7 445.1,84.4 445.1,84.5 443.4,84.4" fill="url(#gc5)"/>
<polygon points="447.6,84.6 448.4,84.2 449.2,82.6 450,84.4 450.9,84.8 450.9,84.8 447.6,84.6" fill="url(#gc5)"/>
<polygon points="453.3,84.9 454.2,84.5 455,83.8 455.8,84.8 455.8,85 453.3,84.9" fill="url(#gc5)"/>
<polygon points="459.1,85.1 459.9,84.4 460.8,84.6 461.6,85.3 461.6,85.3 459.1,85.2" fill="url(#gc5)"/>
<polygon points="464.9,85.5 465.7,85.1 466.6,83.7 467.4,85.3 468.2,85.6 468.2,85.6 464.9,85.5" fill="url(#gc5)"/>
<polygon points="474.8,85.9 475.6,85.7 476.5,84.7 477.3,85.9 477.3,86.1 474.8,86" fill="url(#gc5)"/>
<polygon points="485.5,86.3 486.4,84.7 487.2,86.1 488,86.6 488,86.6 485.5,86.5" fill="url(#gc5)"/>
<polygon points="499.6,87.1 500.4,86.1 501.2,87 502,87.3 502,87.3 499.6,87.2" fill="url(#gc5)"/>
<polygon points="403.6,83.1 404.4,82.3 405.3,80.9 406.1,77.6 406.9,74.9 407.7,75.5 408.6,80 409.4,81.9 410.2,83.2 411,83.6 411,83.6 403.6,83.2" fill="url(#gc4)"/>
<polygon points="416.8,83.7 417.6,83.3 418.5,82.8 419.3,81.6 420.1,77.2 420.9,73.6 421.8,72 422.6,68.6 423.4,61.4 424.2,60.3 425.1,57 425.9,66.1 426.7,68.2 427.5,74.6 428.4,79.8 429.2,81.7 430,83.2 430.8,82.9 431.7,83.9 432.5,84.6 432.5,84.7 416.8,83.9" fill="url(#gc4)"/>
<polygon points="435,84.7 435.8,84.3 436.6,84.7 436.6,84.9 435,84.8" fill="url(#gc4)"/>
<polygon points="438.3,84.9 439.1,83.5 439.9,83.9 440.8,85 440.8,85.1 438.3,84.9" fill="url(#gc4)"/>
<polygon points="442.4,85.1 443.2,84.9 444.1,84.2 444.9,85.2 444.9,85.3 442.4,85.1" fill="url(#gc4)"/>
<polygon points="447.4,85.4 448.2,85.1 449,83.4 449.8,85.2 450.7,85.5 450.7,85.5 447.4,85.4" fill="url(#gc4)"/>
<polygon points="454,85.4 454.8,83.7 455.6,85.6 455.6,85.8 454,85.7" fill="url(#gc4)"/>
<polygon points="458.9,85.9 459.7,84.8 460.6,85.4 461.4,86.1 461.4,86.1 458.9,85.9" fill="url(#gc4)"/>
<polygon points="465.5,86 466.3,83.6 467.2,86.1 467.2,86.3 465.5,86.3" fill="url(#gc4)"/>
<polygon points="474.6,86.7 475.4,86.3 476.3,84.9 477.1,86.7 477.1,86.8 474.6,86.7" fill="url(#gc4)"/>
<polygon points="485.3,87.1 486.2,86 487,86.9 487.8,87.4 487.8,87.4 485.3,87.2" fill="url(#gc4)"/>
<polygon points="499.4,87.8 500.2,86.9 501,87.8 501,88 499.4,87.9" fill="url(#gc4)"/>
<polygon points="403.4,83.8 404.2,83.2 405.1,80.8 405.9,77.5 406.7,76.7 407.5,76.7 408.4,80.6 409.2,82.7 410,84 410.8,84.3 410.8,84.4 403.4,84" fill="url(#gc3)"/>
<polygon points="416.6,84.5 417.4,84.2 418.3,83.4 419.1,82.1 419.9,78.8 420.7,75.9 421.6,73 422.4,66.1 423.2,62.8 424,59.3 424.9,61.4 425.7,67.4 426.5,72.5 427.3,77.5 428.2,80 429,82.3 429.8,84.1 430.6,83 431.5,84.4 432.3,85.3 432.3,85.4 416.6,84.7" fill="url(#gc3)"/>
<polygon points="434.8,85.4 435.6,84.8 436.4,85.4 436.4,85.6 434.8,85.5" fill="url(#gc3)"/>
<polygon points="438.1,85.6 438.9,83.7 439.7,84.7 440.5,85.8 440.5,85.8 438.1,85.7" fill="url(#gc3)"/>
<polygon points="443,85.7 443.8,85 444.7,85.9 444.7,86 443,85.9" fill="url(#gc3)"/>
<polygon points="447.2,86.1 448,85.8 448.8,84.3 449.6,86.1 449.6,86.3 447.2,86.1" fill="url(#gc3)"/>
<polygon points="452.9,86.4 453.8,86.1 454.6,85 455.4,86.3 455.4,86.5 452.9,86.4" fill="url(#gc3)"/>
<polygon points="458.7,86.6 459.5,85.6 460.4,86.2 461.2,86.8 461.2,86.8 458.7,86.7" fill="url(#gc3)"/>
<polygon points="464.5,87 465.3,86.7 466.1,85.5 467,86.7 467.8,87.1 467.8,87.1 464.5,87" fill="url(#gc3)"/>
<polygon points="474.4,87.5 475.2,87 476,86 476.9,87.4 476.9,87.6 474.4,87.5" fill="url(#gc3)"/>
<polygon points="485.1,87.8 485.9,86.2 486.8,87.7 487.6,88.1 487.6,88.1 485.1,88" fill="url(#gc3)"/>
<polygon points="499.2,88.6 500,87.9 500.8,88.6 500.8,88.8 499.2,88.7" fill="url(#gc3)"/>
<polygon points="403.2,84.6 404,84 404.8,81.8 405.7,79.7 406.5,77.5 407.3,78.8 408.1,81.2 409,83.7 409.8,84.7 410.6,85.1 410.6,85.1 403.2,84.8" fill="url(#gc2)"/>
<polygon points="416.4,85.2 417.2,85 418.1,84.4 418.9,82.6 419.7,80.3 420.5,76.6 421.4,72.2 422.2,71.2 423,68.8 423.8,64.8 424.7,64.9 425.5,64.5 426.3,74.3 427.1,78.3 428,80.8 428.8,83.4 429.6,84.5 430.4,84.3 431.3,85.1 432.1,86.1 432.1,86.2 416.4,85.4" fill="url(#gc2)"/>
<polygon points="434.6,86.2 435.4,85.4 436.2,86.1 436.2,86.4 434.6,86.3" fill="url(#gc2)"/>
<polygon points="437.9,86.3 438.7,85.2 439.5,85.7 440.3,86.6 440.3,86.6 437.9,86.5" fill="url(#gc2)"/>
<polygon points="442,86.7 442.8,86.4 443.6,85.6 444.5,86.7 444.5,86.8 442,86.7" fill="url(#gc2)"/>
<polygon points="446.9,86.9 447.8,86.5 448.6,85.1 449.4,86.8 449.4,87 446.9,86.9" fill="url(#gc2)"/>
<polygon points="453.5,87 454.4,85.5 455.2,87.1 455.2,87.3 453.5,87.2" fill="url(#gc2)"/>
<polygon points="458.5,87.4 459.3,86.5 460.2,86.9 461,87.6 461,87.6 458.5,87.5" fill="url(#gc2)"/>
<polygon points="464.3,87.7 465.1,87.5 465.9,85.2 466.8,87.5 467.6,87.9 467.6,87.9 464.3,87.7" fill="url(#gc2)"/>
<polygon points="474.2,88.2 475,87.9 475.8,87.1 476.7,88.2 476.7,88.3 474.2,88.2" fill="url(#gc2)"/>
<polygon points="484.9,88.5 485.7,86.7 486.6,88.3 487.4,88.9 487.4,88.9 484.9,88.8" fill="url(#gc2)"/>
<polygon points="499,89.3 499.8,88.4 500.6,89.2 501.4,89.6 501.4,89.6 499,89.4" fill="url(#gc2)"/>
<polygon points="403,85.3 403.8,84.9 404.6,83.3 405.5,79 406.3,77.8 407.1,78 407.9,82.1 408.8,84.6 409.6,85.6 409.6,85.8 403,85.5" fill="url(#gc1)"/>
<polygon points="416.2,86 417,85.7 417.8,85.1 418.7,83.8 419.5,80.8 420.3,78.9 421.1,74 422,67.6 422.8,68.9 423.6,63.5 424.4,64.9 425.3,68.8 426.1,71.8 426.9,76.9 427.8,80.7 428.6,83.7 429.4,85.4 430.2,85 431.1,85.9 431.9,86.8 431.9,86.9 416.2,86.2" fill="url(#gc1)"/>
<polygon points="434.4,87 435.2,86.5 436,87 436,87.1 434.4,87.1" fill="url(#gc1)"/>
<polygon points="437.7,87.1 438.5,84.9 439.3,86 440.1,87.3 440.1,87.3 437.7,87.2" fill="url(#gc1)"/>
<polygon points="441.8,87.4 442.6,87.1 443.4,86.6 444.3,87.5 444.3,87.5 441.8,87.4" fill="url(#gc1)"/>
<polygon points="447.6,87.5 448.4,86.2 449.2,87.5 449.2,87.8 447.6,87.7" fill="url(#gc1)"/>
<polygon points="452.5,87.9 453.3,87.6 454.2,86.6 455,87.9 455,88.1 452.5,87.9" fill="url(#gc1)"/>
<polygon points="458.3,88.2 459.1,87.2 459.9,87.8 460.8,88.3 460.8,88.3 458.3,88.2" fill="url(#gc1)"/>
<polygon points="464.1,88.5 464.9,88.1 465.7,86.6 466.5,88.3 467.4,88.7 467.4,88.7 464.1,88.5" fill="url(#gc1)"/>
<polygon points="474,89 474.8,88.7 475.6,87.7 476.5,89 476.5,89.1 474,89" fill="url(#gc1)"/>
<polygon points="484.7,89.4 485.5,87.6 486.4,89.1 487.2,89.6 487.2,89.6 484.7,89.5" fill="url(#gc1)"/>
<polygon points="498.7,90.1 499.6,89 500.4,90.1 500.4,90.3 498.7,90.2" fill="url(#gc1)"/>
<polygon points="402.8,86.1 403.6,85.6 404.4,83 405.3,81.3 406.1,79.3 406.9,80.4 407.7,83.2 408.6,85.3 409.4,86.3 410.2,86.6 410.2,86.6 402.8,86.3" fill="url(#gc0)"/>
<polygon points="416,86.7 416.8,86.5 417.6,86 418.5,84.2 419.3,82.6 420.1,77.7 420.9,75.7 421.8,70.8 422.6,65 423.4,66.5 424.2,67.4 425.1,67.6 425.9,75.4 426.7,78.6 427.5,81.5 428.4,84.9 429.2,86.3 430,86 430.8,86.8 431.7,87.6 431.7,87.7 416,86.9" fill="url(#gc0)"/>
<polygon points="434.1,87.7 435,87.4 435.8,87.7 435.8,87.9 434.1,87.8" fill="url(#gc0)"/>
<polygon points="437.4,87.9 438.3,86.1 439.1,86.9 439.9,88.1 439.9,88.1 437.4,88" fill="url(#gc0)"/>
<polygon points="441.6,88.2 442.4,87.9 443.2,87.1 444.1,88.2 444.1,88.3 441.6,88.2" fill="url(#gc0)"/>
<polygon points="446.5,88.4 447.4,88.1 448.2,86.6 449,88.3 449,88.5 446.5,88.4" fill="url(#gc0)"/>
<polygon points="452.3,88.7 453.1,88.4 454,87 454.8,88.6 454.8,88.8 452.3,88.7" fill="url(#gc0)"/>
<polygon points="458.1,88.9 458.9,88.2 459.7,88.5 460.6,89.1 460.6,89.1 458.1,89" fill="url(#gc0)"/>
<polygon points="463.9,89.3 464.7,88.9 465.5,87.5 466.3,89.1 467.2,89.4 467.2,89.4 463.9,89.3" fill="url(#gc0)"/>
<polygon points="473.8,89.7 474.6,89.4 475.4,88.6 476.2,89.8 476.2,89.9 473.8,89.7" fill="url(#gc0)"/>
<polygon points="484.5,90.1 485.3,88.3 486.2,90 487,90.4 487,90.4 484.5,90.3" fill="url(#gc0)"/>
<polygon points="498.5,90.8 499.4,90.3 500.2,90.8 500.2,91 498.5,91" fill="url(#gc0)"/>
<polygon points="91.4,194 232.2,201.1 240.2,183.5 99.4,176.4" fill="#1616e6"/>
<polygon points="99.4,174.8 100.5,175.4 101.6,175.8 102.7,175.9 103.8,175.2 104.9,174.9 105.9,174.7 107,173.9 108.1,176.2 109.2,176 110.3,176.2 111.4,176.3 112.5,176.4 113.6,174.5 114.7,176.5 115.8,173.9 116.9,174.7 118,175.9 119,174.7 120.1,174.4 121.2,176.8 122.3,176.6 123.4,176.5 124.5,176.6 125.6,177 126.7,177.1 127.8,177.1 128.9,177.1 130,177 131.1,177.3 132.1,175.4 133.2,176.3 134.3,173.8 135.4,169.1 136.5,171.2 137.6,170 138.7,163.2 139.8,141.5 140.9,144.4 142,162.4 143.1,153.8 144.2,170.8 145.2,170 146.3,166.2 147.4,168.3 148.5,165.4 149.6,168.8 150.7,137.3 151.8,147.3 152.9,151.6 154,140.4 155.1,148.5 156.2,142.2 157.2,169.7 158.3,174.1 159.4,169.9 160.5,172.5 161.6,174.5 162.7,174.7 163.8,175.1 164.9,171.1 166,173.8 167.1,167.8 168.2,170.7 169.3,173.7 170.3,167.2 171.4,167 172.5,159.7 173.6,173.7 174.7,161.4 175.8,154 176.9,157.8 178,167.4 179.1,169.5 180.2,167.3 181.3,173.4 182.4,174 183.4,168.9 184.5,170.2 185.6,165.1 186.7,162.9 187.8,175.2 188.9,160.5 190,174.9 191.1,168.5 192.2,166.8 193.3,171.1 194.4,164.4 195.4,169.8 196.5,157.4 197.6,165.3 198.7,167.8 199.8,168.6 200.9,171 202,174.4 203.1,177.2 204.2,179.7 205.3,180.3 206.4,180.4 207.5,178.8 208.5,181.2 209.6,179.4 210.7,181.3 211.8,181.2 212.9,180.4 214,178.8 215.1,181.6 216.2,181.6 217.3,181.6 218.4,181.7 219.5,180.6 220.6,181.8 221.6,181.9 222.7,182 223.8,180.6 224.9,181.9 226,180 227.1,180.6 228.2,182.1 229.3,181.8 230.4,182 231.5,182.4 232.6,182.4 233.7,181.8 234.7,182.6 235.8,182.6 236.9,182.7 238,182.6 239.1,182.3 240.2,181.2 240.2,183.5 99.4,176.4" fill="url(#gd27)"/>
<polygon points="99.1,176.3 100.2,176.3 101.3,175.4 102.4,176.6 103.5,176.4 104.6,176.7 105.7,176.7 106.7,173.9 107.8,175.6 108.9,176.8 110,176.9 111.1,177 112.2,177 113.3,177 114.4,174.6 115.5,177.2 116.6,174.9 117.7,177.3 118.8,175.1 119.8,175.7 120.9,175.6 122,176.8 123.1,175 124.2,177.5 125.3,177.7 126.4,177.8 127.5,175.4 128.6,176.7 129.7,177.6 130.8,178 131.8,177.9 132.9,177.9 134,171.3 135.1,167.8 136.2,172.2 137.3,172.2 138.4,158.5 139.5,143 140.6,155.7 141.7,170 142.8,157.8 143.9,169.4 144.9,171.7 146,159.6 147.1,173.2 148.2,169.5 149.3,163.4 150.4,142.5 151.5,146.4 152.6,157.1 153.7,144.7 154.8,148.6 155.9,138.5 157,167.9 158,174.4 159.1,172.6 160.2,174.4 161.3,173.4 162.4,174.5 163.5,173.4 164.6,171.8 165.7,173.7 166.8,170.5 167.9,160.1 169,174.9 170,165.4 171.1,164.3 172.2,155.1 173.3,174.7 174.4,156.8 175.5,167.2 176.6,158.4 177.7,171.5 178.8,166.7 179.9,168 181,174.2 182.1,174.6 183.1,172.1 184.2,170.6 185.3,161.1 186.4,171.6 187.5,174.4 188.6,167.2 189.7,171.4 190.8,169.3 191.9,173.9 193,173.3 194.1,167.3 195.2,163.2 196.2,157.9 197.3,165.1 198.4,174.7 199.5,165.3 200.6,165.7 201.7,173 202.8,178.8 203.9,180.1 205,181.6 206.1,179.5 207.2,181.8 208.3,181.7 209.3,179.7 210.4,182 211.5,181.8 212.6,182.1 213.7,182.1 214.8,182.2 215.9,179.8 217,182.3 218.1,182.3 219.2,182.4 220.3,181.3 221.3,182.5 222.4,182.6 223.5,181.7 224.6,182.5 225.7,182.3 226.8,182.8 227.9,180.7 229,182.8 230.1,183 231.2,182.5 232.3,181.4 233.4,183.2 234.4,181.4 235.5,183.3 236.6,181.1 237.7,181.1 238.8,183.4 239.9,183.1 239.9,184.2 99.1,177.1" fill="url(#gd26)"/>
<polygon points="98.8,174.1 99.9,177.1 101,176.7 102.1,177.1 103.2,177.1 104.3,176.8 105.4,176.1 106.4,177.2 107.5,177.5 108.6,177.4 109.7,177.5 110.8,175.7 111.9,176 113,176.4 114.1,177.8 115.2,177.9 116.3,177.5 117.4,177.8 118.5,178 119.5,176.1 120.6,178.1 121.7,178.2 122.8,178.2 123.9,178.3 125,178.4 126.1,178.2 127.2,178.5 128.3,178.5 129.4,178.6 130.5,178.1 131.6,177.8 132.6,178.5 133.7,176.8 134.8,164.2 135.9,172.4 137,170.6 138.1,160.9 139.2,142.6 140.3,140.8 141.4,167 142.5,152 143.6,172.5 144.6,173.7 145.7,159.6 146.8,171.3 147.9,165.3 149,165 150.1,147.2 151.2,158.7 152.3,153.6 153.4,140.4 154.5,143.9 155.6,154.3 156.7,168.5 157.7,170.5 158.8,169.4 159.9,173.5 161,174.5 162.1,174.6 163.2,172.9 164.3,169.4 165.4,176.6 166.5,171.1 167.6,165.7 168.7,175.6 169.8,165.1 170.8,169.4 171.9,156.3 173,172.7 174.1,152.1 175.2,158 176.3,159.4 177.4,167.2 178.5,165.1 179.6,169.4 180.7,173.6 181.8,175.9 182.9,168.6 183.9,173.2 185,171.1 186.1,166.2 187.2,174.7 188.3,162.8 189.4,175.1 190.5,168.5 191.6,175.9 192.7,174.7 193.8,169.9 194.9,165.4 195.9,157.6 197,169.4 198.1,167.2 199.2,165.2 200.3,167.4 201.4,176.2 202.5,180.3 203.6,182.1 204.7,182.4 205.8,179.6 206.9,182.5 208,182.5 209,181.7 210.1,182.6 211.2,182.7 212.3,182.7 213.4,181.7 214.5,181.6 215.6,182.9 216.7,182.9 217.8,182.4 218.9,183.1 220,183.1 221.1,183 222.1,182.9 223.2,182.6 224.3,183.3 225.4,183.4 226.5,183.5 227.6,183.5 228.7,183.6 229.8,183.6 230.9,182.1 232,183.8 233.1,181.3 234.2,182.8 235.2,183.2 236.3,184 237.4,183.2 238.5,184.1 239.6,184.1 239.6,184.8 98.8,177.7" fill="url(#gd25)"/>
<polygon points="98.5,177.2 99.6,175 100.7,177.3 101.8,177.3 102.9,177.8 104,176.4 105.1,177.9 106.2,177.7 107.2,177.6 108.3,178.2 109.4,178.2 110.5,178.3 111.6,178.2 112.7,175.6 113.8,178 114.9,178.5 116,178.2 117.1,178.6 118.2,178.1 119.2,178.2 120.3,178.8 121.4,178.8 122.5,175.9 123.6,176.4 124.7,178.9 125.8,179 126.9,177.6 128,177.9 129.1,178.2 130.2,178.1 131.3,179.3 132.3,177.8 133.4,172.8 134.5,167.5 135.6,175.6 136.7,173 137.8,154.8 138.9,153.9 140,157.1 141.1,164 142.2,145.9 143.3,170.9 144.4,171.4 145.4,159.7 146.5,172.7 147.6,170.9 148.7,170.4 149.8,135.8 150.9,153.3 152,165.5 153.1,139.6 154.2,140.2 155.3,150.8 156.4,165.8 157.5,175.5 158.5,170.7 159.6,170.6 160.7,174.7 161.8,170.2 162.9,173.3 164,173.2 165.1,177.1 166.2,171.7 167.3,164.2 168.4,175.5 169.5,167.2 170.5,171.7 171.6,169.3 172.7,174 173.8,162 174.9,159.9 176,161.6 177.1,165.9 178.2,167.6 179.3,169.6 180.4,171.6 181.5,173.9 182.6,167.3 183.6,173.6 184.7,159.7 185.8,172.4 186.9,174.8 188,168.6 189.1,174.7 190.2,166.4 191.3,171.7 192.4,175.1 193.5,169 194.6,171.6 195.7,166.4 196.7,159.6 197.8,168.4 198.9,171.5 200,170.6 201.1,179.7 202.2,179.5 203.3,182.9 204.4,183 205.5,183.1 206.6,183.1 207.7,183.1 208.7,182.8 209.8,180.6 210.9,182.3 212,183.1 213.1,183.5 214.2,183 215.3,183.6 216.4,183.2 217.5,183.1 218.6,183.6 219.7,183.8 220.8,183.9 221.8,183.4 222.9,182.3 224,184 225.1,184 226.2,183.8 227.3,184 228.4,184.2 229.5,183.6 230.6,183.8 231.7,183.8 232.8,184.5 233.9,184.3 234.9,184.6 236,183.8 237.1,184.6 238.2,183.7 239.3,184.8 239.3,185.5 98.5,178.4" fill="url(#gd24)"/>
<polygon points="98.2,178.2 99.3,178.4 100.4,177.9 101.5,178.4 102.6,178.5 103.7,178.3 104.8,178.7 105.9,178.7 106.9,178.6 108,178.3 109.1,176.1 110.2,178.9 111.3,176.8 112.4,179.1 113.5,179.1 114.6,179.2 115.7,179.2 116.8,178.2 117.9,179.2 119,179.4 120,179.4 121.1,179.3 122.2,178.1 123.3,179.4 124.4,179.6 125.5,179.2 126.6,179.6 127.7,179.8 128.8,179.9 129.9,178.4 131,180 132.1,179.7 133.1,177.3 134.2,169.1 135.3,174.4 136.4,172.7 137.5,160.7 138.6,151.9 139.7,154.1 140.8,171 141.9,164.5 143,171 144.1,172.9 145.1,162.6 146.2,171.3 147.3,173.3 148.4,171.5 149.5,139.1 150.6,151.3 151.7,154.9 152.8,151.8 153.9,138.8 155,140 156.1,167.1 157.2,170.7 158.2,174.1 159.3,176 160.4,174.7 161.5,174.4 162.6,174.7 163.7,170.1 164.8,175.3 165.9,167.6 167,166.5 168.1,175.6 169.2,162.6 170.3,173.5 171.3,168.7 172.4,173 173.5,161.3 174.6,166.4 175.7,160.8 176.8,170.3 177.9,170 179,167 180.1,174.6 181.2,174.7 182.3,174.2 183.3,176.9 184.4,165.1 185.5,168.4 186.6,176.6 187.7,171.9 188.8,175 189.9,172 191,175.6 192.1,175 193.2,166 194.3,171.7 195.4,159.9 196.4,169.1 197.5,176 198.6,167.4 199.7,174.9 200.8,179.6 201.9,180.9 203,183.6 204.1,183.7 205.2,183.3 206.3,183.8 207.4,183.8 208.5,183.8 209.5,183.9 210.6,184 211.7,181.9 212.8,184.1 213.9,184.1 215,184.2 216.1,184.3 217.2,184.2 218.3,181.8 219.4,184.4 220.5,184.4 221.6,183.7 222.6,184.4 223.7,184.6 224.8,183.4 225.9,184 227,184.8 228.1,184.9 229.2,184.6 230.3,185 231.4,185.1 232.5,185.1 233.6,185.2 234.6,184.5 235.7,185.3 236.8,185.3 237.9,182.8 239,185.3 239,186.1 98.2,179" fill="url(#gd23)"/>
<polygon points="97.9,178.1 99,179.1 100.1,177.3 101.2,178.8 102.3,178.4 103.4,179 104.5,179 105.6,176.5 106.7,179.4 107.7,179.5 108.8,179.5 109.9,179.6 111,178.9 112.1,177.6 113.2,179.8 114.3,179.6 115.4,179.4 116.5,178.4 117.6,179.2 118.7,177.3 119.7,180 120.8,179.8 121.9,180.2 123,178.6 124.1,180.2 125.2,180 126.3,178.9 127.4,180.4 128.5,180.4 129.6,180.5 130.7,180.6 131.8,179.9 132.8,178.5 133.9,166 135,173.9 136.1,174.6 137.2,157.3 138.3,149.4 139.4,149 140.5,169.9 141.6,153.4 142.7,176.3 143.8,176 144.9,161.8 145.9,172.6 147,173.6 148.1,171.8 149.2,143.6 150.3,148.4 151.4,164.4 152.5,159 153.6,149.5 154.7,138.6 155.8,169.4 156.9,172.6 157.9,172.6 159,173.7 160.1,176.8 161.2,172.5 162.3,177.5 163.4,167.7 164.5,177.1 165.6,174.3 166.7,165.9 167.8,178.4 168.9,168.8 170,173.7 171,157.9 172.1,169.6 173.2,164.9 174.3,169 175.4,166.5 176.5,162.7 177.6,168.6 178.7,164.8 179.8,174.1 180.9,178.4 182,170.6 183.1,173 184.1,163.9 185.2,169 186.3,178.4 187.4,164.7 188.5,174.8 189.6,177.1 190.7,178.3 191.8,178.2 192.9,174 194,167 195.1,167.2 196.2,165.2 197.2,176.5 198.3,172.6 199.4,172.3 200.5,180.9 201.6,182 202.7,184.1 203.8,184.2 204.9,182 206,183.1 207.1,184.5 208.2,184.5 209.2,183.2 210.3,182.2 211.4,184.6 212.5,184.5 213.6,184.7 214.7,184.8 215.8,183.8 216.9,185 218,183 219.1,183 220.2,185.1 221.3,184.3 222.3,185.3 223.4,183.3 224.5,185.3 225.6,185.4 226.7,185.5 227.8,185.5 228.9,185.6 230,185.7 231.1,185.7 232.2,184.2 233.3,185.5 234.4,184.2 235.4,185.8 236.5,183.8 237.6,186 238.7,186.1 238.7,186.8 97.9,179.7" fill="url(#gd22)"/>
<polygon points="97.6,179.6 98.7,178.5 99.8,179.7 100.9,179.8 102,179.5 103.1,177.1 104.2,179.6 105.3,180 106.4,180.1 107.4,180.1 108.5,180.2 109.6,180.3 110.7,179.1 111.8,180.4 112.9,178 114,178.6 115.1,179.8 116.2,180.5 117.3,180.6 118.4,180.7 119.5,180.6 120.5,178.9 121.6,179.1 122.7,179.8 123.8,180.5 124.9,181 126,180.7 127.1,181.1 128.2,181.2 129.3,180.6 130.4,181.2 131.5,178.5 132.5,176.3 133.6,168.3 134.7,176.9 135.8,170.4 136.9,163.1 138,137.3 139.1,155.7 140.2,167.4 141.3,152.6 142.4,173.4 143.5,173.1 144.6,165.1 145.6,171.1 146.7,173.6 147.8,171.9 148.9,144.6 150,142.7 151.1,156.2 152.2,158.4 153.3,141.4 154.4,138 155.5,171.4 156.6,174.3 157.7,172.6 158.7,171.6 159.8,176.7 160.9,176.4 162,174.7 163.1,170.6 164.2,178.2 165.3,170.4 166.4,173.2 167.5,179.9 168.6,171.8 169.7,170.5 170.8,159.3 171.8,175.9 172.9,156.4 174,156.4 175.1,157.9 176.2,167 177.3,165.5 178.4,168.4 179.5,173 180.6,175.1 181.7,171.8 182.8,174.3 183.8,171.5 184.9,173.5 186,176.4 187.1,169.8 188.2,175.2 189.3,172.6 190.4,179.2 191.5,176.3 192.6,173.7 193.7,172.1 194.8,154.8 195.9,163.7 196.9,168.8 198,165.5 199.1,177.3 200.2,175.5 201.3,182.5 202.4,184.7 203.5,185 204.6,184.6 205.7,185.1 206.8,182.2 207.9,185.2 209,185.2 210,182.6 211.1,183.6 212.2,184.3 213.3,185.5 214.4,184.6 215.5,184.6 216.6,185.6 217.7,184.7 218.8,184.9 219.9,185.8 221,185.8 222.1,185.6 223.1,184 224.2,186 225.3,186 226.4,185.2 227.5,186.1 228.6,186.3 229.7,185.1 230.8,186.4 231.9,186.4 233,186.5 234.1,185.2 235.1,183.7 236.2,185.3 237.3,186.7 238.4,185.9 238.4,187.4 97.6,180.3" fill="url(#gd21)"/>
<polygon points="97.3,180.3 98.4,177.6 99.5,178 100.6,180.5 101.7,180.4 102.8,179.8 103.9,179.7 105,180.4 106.1,180.7 107.1,180.7 108.2,180.8 109.3,178.9 110.4,180.9 111.5,180.5 112.6,181.1 113.7,180.7 114.8,181 115.9,181.2 117,181.3 118.1,180.7 119.2,181.3 120.2,178.6 121.3,180 122.4,180.5 123.5,181.5 124.6,179.8 125.7,179.3 126.8,181.6 127.9,181.8 129,181.9 130.1,180.4 131.2,181.7 132.3,178.9 133.3,175 134.4,172.5 135.5,173.8 136.6,160.5 137.7,148.5 138.8,139.4 139.9,173.6 141,158.7 142.1,175.7 143.2,174.7 144.3,167.4 145.4,172.7 146.4,168.5 147.5,152.2 148.6,135.3 149.7,157.1 150.8,156.3 151.9,138.6 153,138.6 154.1,148.8 155.2,167.1 156.3,176.1 157.4,174.2 158.4,176.2 159.5,179.2 160.6,176.4 161.7,179.9 162.8,170.3 163.9,178.1 165,171.9 166.1,173.5 167.2,178.1 168.3,171 169.4,172.4 170.5,170.7 171.5,178.5 172.6,166.9 173.7,169.4 174.8,171 175.9,167.4 177,161.9 178.1,149.5 179.2,165.6 180.3,179.1 181.4,172.6 182.5,175.6 183.6,165.7 184.6,166.6 185.7,175 186.8,165 187.9,178.9 189,173.9 190.1,176.6 191.2,179.7 192.3,169.6 193.4,166.7 194.5,161.8 195.6,162 196.6,173.5 197.7,168.9 198.8,171 199.9,181.9 201,183.3 202.1,185.5 203.2,184.1 204.3,185.7 205.4,184 206.5,185.8 207.6,185.8 208.7,185.9 209.7,186 210.8,185.6 211.9,186.1 213,186.1 214.1,184 215.2,184.8 216.3,184.1 217.4,185 218.5,185.4 219.6,186.5 220.7,186.5 221.8,186.6 222.8,186.4 223.9,186.6 225,186.7 226.1,184.9 227.2,185.6 228.3,186.8 229.4,186.8 230.5,187 231.6,186.9 232.7,184.9 233.8,186 234.9,187.2 235.9,187.3 237,187.3 238.1,187.2 238.1,188.1 97.3,181" fill="url(#gd20)"/>
<polygon points="97,180.9 98.1,179.7 99.2,180.7 100.3,180.6 101.4,180.6 102.5,181.2 103.6,180.2 104.7,181.3 105.8,181.4 106.9,181.4 107.9,181.4 109,181.6 110.1,181.4 111.2,178.9 112.3,178.7 113.4,181.8 114.5,181.8 115.6,181.9 116.7,181.9 117.8,180.9 118.9,182.1 120,181.7 121,179.5 122.1,182.2 123.2,181.7 124.3,182.3 125.4,182.4 126.5,182.4 127.6,179.5 128.7,182.2 129.8,182.5 130.9,181.9 132,179 133,171.4 134.1,178.4 135.2,176.4 136.3,158.9 137.4,143 138.5,160.8 139.6,173.3 140.7,147.9 141.8,177.5 142.9,176.7 144,171.3 145.1,172.5 146.1,172.3 147.2,170 148.3,139 149.4,151.4 150.5,169.8 151.6,158.2 152.7,160.7 153.8,155.8 154.9,168.8 156,176.5 157.1,176.4 158.2,176.4 159.2,180 160.3,179.1 161.4,177.7 162.5,172.8 163.6,180.8 164.7,177.4 165.8,170.2 166.9,178 168,171.7 169.1,174.5 170.2,167.6 171.2,176.9 172.3,158.6 173.4,163 174.5,163.1 175.6,170.8 176.7,166.2 177.8,168.5 178.9,175.3 180,176.5 181.1,169.8 182.2,179 183.3,171 184.3,169 185.4,179.4 186.5,163.5 187.6,178.9 188.7,175.6 189.8,178.4 190.9,179 192,169.6 193.1,174.6 194.2,164 195.3,167.6 196.4,169.4 197.4,166.4 198.5,174.6 199.6,179.3 200.7,183.5 201.8,185.5 202.9,185.4 204,186.2 205.1,186.3 206.2,186.4 207.3,185.5 208.4,186.5 209.5,186.5 210.5,186.3 211.6,186.5 212.7,186.8 213.8,186.8 214.9,186.9 216,186.6 217.1,186.5 218.2,185.4 219.3,184.3 220.4,184.9 221.5,186.9 222.5,185.6 223.6,187.3 224.7,187.4 225.8,184.7 226.9,187.5 228,187.6 229.1,187.3 230.2,187.6 231.3,187.1 232.4,187.7 233.5,187.8 234.6,187.9 235.6,187.9 236.7,188 237.8,188.1 237.8,188.7 97,181.6" fill="url(#gd19)"/>
<polygon points="96.7,181.5 97.8,179.4 98.9,181.6 100,181.3 101.1,181.4 102.2,179.5 103.3,181 104.4,180.8 105.5,181.4 106.6,181.7 107.6,182.1 108.7,179.4 109.8,180.3 110.9,180.7 112,179.5 113.1,181.4 114.2,182.5 115.3,182.5 116.4,182.5 117.5,181.2 118.6,182.5 119.7,182.8 120.7,182.8 121.8,182.1 122.9,181.6 124,181.9 125.1,183 126.2,181.9 127.3,183.1 128.4,180.4 129.5,182.8 130.6,182 131.7,179.3 132.8,172.8 133.8,176.6 134.9,172.8 136,164.9 137.1,154.3 138.2,158.1 139.3,172.5 140.4,167.1 141.5,178.2 142.6,179.1 143.7,173.1 144.8,172.5 145.8,170.9 146.9,176.5 148,139.7 149.1,153 150.2,155.6 151.3,141.1 152.4,139.9 153.5,158.5 154.6,170.5 155.7,174.9 156.8,174.7 157.9,176.2 158.9,180.5 160,180.3 161.1,176.7 162.2,176.2 163.3,180.3 164.4,178.5 165.5,169 166.6,179.2 167.7,172.2 168.8,177.9 169.9,160.3 171,176.5 172,158.4 173.1,164.4 174.2,159.3 175.3,170.2 176.4,176.1 177.5,175.8 178.6,177.4 179.7,177.3 180.8,178.1 181.9,180 183,168.3 184.1,170.8 185.1,177.3 186.2,163.2 187.3,175.7 188.4,178.3 189.5,178.6 190.6,179.7 191.7,166.1 192.8,171.6 193.9,164.1 195,163.1 196.1,178 197.1,173.1 198.2,170.3 199.3,180.6 200.4,184.1 201.5,186.8 202.6,186.9 203.7,187 204.8,186.3 205.9,186.7 207,186.9 208.1,184.7 209.2,187.3 210.2,186 211.3,187.4 212.4,186.9 213.5,185.9 214.6,187.3 215.7,187.2 216.8,187.6 217.9,187.1 219,186.3 220.1,187.6 221.2,186.1 222.3,187.9 223.3,187.8 224.4,188 225.5,188.1 226.6,187.1 227.7,188.2 228.8,188.2 229.9,188.3 231,185.8 232.1,188.4 233.2,188.4 234.3,188.5 235.4,188.5 236.4,188.6 237.5,187.9 237.5,189.4 96.7,182.3" fill="url(#gd18)"/>
<polygon points="96.4,182.3 97.5,181.8 98.6,181.7 99.7,180.8 100.8,181.8 101.9,180.1 103,182.6 104.1,182.2 105.2,182.7 106.3,182.7 107.4,182.8 108.4,182.9 109.5,181.6 110.6,182.3 111.7,182.8 112.8,183.1 113.9,182.9 115,183.1 116.1,182.8 117.2,183.3 118.3,183.4 119.4,182.9 120.4,182.9 121.5,183.5 122.6,183.2 123.7,183.1 124.8,181.3 125.9,183.6 127,181.6 128.1,183.7 129.2,183.9 130.3,181.8 131.4,181.3 132.5,173.4 133.5,177.4 134.6,174.4 135.7,163.9 136.8,147.9 137.9,145 139,176.4 140.1,159.3 141.2,178.2 142.3,177.4 143.4,169.7 144.5,176.7 145.6,175 146.6,170.1 147.7,148.7 148.8,150.7 149.9,156.7 151,157 152.1,140.6 153.2,140.6 154.3,170 155.4,175.8 156.5,180 157.6,177 158.7,180.8 159.7,181.1 160.8,180.1 161.9,178 163,181.8 164.1,175.2 165.2,175.7 166.3,181.8 167.4,174.6 168.5,174.4 169.6,162.5 170.7,177.1 171.7,168.3 172.8,166 173.9,167.9 175,170 176.1,178.1 177.2,175.1 178.3,177.1 179.4,178.3 180.5,173.6 181.6,180.2 182.7,167 183.8,175.1 184.8,179.8 185.9,172.8 187,176.1 188.1,173.1 189.2,179.6 190.3,181.5 191.4,170.2 192.5,176.6 193.6,160.2 194.7,165.8 195.8,177.5 196.9,167.2 197.9,179 199,179.9 200.1,185.4 201.2,187.5 202.3,187 203.4,187.6 204.5,187.7 205.6,187.7 206.7,187.8 207.8,187.7 208.9,187.2 210,187.3 211,186 212.1,188.1 213.2,188.1 214.3,186.4 215.4,188.2 216.5,188.2 217.6,187.3 218.7,186.6 219.8,188.5 220.9,188.5 222,188.6 223,186.6 224.1,188.6 225.2,188.7 226.3,188.3 227.4,187.2 228.5,188.9 229.6,187.1 230.7,189 231.8,188.6 232.9,188.8 234,189 235.1,188.2 236.1,189.3 237.2,189.3 237.2,190 96.4,182.9" fill="url(#gd17)"/>
<polygon points="96.1,180.8 97.2,182.7 98.3,180.6 99.4,181.1 100.5,182.9 101.6,183.2 102.7,183.2 103.8,182.8 104.9,183.3 106,183.2 107.1,183.4 108.1,181.9 109.2,182.1 110.3,182 111.4,183.6 112.5,181.8 113.6,183.7 114.7,183.8 115.8,181.7 116.9,182.4 118,182.3 119.1,184 120.2,184.1 121.2,183.6 122.3,184.2 123.4,183.6 124.5,182.5 125.6,184.4 126.7,183.8 127.8,184.5 128.9,184.5 130,183.3 131.1,181.2 132.2,173.1 133.3,177.3 134.3,175.5 135.4,173.2 136.5,159.4 137.6,164.1 138.7,175.8 139.8,160.7 140.9,178.3 142,179.3 143.1,166.4 144.2,177.5 145.3,172 146.3,171 147.4,151.1 148.5,141.6 149.6,166 150.7,144.1 151.8,141.2 152.9,146.5 154,176.9 155.1,180.5 156.2,179 157.3,181.2 158.4,182.2 159.4,179.7 160.5,180.6 161.6,176 162.7,181.1 163.8,177.5 164.9,169.1 166,181.4 167.1,171.6 168.2,177.2 169.3,165.3 170.4,175.8 171.5,160 172.5,173.8 173.6,165.2 174.7,177.2 175.8,174.9 176.9,176.6 178,179.8 179.1,178.1 180.2,180.2 181.3,178.8 182.4,167.1 183.5,169.3 184.6,181.3 185.6,163.5 186.7,176.7 187.8,174.6 188.9,180.6 190,180.5 191.1,178.3 192.2,178.1 193.3,170.9 194.4,169 195.5,174.1 196.6,173.3 197.6,181.2 198.7,181.9 199.8,185.2 200.9,187.1 202,187 203.1,187.8 204.2,188.2 205.3,187.6 206.4,188.3 207.5,186.2 208.6,188.3 209.7,188.6 210.7,188.7 211.8,188.7 212.9,188.5 214,188.8 215.1,188.9 216.2,186.7 217.3,187.1 218.4,188.6 219.5,189 220.6,189.2 221.7,188.4 222.8,187.6 223.8,189.3 224.9,189.4 226,189.5 227.1,189.3 228.2,189.6 229.3,187.5 230.4,188.2 231.5,189.3 232.6,187.5 233.7,189.8 234.8,187.3 235.8,190 236.9,189 236.9,190.7 96.1,183.6" fill="url(#gd16)"/>
<polygon points="95.8,183.6 96.9,181.4 98,183.7 99.1,182.9 100.2,183.8 101.3,182.2 102.4,183.7 103.5,181.7 104.6,183.6 105.7,184 106.8,181.2 107.9,184.1 108.9,184.2 110,184.3 111.1,183.3 112.2,183.9 113.3,184.1 114.4,184.3 115.5,182.2 116.6,184.1 117.7,184.6 118.8,183.1 119.9,184.5 120.9,184.8 122,184.7 123.1,184.8 124.2,182.4 125.3,185 126.4,185 127.5,185.1 128.6,185.1 129.7,185.1 130.8,182.7 131.9,169.8 133,179.6 134,179.3 135.1,170.2 136.2,158.9 137.3,154.5 138.4,172.1 139.5,168.3 140.6,173.7 141.7,176.8 142.8,171.1 143.9,176 145,172.2 146.1,175.9 147.1,141.7 148.2,141.7 149.3,171.6 150.4,149.7 151.5,141.9 152.6,141.9 153.7,170.5 154.8,177.3 155.9,176.7 157,176.4 158.1,180.4 159.1,179.9 160.2,181.4 161.3,173.6 162.4,181.4 163.5,178.3 164.6,166.9 165.7,184.2 166.8,177.4 167.9,174.2 169,175.9 170.1,176 171.2,170.6 172.2,163.6 173.3,169 174.4,177.8 175.5,174.5 176.6,173.3 177.7,182.2 178.8,182.1 179.9,175.2 181,179.2 182.1,172.9 183.2,169 184.3,182.6 185.3,176.7 186.4,177.9 187.5,176.7 188.6,182.7 189.7,180.7 190.8,174.6 191.9,178.5 193,157.7 194.1,166.7 195.2,174.1 196.3,171.1 197.4,173.9 198.4,182.3 199.5,187.3 200.6,187.9 201.7,186 202.8,189 203.9,188.2 205,189.1 206.1,189.1 207.2,189.2 208.3,189.2 209.4,189.3 210.4,189.3 211.5,187.2 212.6,189.2 213.7,188.8 214.8,187.2 215.9,189.6 217,187.5 218.1,189.5 219.2,189.8 220.3,189.3 221.4,188 222.5,189.8 223.5,189.8 224.6,189.4 225.7,189.2 226.8,189.9 227.9,188.4 229,190 230.1,188.1 231.2,190.4 232.3,190.3 233.4,190.4 234.5,190.4 235.6,187.7 236.6,190.5 236.6,191.3 95.8,184.2" fill="url(#gd15)"/>
<polygon points="95.5,183.5 96.6,184.3 97.7,184.3 98.8,183.8 99.9,183.6 101,183.7 102.1,182.1 103.2,184.6 104.3,184.6 105.4,182.8 106.5,183.3 107.6,183.7 108.6,184.8 109.7,184.9 110.8,185 111.9,185 113,184.7 114.1,185.1 115.2,184.3 116.3,185.3 117.4,184.6 118.5,185.4 119.6,185.1 120.7,185.4 121.7,185.5 122.8,183.3 123.9,185.1 125,185.3 126.1,185.7 127.2,183 128.3,185.6 129.4,183.9 130.5,182.2 131.6,178.2 132.7,178.3 133.7,178.9 134.8,167 135.9,152.4 137,144.1 138.1,174.2 139.2,167.6 140.3,177.8 141.4,175.3 142.5,169.8 143.6,179.1 144.7,176.5 145.8,171.7 146.8,151.1 147.9,157.3 149,163.7 150.1,152.6 151.2,163.6 152.3,153.5 153.4,174.3 154.5,180.3 155.6,178.2 156.7,176.8 157.8,183.9 158.9,183.6 159.9,183.6 161,181.5 162.1,180.9 163.2,176.7 164.3,171.2 165.4,183 166.5,177.5 167.6,178.4 168.7,167.6 169.8,175.5 170.9,171.3 172,171.5 173,171.2 174.1,172.6 175.2,175.8 176.3,176.5 177.4,179.1 178.5,181.6 179.6,176.9 180.7,179.7 181.8,170.3 182.9,173.7 184,179.5 185,169.8 186.1,183.3 187.2,175.1 188.3,180 189.4,180.8 190.5,175.8 191.6,180.1 192.7,164.9 193.8,174.2 194.9,177.2 196,167.8 197.1,175.4 198.1,180.4 199.2,186.2 200.3,189.4 201.4,188.2 202.5,189.6 203.6,188.9 204.7,188.5 205.8,188.8 206.9,189.8 208,189.8 209.1,188.4 210.2,190 211.2,190 212.3,190.1 213.4,189.9 214.5,190.2 215.6,189.3 216.7,190.3 217.8,190 218.9,190 220,190.5 221.1,190.3 222.2,190.6 223.3,190.6 224.3,189.6 225.4,188.7 226.5,190.8 227.6,190.1 228.7,190.4 229.8,191 230.9,191 232,191.1 233.1,190.4 234.2,189.4 235.3,190.8 236.3,191.3 236.3,192 95.5,184.9" fill="url(#gd14)"/>
<polygon points="95.3,184.9 96.3,183.7 97.4,185 98.5,184.8 99.6,182.5 100.7,185.1 101.8,185.2 102.9,183.6 104,185.2 105.1,184.4 106.2,184.7 107.3,184.6 108.3,185.5 109.4,185.5 110.5,185.6 111.6,183.4 112.7,184.1 113.8,185.8 114.9,185.9 116,185.9 117.1,185.6 118.2,186 119.3,184.7 120.4,185.7 121.4,184.6 122.5,184.8 123.6,186.1 124.7,184.5 125.8,186.4 126.9,186.3 128,186.5 129.1,183.7 130.2,183.6 131.3,172.8 132.4,180.4 133.5,176.9 134.5,163.2 135.6,167.2 136.7,146.6 137.8,180 138.9,172 140,180.1 141.1,182.2 142.2,176.5 143.3,179.6 144.4,178.3 145.5,179.5 146.6,143 147.6,160.1 148.7,165.4 149.8,150.6 150.9,158.9 152,148 153.1,171.5 154.2,179.7 155.3,181.7 156.4,180.4 157.5,180.5 158.6,181.2 159.6,182.4 160.7,180.8 161.8,183 162.9,178.5 164,176 165.1,184.6 166.2,172 167.3,175.7 168.4,163.6 169.5,182.5 170.6,168.2 171.7,169.8 172.7,171 173.8,175.9 174.9,173.2 176,176.4 177.1,183.5 178.2,183.2 179.3,178 180.4,181.6 181.5,178.7 182.6,172.3 183.7,177.2 184.8,170.8 185.8,179.2 186.9,176.2 188,179.2 189.1,185.1 190.2,180.7 191.3,174.8 192.4,164.1 193.5,164.9 194.6,177.6 195.7,179.7 196.8,182.4 197.9,185.2 198.9,188.4 200,190.1 201.1,189 202.2,190.3 203.3,188.2 204.4,190.4 205.5,190.4 206.6,190.2 207.7,188.5 208.8,189.2 209.9,190 210.9,190.4 212,190.7 213.1,190 214.2,190.4 215.3,189.4 216.4,191 217.5,191 218.6,191.1 219.7,191.1 220.8,190.6 221.9,190.1 223,189.9 224,190.5 225.1,190.6 226.2,191.5 227.3,191.5 228.4,191.6 229.5,191.4 230.6,191.7 231.7,191.7 232.8,190.6 233.9,190.5 235,191.2 236.1,192 236.1,192.6 95.3,185.5" fill="url(#gd13)"/>
<polygon points="95,185.5 96,183.3 97.1,184.2 98.2,183.2 99.3,185.6 100.4,185.6 101.5,185.1 102.6,185.9 103.7,185.5 104.8,185.5 105.9,185.9 107,186 108.1,185.8 109.1,186.2 110.2,183.6 111.3,184.6 112.4,186.4 113.5,186.4 114.6,185.6 115.7,186.6 116.8,186.6 117.9,186.7 119,184.6 120.1,184.1 121.2,185.6 122.2,186.3 123.3,185.4 124.4,187 125.5,185.6 126.6,187.1 127.7,187.1 128.8,187.1 129.9,184 131,177.5 132.1,183.7 133.2,181 134.2,169.8 135.3,166.8 136.4,157 137.5,180 138.6,167.8 139.7,180.3 140.8,181.6 141.9,178.4 143,179.2 144.1,178.2 145.2,177.4 146.3,154.4 147.3,158.1 148.4,174.1 149.5,160.4 150.6,167.2 151.7,153.2 152.8,176.3 153.9,180.8 155,183.4 156.1,182 157.2,183.3 158.3,181.9 159.4,182.3 160.4,179.3 161.5,184.9 162.6,177.9 163.7,177.2 164.8,185 165.9,175.6 167,177.8 168.1,175.8 169.2,181.6 170.3,175 171.4,170 172.5,165.3 173.5,177.6 174.6,179.7 175.7,176.2 176.8,183.6 177.9,183.7 179,179.9 180.1,179.6 181.2,177.3 182.3,181.9 183.4,184 184.5,175.8 185.5,184 186.6,178.6 187.7,185.3 188.8,182 189.9,177.4 191,174.3 192.1,164.6 193.2,179.5 194.3,179.3 195.4,172.9 196.5,182.5 197.6,184.8 198.6,186.6 199.7,190.8 200.8,190.1 201.9,190.9 203,190.6 204.1,188.8 205.2,190.9 206.3,190.4 207.4,191.2 208.5,190.9 209.6,191.2 210.7,189.9 211.7,191.2 212.8,191.5 213.9,191.3 215,191.5 216.1,191.6 217.2,190.3 218.3,191.7 219.4,191.6 220.5,191.3 221.6,190.3 222.7,191.9 223.7,189.1 224.8,192.1 225.9,191.8 227,192 228.1,191 229.2,192.3 230.3,192.1 231.4,191.6 232.5,190.9 233.6,192.4 234.7,191.4 235.8,192.6 235.8,193.3 95,186.2" fill="url(#gd12)"/>
<polygon points="94.7,186.1 95.8,184.1 96.8,185.6 97.9,186.3 99,183.7 100.1,186 101.2,186.4 102.3,186.5 103.4,186.6 104.5,185.7 105.6,184.9 106.7,186.4 107.8,184.6 108.8,185.4 109.9,186.4 111,186.1 112.1,184.8 113.2,184.8 114.3,187.1 115.4,185.4 116.5,187.3 117.6,185.9 118.7,186.5 119.8,187.2 120.9,187.5 121.9,184.8 123,186 124.1,187.5 125.2,187.6 126.3,187.3 127.4,186.1 128.5,186.2 129.6,184.6 130.7,180.3 131.8,182.8 132.9,180.9 134,169.4 135,171.1 136.1,166.6 137.2,180.8 138.3,168.6 139.4,182.5 140.5,184.6 141.6,178.5 142.7,182 143.8,179.7 144.9,180.4 146,148.5 147,169.4 148.1,178 149.2,158.7 150.3,160 151.4,168.3 152.5,182.1 153.6,183 154.7,185.3 155.8,181.6 156.9,186.2 158,183.3 159.1,183.1 160.1,181.6 161.2,186 162.3,179.5 163.4,180.1 164.5,186 165.6,178.2 166.7,180 167.8,178.8 168.9,181.7 170,168.7 171.1,175 172.2,175.8 173.2,180.9 174.3,178.7 175.4,181.1 176.5,182.4 177.6,185.4 178.7,182.8 179.8,181.9 180.9,179 182,179.3 183.1,184.2 184.2,175 185.3,183.5 186.3,182.6 187.4,184.4 188.5,183.7 189.6,184.5 190.7,180.2 191.8,171 192.9,172.7 194,182.5 195.1,177.3 196.2,180.9 197.3,185.3 198.3,188.6 199.4,191.4 200.5,191.5 201.6,191.6 202.7,191.6 203.8,191.6 204.9,191.3 206,191.7 207.1,191.7 208.2,191.9 209.3,191.9 210.4,190.8 211.4,192.1 212.5,190.7 213.6,189.8 214.7,192.1 215.8,192.2 216.9,192.3 218,191 219.1,191.7 220.2,190.6 221.3,191.3 222.4,192.6 223.5,192.7 224.5,192.7 225.6,191.7 226.7,192.7 227.8,192.7 228.9,192.9 230,192.9 231.1,193 232.2,192.8 233.3,193.1 234.4,193.2 235.5,193 235.5,193.9 94.7,186.8" fill="url(#gd11)"/>
<polygon points="94.4,186.8 95.5,186.7 96.5,186.9 97.6,187 98.7,185.8 99.8,187.1 100.9,186.8 102,187.2 103.1,187.2 104.2,187.3 105.3,187.3 106.4,185.2 107.5,187.5 108.6,187.5 109.6,187.6 110.7,187.6 111.8,187.7 112.9,187.3 114,187.7 115.1,187.8 116.2,187.5 117.3,187.9 118.4,188 119.5,188.1 120.6,188.1 121.6,185.9 122.7,186.3 123.8,187.1 124.9,188.3 126,188.4 127.1,188.2 128.2,187 129.3,186.8 130.4,180.8 131.5,183.7 132.6,182.5 133.7,171.5 134.7,163.8 135.8,171.3 136.9,179.9 138,176 139.1,181.5 140.2,182.7 141.3,178.5 142.4,184.9 143.5,182.4 144.6,178.6 145.7,159.6 146.8,173.6 147.8,171.6 148.9,169.4 150,156.5 151.1,162.1 152.2,179.1 153.3,183.7 154.4,183.1 155.5,184.8 156.6,185.1 157.7,184.6 158.8,187.2 159.9,180.3 160.9,185.3 162,182.6 163.1,180.1 164.2,187.3 165.3,182.8 166.4,183 167.5,182.6 168.6,185.8 169.7,174.3 170.8,179.6 171.9,177 172.9,178.1 174,185.6 175.1,180 176.2,185.4 177.3,185.2 178.4,186.4 179.5,184 180.6,184 181.7,180.5 182.8,184.7 183.9,178.2 185,187.4 186,186.1 187.1,185.1 188.2,186.4 189.3,183.9 190.4,180.5 191.5,175 192.6,178.9 193.7,182.5 194.8,180.5 195.9,182.4 197,188.6 198.1,190.5 199.1,191.4 200.2,192.2 201.3,191.5 202.4,190.6 203.5,191.9 204.6,192.3 205.7,191.4 206.8,192.5 207.9,192.4 209,191.2 210.1,192.1 211.2,192.5 212.2,192.6 213.3,192.7 214.4,192.9 215.5,192.3 216.6,192.2 217.7,192.9 218.8,190.3 219.9,192.8 221,192.2 222.1,192.2 223.2,193.3 224.2,193.4 225.3,193.4 226.4,193.4 227.5,193.5 228.6,191.5 229.7,193.6 230.8,193.7 231.9,193.8 233,193.7 234.1,193.7 235.2,192 235.2,194.6 94.4,187.5" fill="url(#gd10)"/>
<polygon points="94.1,187.2 95.2,187.2 96.2,187.1 97.3,186.5 98.4,186.6 99.5,187.4 100.6,186.3 101.7,186.2 102.8,187.2 103.9,187.9 105,188 106.1,186.5 107.2,186.5 108.3,188.2 109.3,186 110.4,187.7 111.5,188.2 112.6,185.8 113.7,188.5 114.8,188.5 115.9,188.2 117,188.6 118.1,188.4 119.2,188.7 120.3,188.4 121.4,188.6 122.4,186.7 123.5,188.4 124.6,189 125.7,188.7 126.8,188.8 127.9,187.1 129,186.5 130.1,179.1 131.2,186.6 132.3,185.7 133.4,178.3 134.5,168.6 135.5,166 136.6,184.9 137.7,175.1 138.8,184.5 139.9,182.7 141,179.4 142.1,186.8 143.2,180.5 144.3,181.4 145.4,167 146.5,173.8 147.5,180.4 148.6,167.4 149.7,163.1 150.8,163.9 151.9,180.2 153,185.8 154.1,184.8 155.2,185.6 156.3,186.9 157.4,187.5 158.5,187.6 159.6,185.8 160.6,185.8 161.7,186.2 162.8,181.6 163.9,188.7 165,182.5 166.1,184.2 167.2,178.1 168.3,187.6 169.4,176.4 170.5,180.1 171.6,179 172.7,183.3 173.7,182.9 174.8,182.1 175.9,188.2 177,186.9 178.1,185 179.2,185.2 180.3,181.2 181.4,186.2 182.5,185.9 183.6,178.1 184.7,186.8 185.8,188.4 186.8,186 187.9,187.2 189,183.7 190.1,187.5 191.2,179.5 192.3,177.2 193.4,187.2 194.5,183.1 195.6,186.3 196.7,188 197.8,191.6 198.8,192.7 199.9,192.7 201,192.9 202.1,192.5 203.2,191.1 204.3,192.8 205.4,193.1 206.5,192.4 207.6,191.5 208.7,193.2 209.8,192.7 210.9,193.2 211.9,193.4 213,191.8 214.1,190.8 215.2,191.3 216.3,193.6 217.4,190.8 218.5,193.1 219.6,192.8 220.7,193.9 221.8,192.5 222.9,193.9 224,192.8 225,194.1 226.1,194.1 227.2,194.2 228.3,194.2 229.4,193.7 230.5,192 231.6,193.3 232.7,193.1 233.8,194.5 234.9,192.1 234.9,195.2 94.1,188.1" fill="url(#gd9)"/>
<polygon points="93.8,185.2 94.9,187.8 96,188.2 97,188.2 98.1,187.9 99.2,188.4 100.3,188.4 101.4,187.8 102.5,186.4 103.6,186.1 104.7,188.7 105.8,188.6 106.9,188.5 108,186.8 109.1,188.8 110.1,188.9 111.2,189 112.3,188.4 113.4,188.9 114.5,189.2 115.6,189 116.7,189.3 117.8,189.3 118.9,188.2 120,189.4 121.1,189.2 122.1,187.4 123.2,189.5 124.3,186.7 125.4,187.6 126.5,187.7 127.6,189.7 128.7,187.8 129.8,185 130.9,186.4 132,184.7 133.1,180.9 134.2,176 135.2,174 136.3,182.8 137.4,174.2 138.5,185 139.6,184 140.7,184.6 141.8,185 142.9,184.3 144,186 145.1,168.8 146.2,171.3 147.3,183.6 148.3,180.2 149.4,168.7 150.5,177.8 151.6,183.7 152.7,187.4 153.8,185.4 154.9,186 156,188.8 157.1,188.5 158.2,187.5 159.3,186.3 160.4,189.3 161.4,187.5 162.5,185.2 163.6,189 164.7,185.2 165.8,185.2 166.9,185.9 168,187 169.1,182.7 170.2,183.5 171.3,181.5 172.4,185.7 173.4,185.6 174.5,186.1 175.6,187.7 176.7,188.7 177.8,187 178.9,186.9 180,181.9 181.1,184.9 182.2,188.7 183.3,186.1 184.4,188.7 185.5,187.3 186.5,185.9 187.6,185.9 188.7,184.2 189.8,183.4 190.9,182.4 192,183.6 193.1,188.4 194.2,183.5 195.3,188.2 196.4,190.7 197.5,192.4 198.6,191.3 199.6,191.1 200.7,193.2 201.8,193.6 202.9,193.6 204,193.7 205.1,193.7 206.2,193.4 207.3,193.8 208.4,193.6 209.5,193.8 210.6,194 211.6,191.9 212.7,193.1 213.8,194.1 214.9,194.2 216,194.3 217.1,193.4 218.2,194.4 219.3,194.4 220.4,194.4 221.5,192.8 222.6,194.6 223.7,194.7 224.7,193.8 225.8,194.8 226.9,193.2 228,194.9 229.1,194.9 230.2,192.8 231.3,195 232.4,194.8 233.5,195.2 234.6,195.1 234.6,195.9 93.8,188.8" fill="url(#gd8)"/>
<polygon points="93.5,188.8 94.6,187.9 95.7,187.7 96.7,188.3 97.8,189 98.9,187.3 100,189.1 101.1,189.1 102.2,189.1 103.3,186.7 104.4,189.3 105.5,188.8 106.6,189.4 107.7,189.3 108.8,187.4 109.8,189.6 110.9,189.7 112,189.1 113.1,189.7 114.2,189.8 115.3,189.8 116.4,189.9 117.5,190 118.6,189.9 119.7,188.8 120.8,190.1 121.9,189.8 122.9,190.3 124,190.2 125.1,187.5 126.2,190.4 127.3,189.5 128.4,186.6 129.5,186 130.6,188 131.7,187.9 132.8,183.3 133.9,179.9 135,178.3 136,183.1 137.1,182.4 138.2,187.8 139.3,188.8 140.4,184.6 141.5,187.6 142.6,186.3 143.7,188.2 144.8,171.2 145.9,175.4 147,185.9 148,181.1 149.1,181.7 150.2,179.4 151.3,186.4 152.4,188.5 153.5,189.2 154.6,187.5 155.7,189.8 156.8,187.8 157.9,189.1 159,187.3 160.1,189.2 161.1,188.1 162.2,189 163.3,190.1 164.4,188.8 165.5,185.8 166.6,182.6 167.7,188.2 168.8,182.9 169.9,182.3 171,181.2 172.1,185.5 173.2,185.3 174.2,186.1 175.3,190.7 176.4,189.2 177.5,187.7 178.6,189.1 179.7,188.3 180.8,189.1 181.9,190.4 183,186.8 184.1,189.6 185.2,189.4 186.2,189.6 187.3,190.4 188.4,189.2 189.5,186.3 190.6,187.6 191.7,187.8 192.8,188.7 193.9,186.5 195,190.1 196.1,190.4 197.2,193.2 198.3,194 199.3,192.5 200.4,194.2 201.5,193.1 202.6,193.8 203.7,192.8 204.8,194.4 205.9,193.6 207,194.2 208.1,194.2 209.2,194.6 210.3,192.4 211.4,193.6 212.4,194.8 213.5,192.2 214.6,193.9 215.7,194.8 216.8,194.7 217.9,195 219,194.4 220.1,195.2 221.2,195.2 222.3,195.3 223.4,194.1 224.5,195.4 225.5,193 226.6,192.9 227.7,195.5 228.8,195.6 229.9,194.6 231,194.4 232.1,195.7 233.2,194.1 234.3,195.9 234.3,196.5 93.5,189.4" fill="url(#gd7)"/>
<polygon points="93.2,189.3 94.3,189.5 95.4,189.5 96.5,187.3 97.5,189.1 98.6,189.6 99.7,189.7 100.8,188.7 101.9,189.8 103,189.9 104.1,189.3 105.2,189.4 106.3,189.2 107.4,189.2 108.5,190.2 109.5,190.2 110.6,187.4 111.7,190.3 112.8,189.1 113.9,187.8 115,189.6 116.1,190.6 117.2,190.2 118.3,190.4 119.4,190.7 120.5,190.8 121.6,190.5 122.6,190.9 123.7,191 124.8,190.9 125.9,189.1 127,191 128.1,190.4 129.2,188.7 130.3,189.5 131.4,189.5 132.5,182.4 133.6,183.9 134.7,179.4 135.7,186.2 136.8,185.8 137.9,190 139,189.7 140.1,185.8 141.2,188.8 142.3,188.5 143.4,189.3 144.5,178.6 145.6,184.2 146.7,183 147.8,183.5 148.8,185.2 149.9,185 151,188.9 152.1,190.7 153.2,189 154.3,190.4 155.4,190.1 156.5,190.9 157.6,190.2 158.7,187.4 159.8,191.4 160.8,189.7 161.9,188 163,191.4 164.1,188.9 165.2,189.7 166.3,188.6 167.4,189.3 168.5,188.8 169.6,186.2 170.7,188.5 171.8,187.9 172.9,191 173.9,188.7 175,191.2 176.1,191 177.2,189.8 178.3,190.7 179.4,189.9 180.5,189.2 181.6,192.3 182.7,187.1 183.8,191.4 184.9,191 186,191.4 187,191.8 188.1,188 189.2,191.4 190.3,187.1 191.4,189.6 192.5,191.9 193.6,187.9 194.7,190.1 195.8,192.7 196.9,191.7 198,194.2 199.1,194.7 200.1,194.8 201.2,194.9 202.3,192.5 203.4,194.9 204.5,195 205.6,194.4 206.7,193.1 207.8,195.2 208.9,194.1 210,195.3 211.1,195.4 212.1,195.4 213.2,195.5 214.3,195.5 215.4,193.9 216.5,195.6 217.6,195.7 218.7,195.7 219.8,195.8 220.9,195.9 222,195.7 223.1,195.9 224.2,196 225.2,196 226.3,196.1 227.4,196.2 228.5,194.9 229.6,196.3 230.7,195.9 231.8,194.6 232.9,194.2 234,196.4 234,197.2 93.2,190.1" fill="url(#gd6)"/>
<polygon points="92.9,190.1 94,190.1 95.1,189.3 96.2,188.7 97.2,190.3 98.3,187.9 99.4,188.3 100.5,190.4 101.6,190.5 102.7,190.5 103.8,190.2 104.9,190.7 106,190.7 107.1,190.6 108.2,190.7 109.3,188.3 110.3,190.3 111.4,190.2 112.5,189.1 113.6,189.4 114.7,191.1 115.8,191 116.9,191.3 118,191.3 119.1,191.4 120.2,191.5 121.3,191.5 122.4,190.7 123.4,191.6 124.5,191.6 125.6,191.7 126.7,191.7 127.8,190.9 128.9,188.7 130,190.4 131.1,189.7 132.2,184.3 133.3,185.1 134.4,183.5 135.4,189.4 136.5,184.8 137.6,190.8 138.7,190.8 139.8,190.2 140.9,190.2 142,189.9 143.1,190.5 144.2,182.4 145.3,187.6 146.4,185.5 147.5,187.3 148.5,184.7 149.6,185.4 150.7,188.8 151.8,190.7 152.9,192 154,191.7 155.1,191.1 156.2,191.7 157.3,191.6 158.4,191.5 159.5,190 160.6,189.7 161.6,191 162.7,192.2 163.8,190.2 164.9,190.1 166,187.3 167.1,192.4 168.2,188 169.3,188.9 170.4,189.1 171.5,190.5 172.6,190.4 173.7,189.3 174.7,189.8 175.8,190.8 176.9,191.1 178,192.7 179.1,189 180.2,189.1 181.3,192.8 182.4,190.1 183.5,193.1 184.6,190.4 185.7,193.3 186.7,192.8 187.8,190.2 188.9,191.8 190,188.8 191.1,190.6 192.2,191.9 193.3,189.8 194.4,191.4 195.5,193 196.6,193.9 197.7,194.6 198.8,194.9 199.8,195.4 200.9,193 202,194.8 203.1,195.6 204.2,193.9 205.3,195.7 206.4,194.7 207.5,195.8 208.6,195.9 209.7,195.9 210.8,196 211.9,196 212.9,193.6 214,194.1 215.1,196.2 216.2,194.8 217.3,196.2 218.4,196.4 219.5,196.1 220.6,195.3 221.7,195.1 222.8,196.6 223.9,194.5 224.9,195.4 226,196.8 227.1,196.8 228.2,196.9 229.3,196.7 230.4,195.6 231.5,196.9 232.6,197.1 233.7,194.5 233.7,197.8 92.9,190.7" fill="url(#gd5)"/>
<polygon points="92.6,190.7 93.7,190.6 94.8,190.7 95.9,189.3 97,190.7 98,191 99.1,191 100.2,189.5 101.3,191.2 102.4,191.2 103.5,190.2 104.6,189.6 105.7,191.4 106.8,190 107.9,191.1 109,191.3 110,191.6 111.1,190.2 112.2,190.4 113.3,189.3 114.4,191.8 115.5,191.9 116.6,191.9 117.7,191.4 118.8,191.5 119.9,192.1 121,191.3 122.1,192.2 123.1,189.4 124.2,192.2 125.3,191.6 126.4,189.8 127.5,190.3 128.6,190.7 129.7,190.8 130.8,191.3 131.9,189.4 133,189.6 134.1,187.8 135.2,190.8 136.2,190.5 137.3,191.8 138.4,189.2 139.5,191.6 140.6,191.6 141.7,190.9 142.8,191.1 143.9,184.2 145,188.4 146.1,191 147.2,189.1 148.3,187.3 149.3,188.4 150.4,191 151.5,193 152.6,192.1 153.7,192.9 154.8,190.4 155.9,190.3 157,193 158.1,192.4 159.2,192.8 160.3,192.4 161.3,191.6 162.4,193.4 163.5,192.1 164.6,193.2 165.7,191.5 166.8,192.6 167.9,189.5 169,191.9 170.1,192.7 171.2,192.9 172.3,192.1 173.4,192.3 174.4,192.1 175.5,192.3 176.6,190.2 177.7,191.2 178.8,191.9 179.9,191 181,193.8 182.1,192.9 183.2,194.4 184.3,192.3 185.4,194.5 186.5,194 187.5,193 188.6,192 189.7,190.9 190.8,191.7 191.9,194.4 193,190.7 194.1,192.9 195.2,194.4 196.3,193.7 197.4,195.3 198.5,196 199.5,196.1 200.6,195.4 201.7,196.1 202.8,196.3 203.9,195.8 205,196.1 206.1,196.4 207.2,196.5 208.3,196.5 209.4,193.7 210.5,196.6 211.6,196.7 212.6,196.8 213.7,194.6 214.8,194.8 215.9,196.8 217,197 218.1,197.1 219.2,196.5 220.3,197 221.4,197.2 222.5,197.2 223.6,197.3 224.7,195.7 225.7,194.9 226.8,195.2 227.9,197 229,197.6 230.1,197.6 231.2,196.3 232.3,197.8 233.4,197.6 233.4,198.5 92.6,191.4" fill="url(#gd4)"/>
<polygon points="92.3,188.9 93.4,190.1 94.5,191.5 95.6,188.9 96.7,191.6 97.7,191.7 98.8,190.6 99.9,191.1 101,191.3 102.1,190.5 103.2,191.9 104.3,190.9 105.4,191.3 106.5,190.1 107.6,192.2 108.7,192.2 109.8,192.3 110.8,192.3 111.9,192.4 113,192.4 114.1,189.6 115.2,192.4 116.3,191.8 117.4,192.2 118.5,190.5 119.6,191 120.7,192.1 121.8,192.8 122.9,192.5 123.9,193 125,192.6 126.1,193.1 127.2,192.3 128.3,192.3 129.4,190.8 130.5,191.1 131.6,191.4 132.7,191.2 133.8,191.3 134.9,192.3 135.9,191.5 137,192.8 138.1,192.6 139.2,192.5 140.3,192.7 141.4,193.1 142.5,191 143.6,190.8 144.7,191.5 145.8,192.9 146.9,191.1 148,190.2 149,189.4 150.1,193.1 151.2,193.6 152.3,192.6 153.4,192.8 154.5,193.9 155.6,194.2 156.7,194 157.8,191.3 158.9,193.9 160,193.9 161.1,191.7 162.1,192.8 163.2,193.5 164.3,193.3 165.4,191.3 166.5,194.3 167.6,190.6 168.7,193.6 169.8,193.2 170.9,193 172,194 173.1,193.4 174.1,194.8 175.2,194.7 176.3,194.4 177.4,194 178.5,194.4 179.6,191.8 180.7,194.4 181.8,194 182.9,195.3 184,194.8 185.1,195.2 186.2,195.6 187.2,194.6 188.3,194.3 189.4,193.4 190.5,195.2 191.6,194.4 192.7,191.9 193.8,195.4 194.9,196 196,196.3 197.1,196.3 198.2,195.1 199.3,194.9 200.3,194 201.4,196.1 202.5,196.9 203.6,195.2 204.7,196.9 205.8,197.1 206.9,196.6 208,197.2 209.1,197.3 210.2,197.3 211.3,197.4 212.4,197.4 213.4,196.7 214.5,197.5 215.6,197.3 216.7,197.6 217.8,195.6 218.9,197.8 220,195.8 221.1,197.9 222.2,197.9 223.3,196.6 224.4,198 225.4,198.1 226.5,196.3 227.6,195.7 228.7,195.4 229.8,197.1 230.9,196.6 232,197.5 233.1,196.2 233.1,199.1 92.3,192" fill="url(#gd3)"/>
<polygon points="92,191.9 93.1,192.1 94.2,192.1 95.3,189.3 96.4,192.1 97.4,192.3 98.5,192.3 99.6,192.4 100.7,192.5 101.8,189.8 102.9,192.6 104,190.4 105.1,192.7 106.2,190.4 107.3,192.6 108.4,192.8 109.5,192.9 110.5,192.9 111.6,192.8 112.7,193.1 113.8,193 114.9,193.2 116,192.6 117.1,193.2 118.2,192.3 119.3,193.4 120.4,192 121.5,191.7 122.6,191.7 123.6,192 124.7,193.7 125.8,192.7 126.9,193.7 128,193.4 129.1,193.7 130.2,193.5 131.3,192.9 132.4,193.5 133.5,191.6 134.6,193.3 135.7,193.1 136.7,194 137.8,194.1 138.9,194 140,194.2 141.1,192.6 142.2,194.3 143.3,192.6 144.4,193.6 145.5,191.5 146.6,194 147.7,193.9 148.7,193.8 149.8,194.4 150.9,194.6 152,191.9 153.1,194.7 154.2,195 155.3,192.8 156.4,194.7 157.5,192.5 158.6,195.3 159.7,195.2 160.8,194.5 161.8,195.3 162.9,195.2 164,195.4 165.1,195.3 166.2,195.2 167.3,195.1 168.4,194.5 169.5,195.1 170.6,195.4 171.7,192.9 172.8,195.3 173.9,195.9 174.9,193.4 176,195.5 177.1,195.7 178.2,195.9 179.3,193.3 180.4,196.3 181.5,194 182.6,194.9 183.7,195.4 184.8,196.1 185.9,196.6 187,196.6 188,194.9 189.1,195.7 190.2,196.5 191.3,195.3 192.4,195.7 193.5,194.2 194.6,196.9 195.7,197.2 196.8,197.3 197.9,197.3 199,197.4 200,196.2 201.1,197.5 202.2,197.1 203.3,197.6 204.4,197.1 205.5,197.5 206.6,196 207.7,197.8 208.8,197.7 209.9,198 211,195.1 212.1,197.7 213.1,197.5 214.2,198.1 215.3,197.2 216.4,196.1 217.5,197.3 218.6,198.4 219.7,197.4 220.8,198.5 221.9,198.6 223,198.6 224.1,198.7 225.2,196.3 226.2,198.6 227.3,198.9 228.4,198 229.5,197.2 230.6,197.8 231.7,198.9 232.8,199.1 232.8,199.8 92,192.7" fill="url(#gd2)"/>
<polygon points="91.7,191.8 92.8,192.7 93.9,192.8 95,191.2 96.1,192.9 97.2,192.9 98.2,192.9 99.3,192.7 100.4,191.9 101.5,193.1 102.6,192.2 103.7,193.3 104.8,193.2 105.9,192.7 107,193.4 108.1,191.4 109.2,191.6 110.3,192.6 111.3,193.7 112.4,193.7 113.5,192.3 114.6,193.5 115.7,191.8 116.8,192.6 117.9,194 119,194 120.1,194.1 121.2,194.2 122.3,194.2 123.3,194.3 124.4,193.3 125.5,194.1 126.6,193.6 127.7,194.2 128.8,194.5 129.9,194.6 131,194.6 132.1,192.9 133.2,194.6 134.3,194.8 135.4,194.9 136.4,193 137.5,194.9 138.6,192.4 139.7,194.9 140.8,192.7 141.9,193.2 143,195.3 144.1,194 145.2,195.4 146.3,195.2 147.4,195.5 148.5,195.5 149.5,194.9 150.6,195 151.7,194.9 152.8,195.5 153.9,195.4 155,195.9 156.1,195.4 157.2,196 158.3,194.6 159.4,196 160.5,193.6 161.6,196.2 162.6,196.2 163.7,196.3 164.8,196.3 165.9,195.3 167,195.6 168.1,196.3 169.2,195.2 170.3,196.6 171.4,196.7 172.5,196.2 173.6,194.8 174.6,196.9 175.7,196.9 176.8,197 177.9,194.4 179,197.1 180.1,196.4 181.2,194.5 182.3,197.3 183.4,196.9 184.5,196.2 185.6,197.4 186.7,195.9 187.7,196.7 188.8,195.9 189.9,197.1 191,197.6 192.1,197 193.2,197.8 194.3,197.9 195.4,197.9 196.5,195.6 197.6,197.9 198.7,196.5 199.8,196.7 200.8,196.5 201.9,197.6 203,198.3 204.1,198.3 205.2,197.7 206.3,198.4 207.4,198 208.5,198.4 209.6,197.7 210.7,198.7 211.8,198 212.8,198.8 213.9,196 215,198.9 216.1,198.9 217.2,199 218.3,196.2 219.4,199 220.5,199 221.6,198.8 222.7,198.5 223.8,198.6 224.9,199.4 225.9,199.4 227,197.1 228.1,199.6 229.2,199.6 230.3,198 231.4,199.3 232.5,199.7 232.5,200.4 91.7,193.3" fill="url(#gd1)"/>
<polygon points="91.4,193.3 92.5,193.3 93.6,193.4 94.7,193.2 95.8,193.5 96.9,193.5 97.9,193.7 99,193.6 100.1,193.8 101.2,193.8 102.3,193.9 103.4,192 104.5,192.5 105.6,193.7 106.7,194.1 107.8,194.1 108.9,194.1 110,194.3 111,194.3 112.1,194.3 113.2,194.4 114.3,193.4 115.4,194.5 116.5,194.6 117.6,194.6 118.7,191.9 119.8,193.8 120.9,194.8 122,194.9 123.1,192.2 124.1,193.8 125.2,195 126.3,193.1 127.4,194.7 128.5,195.2 129.6,195.3 130.7,195.3 131.8,194.4 132.9,195.3 134,195.1 135.1,195.5 136.2,195.1 137.2,195.6 138.3,195.7 139.4,195 140.5,195.7 141.6,195.4 142.7,195.9 143.8,194.9 144.9,196 146,196.1 147.1,196.1 148.2,195.6 149.2,195.5 150.3,196.3 151.4,196.4 152.5,196.4 153.6,196.5 154.7,196.3 155.8,196 156.9,194.4 158,194.7 159.1,196.6 160.2,195.9 161.3,194.7 162.3,196.9 163.4,196.8 164.5,195.1 165.6,197.1 166.7,196.4 167.8,195.9 168.9,196.9 170,194.7 171.1,196.7 172.2,195.5 173.3,197.1 174.4,195.5 175.4,197.3 176.5,196.6 177.6,197.7 178.7,197.3 179.8,197.8 180.9,197.8 182,195.1 183.1,197.9 184.2,198 185.3,198.1 186.4,197.3 187.4,198.2 188.5,197.4 189.6,198.3 190.7,196.5 191.8,198.1 192.9,198.5 194,198.1 195.1,198.6 196.2,198.6 197.3,198.2 198.4,198.3 199.5,198.5 200.5,198.8 201.6,198.3 202.7,198.9 203.8,198.7 204.9,198 206,199 207.1,198.2 208.2,199.1 209.3,199.2 210.4,199 211.5,199 212.6,199.4 213.6,199.1 214.7,199.1 215.8,199.6 216.9,199.7 218,199.6 219.1,197.4 220.2,199.6 221.3,199.5 222.4,199.9 223.5,198 224.6,199.9 225.7,199.1 226.7,199.7 227.8,199.8 228.9,200.3 230,200.3 231.1,199.1 232.2,200.4 232.2,201.1 91.4,194" fill="url(#gd0)"/>
<polygon points="318,193.5 462,200.4 474,180.3 330,173.4" fill="#1616e6"/>
<polygon points="330,169 331.1,168.8 332.2,172.5 333.3,172.8 334.5,172.9 335.6,170 336.7,172.3 337.8,173 338.9,173.1 340,173.1 341.2,171.8 342.3,171.6 343.4,173.4 344.5,173.4 345.6,173.1 346.7,173.5 347.9,173.3 349,170 350.1,173.7 351.2,173.7 352.3,173.8 353.4,173.8 354.6,173.5 355.7,173.3 356.8,173.2 357.9,172.2 359,170.2 360.1,174.2 361.3,171.5 362.4,170.7 363.5,172.8 364.6,172.8 365.7,172 366.8,173.1 368,173.8 369.1,173.4 370.2,172.1 371.3,168.8 372.4,172.4 373.5,169.3 374.7,162.9 375.8,167.6 376.9,171.4 378,164.6 379.1,166.3 380.2,135.5 381.3,156.3 382.5,167.9 383.6,141.2 384.7,150.7 385.8,159.8 386.9,145.9 388,168.5 389.2,158.1 390.3,154.7 391.4,170.6 392.5,172.9 393.6,169.8 394.7,173.4 395.9,173.3 397,172.2 398.1,165.2 399.2,169.3 400.3,169.1 401.4,165.6 402.6,156.8 403.7,160.8 404.8,170.2 405.9,168.1 407,172 408.1,171.9 409.3,173.5 410.4,174.5 411.5,170.2 412.6,159.6 413.7,157.5 414.8,168.5 416,167.3 417.1,161.5 418.2,163.5 419.3,171.9 420.4,163.5 421.5,168.2 422.7,157.8 423.8,169.9 424.9,148.1 426,164.3 427.1,163.5 428.2,165.2 429.3,158.3 430.5,171.8 431.6,172.9 432.7,174.1 433.8,172 434.9,175.9 436,175.6 437.2,173.6 438.3,174.6 439.4,176.9 440.5,175.1 441.6,174.4 442.7,175.6 443.9,176.3 445,177.4 446.1,176.5 447.2,176.7 448.3,175.1 449.4,176.7 450.6,178.4 451.7,177.6 452.8,176.8 453.9,178.7 455,177.4 456.1,178.7 457.3,178.3 458.4,178.9 459.5,178.8 460.6,177.3 461.7,179 462.8,179.1 464,179.1 465.1,179.2 466.2,179.3 467.3,179.3 468.4,179.4 469.5,179.3 470.7,178.7 471.8,179.2 472.9,179.1 474,179.6 474,180.3 330,173.4" fill="url(#ge27)"/>
<polygon points="329.6,173.4 330.7,170.5 331.8,173.6 332.9,173.6 334,173.7 335.1,173.4 336.3,171.6 337.4,173.8 338.5,170.6 339.6,170.9 340.7,172.3 341.8,169.6 343,171.1 344.1,174 345.2,174.2 346.3,173.5 347.4,173.1 348.5,174.1 349.6,172.8 350.8,174.5 351.9,174.6 353,174.1 354.1,172.5 355.2,172.9 356.3,172.6 357.5,174.8 358.6,172 359.7,174.5 360.8,171 361.9,174.9 363,174.9 364.2,173.4 365.3,174.1 366.4,172.6 367.5,174.1 368.6,171.7 369.7,171.7 370.9,172.9 372,172.7 373.1,169.1 374.2,164.7 375.3,166.7 376.4,169.9 377.6,164.2 378.7,161.6 379.8,126.4 380.9,154.2 382,166.1 383.1,153.3 384.3,154.8 385.4,161.2 386.5,145.5 387.6,165.5 388.7,167.6 389.8,157.2 391,170.4 392.1,170.9 393.2,169.5 394.3,172 395.4,173.5 396.5,172.6 397.6,169.4 398.8,173.8 399.9,171.8 401,161.3 402.1,157 403.2,164.5 404.3,172.3 405.5,168.6 406.6,175.5 407.7,175.4 408.8,173.7 409.9,175.1 411,173.4 412.2,169 413.3,156.7 414.4,172.1 415.5,164.7 416.6,161.7 417.7,169.9 418.9,170.7 420,168.2 421.1,168.1 422.2,166.6 423.3,169.8 424.4,153.4 425.6,167.6 426.7,153 427.8,168.5 428.9,166.7 430,174 431.1,173.9 432.3,174.2 433.4,170.8 434.5,176.8 435.6,175.9 436.7,177.1 437.8,174.7 439,177.7 440.1,174.7 441.2,176.9 442.3,177 443.4,177.9 444.5,175.9 445.6,177.8 446.8,177.3 447.9,177.5 449,178.8 450.1,179 451.2,179.2 452.3,178.2 453.5,179.4 454.6,179.5 455.7,179.3 456.8,179.5 457.9,179.5 459,179.6 460.2,179.5 461.3,179.8 462.4,179 463.5,179.8 464.6,179.9 465.7,178.8 466.9,180.1 468,179.8 469.1,179.8 470.2,179.3 471.3,180.2 472.4,179.9 473.6,179.6 473.6,181 329.6,174.1" fill="url(#ge26)"/>
<polygon points="329.1,172.7 330.2,174 331.3,171 332.5,173.5 333.6,170.4 334.7,174.4 335.8,174.3 336.9,174.6 338,174.3 339.2,174.7 340.3,174.2 341.4,174.7 342.5,173.7 343.6,172.1 344.7,173.5 345.9,174.1 347,173.8 348.1,170.9 349.2,173.3 350.3,174.9 351.4,174.8 352.6,174.5 353.7,173.9 354.8,174.1 355.9,175.1 357,175 358.1,172.4 359.3,174.7 360.4,175.5 361.5,174 362.6,175.7 363.7,175.3 364.8,175.1 365.9,174.7 367.1,175.3 368.2,175 369.3,174.9 370.4,174.1 371.5,172 372.6,170.4 373.8,168 374.9,164.6 376,171.4 377.1,166 378.2,162.4 379.3,146.7 380.5,158.1 381.6,166.6 382.7,158.2 383.8,161.5 384.9,166.7 386,155 387.2,163.3 388.3,159.5 389.4,158.4 390.5,172.5 391.6,171.6 392.7,171.5 393.9,174.4 395,174.3 396.1,173.8 397.2,169.4 398.3,173.4 399.4,172.6 400.6,158.4 401.7,159.9 402.8,165 403.9,172 405,166.4 406.1,176.5 407.3,176.5 408.4,176.6 409.5,173 410.6,173.4 411.7,170 412.8,164.9 413.9,172.2 415.1,158.9 416.2,164.6 417.3,165.5 418.4,173.3 419.5,166 420.6,170.6 421.8,160.2 422.9,169.3 424,149.1 425.1,173.2 426.2,157.1 427.3,170.6 428.5,161.8 429.6,174.7 430.7,174.5 431.8,175.1 432.9,174 434,175.6 435.2,174.5 436.3,176.8 437.4,173.9 438.5,176.4 439.6,174.2 440.7,177.7 441.9,176.1 443,178 444.1,176.9 445.2,176.6 446.3,178.9 447.4,178.7 448.6,178.2 449.7,179.7 450.8,177.9 451.9,180.1 453,180.1 454.1,180.1 455.3,179.6 456.4,180.2 457.5,180.3 458.6,180.4 459.7,180.5 460.8,180.5 461.9,180.1 463.1,180.6 464.2,180.2 465.3,179.5 466.4,180.3 467.5,179.8 468.6,180.4 469.8,181 470.9,180.9 472,180.4 473.1,181.1 473.1,181.8 329.1,174.9" fill="url(#ge25)"/>
<polygon points="328.7,173.5 329.8,175 330.9,175 332,173.2 333.1,172.7 334.2,171.5 335.4,174.7 336.5,174.1 337.6,174.6 338.7,175.4 339.8,175.3 340.9,174.8 342.1,172.1 343.2,174 344.3,175.6 345.4,175.7 346.5,174.7 347.6,175.8 348.8,173.4 349.9,175.5 351,173 352.1,171.8 353.2,172.9 354.3,175.3 355.5,175.4 356.6,176.3 357.7,176.2 358.8,172.3 359.9,175.6 361,176.4 362.2,176 363.3,174.3 364.4,172 365.5,174.9 366.6,173.2 367.7,175.9 368.9,173.1 370,172 371.1,172.1 372.2,168.8 373.3,168.3 374.4,167.7 375.6,168.4 376.7,169.6 377.8,165.3 378.9,127.1 380,154.4 381.1,169.1 382.2,160.4 383.4,161.3 384.5,162.8 385.6,146.2 386.7,170.7 387.8,167.1 388.9,155.7 390.1,171.8 391.2,173 392.3,170 393.4,172.3 394.5,174.6 395.6,175.2 396.8,173.6 397.9,173 399,173.3 400.1,163.9 401.2,166.8 402.3,164.9 403.5,169.7 404.6,171.8 405.7,173.8 406.8,176.7 407.9,176.5 409,175.2 410.2,172.8 411.3,166.9 412.4,167.9 413.5,171.9 414.6,169.4 415.7,167 416.9,164.6 418,172.4 419.1,170.7 420.2,171.1 421.3,156.5 422.4,173.4 423.6,163.7 424.7,168.7 425.8,164.6 426.9,166.9 428,169.5 429.1,174.3 430.2,176.5 431.4,176.7 432.5,175.5 433.6,177.2 434.7,177.1 435.8,178.1 436.9,175 438.1,179 439.2,176.5 440.3,178.4 441.4,176.1 442.5,177.3 443.6,179.5 444.8,179 445.9,179.2 447,178.6 448.1,179.6 449.2,179.7 450.3,180.7 451.5,180.6 452.6,180.8 453.7,180.9 454.8,181 455.9,181 457,180.9 458.2,181.2 459.3,181 460.4,181.3 461.5,180.5 462.6,180.4 463.7,181.4 464.9,181.5 466,180 467.1,180.2 468.2,181.7 469.3,181.5 470.4,181.1 471.6,181.8 472.7,181.8 472.7,182.5 328.7,175.6" fill="url(#ge24)"/>
<polygon points="328.2,175.6 329.3,174.7 330.5,175.5 331.6,175.7 332.7,175.9 333.8,173.3 334.9,175.6 336,176 337.2,172.8 338.3,175.6 339.4,176.2 340.5,174.6 341.6,175 342.7,174.3 343.9,175.8 345,176.1 346.1,176 347.2,174.9 348.3,176.7 349.4,176.7 350.5,172.6 351.7,176.1 352.8,176.9 353.9,175.7 355,177 356.1,176.9 357.2,177.1 358.4,174.5 359.5,176.3 360.6,175.3 361.7,174.9 362.8,176.5 363.9,175.9 365.1,175.3 366.2,177 367.3,176.4 368.4,174.4 369.5,172.6 370.6,172 371.8,171.8 372.9,167.7 374,165.8 375.1,170.3 376.2,167.2 377.3,167.7 378.5,147.9 379.6,157.5 380.7,165.5 381.8,145.9 382.9,160.4 384,163.2 385.2,152.3 386.3,170 387.4,163.1 388.5,156.2 389.6,173 390.7,173.7 391.9,171.6 393,177.1 394.1,175 395.2,175.1 396.3,174.4 397.4,175.4 398.5,175.2 399.7,163.7 400.8,160.2 401.9,167.2 403,171.1 404.1,169.9 405.2,177.6 406.4,175.6 407.5,176.9 408.6,178.5 409.7,172.3 410.8,171.3 411.9,163.3 413.1,171 414.2,164.6 415.3,168.8 416.4,165.9 417.5,172.1 418.6,166.3 419.8,169.5 420.9,158.3 422,172.3 423.1,163.5 424.2,172.7 425.3,162.2 426.5,168.5 427.6,167.6 428.7,175.3 429.8,178.3 430.9,177.8 432,176.5 433.2,177.1 434.3,177.5 435.4,178.1 436.5,176.7 437.6,179.5 438.7,177 439.9,177.9 441,178.8 442.1,180.2 443.2,179.2 444.3,180.2 445.4,180.3 446.5,180 447.7,181 448.8,181.1 449.9,180.8 451,181.6 452.1,181.1 453.2,181.7 454.4,181.8 455.5,181.7 456.6,181.8 457.7,181.9 458.8,181.9 459.9,181.8 461.1,182 462.2,182.1 463.3,182.2 464.4,181.9 465.5,182.3 466.6,181.7 467.8,182.4 468.9,182.4 470,182.4 471.1,182.5 472.2,182.5 472.2,183.3 328.2,176.4" fill="url(#ge23)"/>
<polygon points="327.8,176.5 328.9,176.3 330,172.1 331.1,176.6 332.2,176.3 333.4,175.6 334.5,175.2 335.6,176.6 336.7,176.3 337.8,176.5 338.9,173.5 340.1,177 341.2,174.6 342.3,173.6 343.4,174.8 344.5,177.2 345.6,177.3 346.8,177.3 347.9,177.2 349,176.7 350.1,177.4 351.2,177.6 352.3,176 353.5,175.3 354.6,175.5 355.7,177.8 356.8,176.1 357.9,177.5 359,176.2 360.1,177.7 361.3,176.2 362.4,174 363.5,177.3 364.6,176.7 365.7,176 366.8,177.5 368,175.9 369.1,176.6 370.2,177.3 371.3,173.5 372.4,168.4 373.5,168.7 374.7,172.1 375.8,163.1 376.9,167 378,152.7 379.1,165.4 380.2,172.2 381.4,148.5 382.5,152.9 383.6,163.7 384.7,154.8 385.8,164.9 386.9,167.8 388.1,160 389.2,172.2 390.3,174.4 391.4,173.6 392.5,176.5 393.6,176.5 394.8,175.6 395.9,171.2 397,173.8 398.1,176.2 399.2,160.6 400.3,159.9 401.5,165.9 402.6,175.4 403.7,171.5 404.8,177.5 405.9,178 407,177.6 408.1,178.4 409.3,174.8 410.4,164.1 411.5,163.1 412.6,172.3 413.7,171.6 414.8,164.2 416,169.2 417.1,172.1 418.2,174.2 419.3,167.7 420.4,165 421.5,174.1 422.7,153.6 423.8,173.5 424.9,168.7 426,165.7 427.1,165.2 428.2,176.8 429.4,177.2 430.5,178.3 431.6,177.8 432.7,178.9 433.8,179.1 434.9,179.7 436.1,178.7 437.2,179.9 438.3,177.8 439.4,179.2 440.5,179.9 441.6,180.4 442.8,180.4 443.9,180.5 445,179.6 446.1,180.7 447.2,181.8 448.3,182 449.5,182.2 450.6,182 451.7,182.3 452.8,182.4 453.9,182.5 455,182.4 456.1,182.3 457.3,182.6 458.4,182.5 459.5,182.1 460.6,182.7 461.7,182.9 462.8,182.2 464,181.6 465.1,182.3 466.2,183.1 467.3,183.1 468.4,183.2 469.5,181.8 470.7,182.8 471.8,183.3 471.8,184 327.8,177.1" fill="url(#ge22)"/>
<polygon points="327.3,176.4 328.4,175.2 329.6,176.9 330.7,177.3 331.8,176.5 332.9,177.4 334,176.5 335.1,173.4 336.3,177.6 337.4,177.5 338.5,175.9 339.6,174.7 340.7,173.3 341.8,174.3 343,177.5 344.1,175.9 345.2,174.4 346.3,174.7 347.4,178.2 348.5,177.8 349.7,177.3 350.8,177.7 351.9,178.1 353,176.2 354.1,178.5 355.2,174.7 356.4,178.2 357.5,178.1 358.6,176.6 359.7,176.9 360.8,178.4 361.9,178.5 363.1,177.9 364.2,177.2 365.3,177.4 366.4,178.4 367.5,174 368.6,173.8 369.8,175.7 370.9,171.9 372,174.1 373.1,169.5 374.2,173.7 375.3,166.4 376.4,166 377.6,131 378.7,158.6 379.8,166.7 380.9,163 382,150.1 383.1,165.4 384.3,162.9 385.4,170.7 386.5,166.8 387.6,162.6 388.7,176.7 389.8,173.8 391,176.3 392.1,177 393.2,177.8 394.3,174.9 395.4,171.6 396.5,174.4 397.7,174.2 398.8,160.3 399.9,166.8 401,167 402.1,172.8 403.2,173.3 404.4,176 405.5,175.5 406.6,178.9 407.7,178.7 408.8,177.1 409.9,167.8 411.1,165.5 412.2,176.4 413.3,164.4 414.4,173.1 415.5,166.2 416.6,173.1 417.8,171.2 418.9,169.6 420,169.5 421.1,174.5 422.2,161.1 423.3,174.5 424.4,161.1 425.6,169.9 426.7,164.9 427.8,179.1 428.9,178.7 430,178.4 431.1,179.3 432.3,180.8 433.4,178.4 434.5,180.3 435.6,178.5 436.7,180.6 437.8,178 439,180.1 440.1,180.1 441.2,180.4 442.3,180.4 443.4,179.9 444.5,181.7 445.7,181.6 446.8,182.2 447.9,181.5 449,182.8 450.1,182.8 451.2,183.1 452.4,182.7 453.5,183.1 454.6,181.6 455.7,183.3 456.8,182.8 457.9,183.1 459.1,183.5 460.2,182.9 461.3,182 462.4,183.5 463.5,182.6 464.6,183.1 465.8,182.4 466.9,183.9 468,183.9 469.1,183.8 470.2,182.9 471.3,184.1 471.3,184.8 327.3,177.9" fill="url(#ge21)"/>
<polygon points="326.9,177 328,177.7 329.1,174.6 330.2,174 331.4,177.8 332.5,178.2 333.6,175.9 334.7,177.2 335.8,176.1 336.9,178.4 338.1,178.5 339.2,176.5 340.3,177.6 341.4,178.6 342.5,178.6 343.6,178.4 344.7,175.6 345.9,174.3 347,177.8 348.1,177.8 349.2,177.8 350.3,178.9 351.4,179.1 352.6,177.1 353.7,177.5 354.8,179 355.9,179.3 357,179.4 358.1,177.3 359.3,176.2 360.4,175.1 361.5,176.4 362.6,178.7 363.7,177.6 364.8,178.5 366,178.3 367.1,176.6 368.2,177.6 369.3,142.2 370.4,121.6 371.5,148.2 372.7,167.3 373.8,175.2 374.9,163.5 376,170.5 377.1,135.4 378.2,112.7 379.4,143.5 380.5,150 381.6,155.5 382.7,166.3 383.8,154.2 384.9,168.8 386.1,170.2 387.2,158.4 388.3,177.1 389.4,177 390.5,173.9 391.6,176 392.7,176.5 393.9,177.1 395,171.7 396.1,175.6 397.2,174.9 398.3,162.1 399.4,167.3 400.6,174 401.7,173.2 402.8,176.9 403.9,178.5 405,180.2 406.1,179.3 407.3,180.6 408.4,173.8 409.5,170.1 410.6,171.7 411.7,177.3 412.8,169.7 414,167.9 415.1,169.3 416.2,176.9 417.3,167.4 418.4,159.1 419.5,157.6 420.7,177.1 421.8,161.8 422.9,174.4 424,160 425.1,169.7 426.2,169.1 427.4,176.4 428.5,178.4 429.6,180.4 430.7,179.2 431.8,181.2 432.9,180.9 434.1,179.4 435.2,180.7 436.3,181.2 437.4,178.7 438.5,180.2 439.6,181.1 440.7,179.9 441.9,181.6 443,182 444.1,182.4 445.2,182.2 446.3,182 447.4,183.5 448.6,182.4 449.7,183.6 450.8,182.1 451.9,183.9 453,183.9 454.1,183.9 455.3,182.8 456.4,184 457.5,184.1 458.6,184.2 459.7,183.8 460.8,184.3 462,184.3 463.1,184.4 464.2,184.5 465.3,184.6 466.4,183.7 467.5,184.2 468.7,184.7 469.8,184.8 470.9,184.5 470.9,185.5 326.9,178.6" fill="url(#ge20)"/>
<polygon points="326.4,178.1 327.6,175.4 328.7,178.4 329.8,178.9 330.9,178.7 332,177.6 333.1,175.6 334.3,178 335.4,177.9 336.5,179.2 337.6,179.1 338.7,179.3 339.8,177.9 341,179.3 342.1,179.2 343.2,175.5 344.3,175.2 345.4,178.1 346.5,178.4 347.7,179.6 348.8,175.8 349.9,179.8 351,179.9 352.1,177.6 353.2,179.2 354.4,179.6 355.5,178.3 356.6,178.9 357.7,178 358.8,180.1 359.9,178.5 361,179.8 362.2,179.8 363.3,179.1 364.4,179.4 365.5,178.6 366.6,178.2 367.7,178.1 368.9,176.6 370,172.6 371.1,174.9 372.2,173.4 373.3,176.5 374.4,170 375.6,172.6 376.7,142.5 377.8,156.9 378.9,175 380,162.9 381.1,154.3 382.3,167.1 383.4,156.7 384.5,171.5 385.6,168.8 386.7,164.3 387.8,177.3 389,175.6 390.1,175.2 391.2,178.5 392.3,177.7 393.4,179.8 394.5,177 395.7,176 396.8,175.3 397.9,163.5 399,160.4 400.1,166.5 401.2,174.8 402.4,175.4 403.5,178.5 404.6,178.2 405.7,180.8 406.8,180.6 407.9,176.8 409,164 410.2,165.8 411.3,172.9 412.4,169.5 413.5,172.1 414.6,172.7 415.7,172.7 416.9,171.3 418,172.2 419.1,162.5 420.2,173.8 421.3,155.2 422.4,176.6 423.6,166.6 424.7,168.3 425.8,171.6 426.9,177.1 428,178.8 429.1,179.4 430.3,176.6 431.4,179.5 432.5,181.7 433.6,182.3 434.7,180.1 435.8,182.8 437,178.5 438.1,181.5 439.2,180.8 440.3,182 441.4,183.7 442.5,182.1 443.7,182.8 444.8,183.3 445.9,182.8 447,184.3 448.1,184.5 449.2,184.3 450.4,184.6 451.5,184.2 452.6,184.5 453.7,183.6 454.8,183.9 455.9,184.8 457,184.3 458.2,184.8 459.3,185 460.4,185.1 461.5,184.9 462.6,184.2 463.7,185.2 464.9,185 466,185.3 467.1,185.4 468.2,185.5 469.3,185.5 470.4,185.6 470.4,186.3 326.4,179.4" fill="url(#ge19)"/>
<polygon points="326,178.2 327.1,177.1 328.2,175.4 329.3,177.5 330.5,177.3 331.6,179.7 332.7,179.2 333.8,179.3 334.9,179.8 336,179.8 337.2,180 338.3,179.2 339.4,179.6 340.5,180 341.6,179.8 342.7,178.6 343.9,176.9 345,179.8 346.1,176.7 347.2,178.8 348.3,180.5 349.4,180.6 350.6,180 351.7,177.5 352.8,180.6 353.9,179.5 355,180.8 356.1,180.1 357.3,177.4 358.4,180.9 359.5,180.7 360.6,176.4 361.7,180 362.8,176.4 364,180 365.1,178.2 366.2,179.2 367.3,179.2 368.4,179.5 369.5,175.7 370.7,171.1 371.8,175.5 372.9,173.8 374,168.4 375.1,171.4 376.2,136.5 377.3,168.5 378.5,168.2 379.6,162.2 380.7,153.2 381.8,169.8 382.9,154.7 384,173.7 385.2,168.4 386.3,168.5 387.4,178.6 388.5,178.4 389.6,178.3 390.7,179.2 391.9,176.6 393,178 394.1,177 395.2,176.6 396.3,175.6 397.4,169 398.6,171.7 399.7,170.6 400.8,173.2 401.9,173.4 403,180.7 404.1,181.3 405.3,178.3 406.4,178.4 407.5,175.1 408.6,173.3 409.7,163.1 410.8,175.4 412,167.2 413.1,173.6 414.2,171.8 415.3,179.8 416.4,173 417.5,174.4 418.7,169.2 419.8,176.7 420.9,156.3 422,176.1 423.1,157.6 424.2,170.3 425.3,172.7 426.5,179.7 427.6,180 428.7,180.4 429.8,179.2 430.9,182.3 432,182.9 433.2,182.7 434.3,182 435.4,181.2 436.5,180.6 437.6,182.2 438.7,181.1 439.9,184.1 441,184.2 442.1,182.8 443.2,184 444.3,183.6 445.4,184 446.6,184.6 447.7,184.9 448.8,183.6 449.9,185.4 451,183.7 452.1,185.5 453.3,185.5 454.4,185 455.5,185.6 456.6,184 457.7,184.2 458.8,185.3 460,185.8 461.1,185.9 462.2,185.9 463.3,185.8 464.4,185.8 465.5,185.6 466.7,186 467.8,186.2 468.9,186.1 470,186.3 470,187 326,180.1" fill="url(#ge18)"/>
<polygon points="325.6,179.7 326.7,180.2 327.8,179.3 328.9,180 330,179.8 331.1,180.3 332.3,179.4 333.4,178.3 334.5,180.6 335.6,180 336.7,176.5 337.8,178.8 339,178.5 340.1,180.7 341.2,176.8 342.3,176.6 343.4,181 344.5,179.2 345.6,181.1 346.8,181.2 347.9,181.2 349,180.7 350.1,178.9 351.2,181.1 352.3,178 353.5,178.6 354.6,177.5 355.7,179.9 356.8,181.7 357.9,178.3 359,181.7 360.2,181.3 361.3,181.1 362.4,181 363.5,180.9 364.6,180 365.7,177.4 366.9,180 368,179.6 369.1,176.3 370.2,171.3 371.3,172.6 372.4,178.1 373.6,169.8 374.7,171.5 375.8,155.3 376.9,161.1 378,174.2 379.1,147.8 380.3,165.7 381.4,175.6 382.5,166.3 383.6,175.7 384.7,170.8 385.8,158.7 387,177.8 388.1,179.2 389.2,179.2 390.3,181 391.4,178.5 392.5,181 393.6,176 394.8,178.1 395.9,179.5 397,173.1 398.1,164.2 399.2,176.7 400.3,178.7 401.5,178.6 402.6,182.2 403.7,181.9 404.8,179.8 405.9,179.9 407,177.6 408.2,169.7 409.3,170.7 410.4,178.7 411.5,166.8 412.6,175.1 413.7,173.6 414.9,174.5 416,172.3 417.1,175.9 418.2,169.7 419.3,180.4 420.4,158.3 421.6,177.3 422.7,166.4 423.8,173.6 424.9,171.1 426,180.2 427.1,181.1 428.3,182.3 429.4,181.9 430.5,181.8 431.6,183.2 432.7,183.3 433.8,180.7 435,184.3 436.1,181.8 437.2,182.8 438.3,183.4 439.4,184.7 440.5,184.9 441.6,183.3 442.8,182.9 443.9,183.9 445,185.5 446.1,185.6 447.2,184.3 448.3,184.8 449.5,184.2 450.6,185.9 451.7,186.2 452.8,184.9 453.9,185.9 455,186.2 456.2,186.3 457.3,186.1 458.4,185.7 459.5,186.6 460.6,186.1 461.7,186.7 462.9,186.7 464,186 465.1,186.8 466.2,186.8 467.3,186.9 468.4,186.7 469.6,186.9 469.6,187.7 325.6,180.8" fill="url(#ge17)"/>
<polygon points="325.1,180 326.2,180.8 327.3,179.9 328.5,181 329.6,181.1 330.7,177.4 331.8,177 332.9,181.2 334,181.3 335.2,180.1 336.3,180.5 337.4,180.6 338.5,180.8 339.6,181.4 340.7,180.9 341.9,180.4 343,181.8 344.1,180.2 345.2,180.7 346.3,181.2 347.4,180.6 348.6,181.9 349.7,182.1 350.8,181.9 351.9,182.2 353,181 354.1,181.3 355.3,182.2 356.4,178 357.5,182.1 358.6,182 359.7,178.2 360.8,180 361.9,180 363.1,181.9 364.2,179.7 365.3,180.8 366.4,181.3 367.5,181.1 368.6,175.8 369.8,176.6 370.9,173.1 372,177.2 373.1,173.3 374.2,173.3 375.3,148.6 376.5,168.9 377.6,177.8 378.7,152.8 379.8,153.2 380.9,167.8 382,159.5 383.2,173.7 384.3,165.9 385.4,169 386.5,176.4 387.6,179.4 388.7,178.1 389.9,181.7 391,178.7 392.1,181.2 393.2,175.7 394.3,175.1 395.4,177.1 396.6,171.7 397.7,169.8 398.8,176.5 399.9,176.4 401,177.9 402.1,180.4 403.3,179.4 404.4,183 405.5,183 406.6,178.2 407.7,168.6 408.8,165.1 409.9,177.4 411.1,171.8 412.2,174.1 413.3,175.5 414.4,178.2 415.5,176.8 416.6,171.9 417.8,170.9 418.9,176.4 420,162.2 421.1,175.2 422.2,166.7 423.3,170.7 424.5,173.1 425.6,181.3 426.7,181 427.8,181.6 428.9,179.6 430,183.7 431.2,182.9 432.3,184.2 433.4,180 434.5,184 435.6,181.4 436.7,180.6 437.9,185 439,185 440.1,183.8 441.2,184.2 442.3,184.3 443.4,185.5 444.6,186.1 445.7,186.4 446.8,186.4 447.9,186.8 449,186.8 450.1,186.7 451.3,186.2 452.4,186.5 453.5,187 454.6,186.6 455.7,187.2 456.8,187.2 457.9,187.3 459.1,187.3 460.2,187.3 461.3,186 462.4,187.3 463.5,186.8 464.6,187.6 465.8,187.7 466.9,186.7 468,187.7 469.1,187.8 469.1,188.5 325.1,181.6" fill="url(#ge16)"/>
<polygon points="324.7,181.1 325.8,181.2 326.9,181.7 328,181 329.1,180.7 330.2,181.9 331.4,182 332.5,179.1 333.6,182 334.7,182.1 335.8,181.3 336.9,180.4 338.1,179.1 339.2,182.3 340.3,182.4 341.4,182.5 342.5,182.5 343.6,182.6 344.8,181.7 345.9,182.3 347,182.7 348.1,180.4 349.2,182.8 350.3,181 351.5,182.1 352.6,182.7 353.7,182.9 354.8,183.1 355.9,181.8 357,183.2 358.2,180.8 359.3,180.8 360.4,182.7 361.5,181.4 362.6,179.2 363.7,182.9 364.9,181.5 366,181.8 367.1,182.7 368.2,176.5 369.3,174.2 370.4,173.9 371.6,178 372.7,170.1 373.8,170.1 374.9,145.9 376,163.7 377.1,174.4 378.2,162.5 379.4,166.5 380.5,165.8 381.6,168 382.7,176.9 383.8,174.6 384.9,157.8 386.1,180.9 387.2,180.6 388.3,177.9 389.4,178.9 390.5,181.4 391.6,180 392.8,177.2 393.9,177.2 395,177.8 396.1,172.2 397.2,165 398.3,173.3 399.5,178.6 400.6,179.1 401.7,182.1 402.8,183.5 403.9,183.2 405,183.7 406.2,178 407.3,171.7 408.4,167.7 409.5,178.7 410.6,174.4 411.7,175.5 412.9,172.2 414,178.2 415.1,172.8 416.2,174.4 417.3,165.6 418.4,179.1 419.6,157.4 420.7,179 421.8,164.2 422.9,178.1 424,173.3 425.1,182 426.2,182.6 427.4,181.7 428.5,182.9 429.6,184.8 430.7,184.1 431.8,183.7 432.9,181.3 434.1,184.9 435.2,182.8 436.3,183.7 437.4,184.2 438.5,185.2 439.6,186.2 440.8,183.3 441.9,185.8 443,185.7 444.1,186.9 445.2,185.7 446.3,187.4 447.5,187.3 448.6,187.4 449.7,187.7 450.8,187.7 451.9,185.9 453,187.8 454.2,187.8 455.3,187.9 456.4,187.8 457.5,187.6 458.6,188.1 459.7,187.1 460.9,188.1 462,188.2 463.1,187.3 464.2,187.9 465.3,187 466.4,188 467.6,187.4 468.7,188.6 468.7,189.2 324.7,182.3" fill="url(#ge15)"/>
<polygon points="324.2,182.3 325.3,179.5 326.5,178.4 327.6,182.4 328.7,180.5 329.8,182.6 330.9,182.5 332,180.4 333.2,181.4 334.3,182.4 335.4,182.9 336.5,183 337.6,182.9 338.7,181 339.9,183 341,181.8 342.1,182.1 343.2,183.3 344.3,182 345.4,183.1 346.5,180.7 347.7,181.9 348.8,183.5 349.9,179.9 351,182.4 352.1,183.5 353.2,183.7 354.4,182.8 355.5,180.9 356.6,183.5 357.7,183.8 358.8,183.6 359.9,183.4 361.1,182.5 362.2,183 363.3,179.4 364.4,182.9 365.5,179 366.6,179.5 367.8,178 368.9,176.7 370,172.9 371.1,178.2 372.2,171.2 373.3,171.5 374.5,153 375.6,163.4 376.7,177.9 377.8,163.7 378.9,157 380,175.2 381.2,150.5 382.3,176.5 383.4,174.5 384.5,171.4 385.6,177.8 386.7,178.6 387.9,179.6 389,183.6 390.1,183.1 391.2,183.2 392.3,181.4 393.4,181.6 394.5,181.3 395.7,170.6 396.8,174.5 397.9,175.5 399,182.3 400.1,176.6 401.2,184.3 402.4,182 403.5,182 404.6,184.6 405.7,178.4 406.8,171 407.9,164.4 409.1,179 410.2,172.3 411.3,171.9 412.4,168.5 413.5,178.6 414.6,172.4 415.8,180.1 416.9,166 418,178.9 419.1,167.8 420.2,179.6 421.3,163.7 422.5,171.4 423.6,175 424.7,181.9 425.8,183.9 426.9,181.8 428,184.5 429.2,185.9 430.3,185.3 431.4,185.3 432.5,184.3 433.6,186 434.7,183.1 435.9,183.6 437,186.5 438.1,185.8 439.2,186.7 440.3,186.2 441.4,186.4 442.5,186.2 443.7,185.9 444.8,187.8 445.9,186.3 447,188 448.1,186.9 449.2,186.5 450.4,188.4 451.5,188.2 452.6,188.3 453.7,188.5 454.8,188.2 455.9,188.7 457.1,187.4 458.2,187.2 459.3,188.2 460.4,188.4 461.5,188.9 462.6,188.8 463.8,188.3 464.9,189.2 466,189 467.1,189.2 468.2,189.3 468.2,190 324.2,183.1" fill="url(#ge14)"/>
<polygon points="323.8,182.8 324.9,182.6 326,181.9 327.1,179.6 328.2,180.3 329.4,182.7 330.5,182.4 331.6,182.6 332.7,179.8 333.8,182.5 334.9,179.8 336.1,181.5 337.2,183.8 338.3,183.8 339.4,182.5 340.5,183.2 341.6,179.4 342.8,184 343.9,181.1 345,184.2 346.1,184.1 347.2,183.6 348.3,184.3 349.5,181.2 350.6,183.9 351.7,183.7 352.8,182.8 353.9,184.6 355,182.9 356.1,184.4 357.3,184.6 358.4,184.5 359.5,184.1 360.6,183 361.7,182.2 362.8,181.3 364,180.4 365.1,182.7 366.2,179.8 367.3,180 368.4,179.9 369.5,175.8 370.7,178.1 371.8,174.1 372.9,173.7 374,158.8 375.1,165.3 376.2,177.4 377.4,156.5 378.5,161.8 379.6,174.3 380.7,166.6 381.8,178 382.9,169.8 384.1,160 385.2,179.5 386.3,182.2 387.4,180.3 388.5,183.4 389.6,181.6 390.8,182.6 391.9,178.2 393,180.8 394.1,176.3 395.2,167.9 396.3,175.8 397.5,172.2 398.6,180.3 399.7,179.8 400.8,184.5 401.9,185.1 403,182.8 404.1,185.1 405.3,182.6 406.4,179.5 407.5,167.9 408.6,181.8 409.7,177.5 410.8,173.1 412,173.8 413.1,179.1 414.2,175.9 415.3,181.3 416.4,169.7 417.5,183.3 418.7,167.7 419.8,179.5 420.9,164.4 422,179.3 423.1,173.9 424.2,185.2 425.4,185.5 426.5,186 427.6,181.7 428.7,185.4 429.8,185.2 430.9,186.3 432.1,185.1 433.2,185 434.3,184.4 435.4,186.5 436.5,186.2 437.6,186.7 438.8,186.2 439.9,185.2 441,186.8 442.1,187.1 443.2,188.3 444.3,188.7 445.5,188.7 446.6,189 447.7,189.1 448.8,188.9 449.9,188.9 451,188 452.1,188.6 453.3,188.8 454.4,189.4 455.5,189.3 456.6,188.3 457.7,189 458.8,188.2 460,189.2 461.1,189.1 462.2,189.7 463.3,189.2 464.4,189.7 465.5,189.7 466.7,188.6 467.8,189.7 467.8,190.7 323.8,183.8" fill="url(#ge13)"/>
<polygon points="323.3,183.7 324.4,183.6 325.6,184 326.7,184 327.8,184.1 328.9,183.8 330,182.4 331.1,184.2 332.3,183 333.4,183.2 334.5,184.2 335.6,183.4 336.7,184.5 337.8,184.6 339,184.7 340.1,184.6 341.2,184 342.3,184.8 343.4,182.4 344.5,184.9 345.7,184.7 346.8,184 347.9,183.6 349,180.9 350.1,183.3 351.2,185.2 352.4,183.5 353.5,184.5 354.6,183.9 355.7,184.9 356.8,185.3 357.9,184.9 359.1,183.7 360.2,184.1 361.3,182.6 362.4,184.9 363.5,183.9 364.6,183.9 365.8,184.4 366.9,182.5 368,181.7 369.1,178.2 370.2,179.3 371.3,174.9 372.4,170.4 373.6,163.9 374.7,174.5 375.8,179.3 376.9,169.4 378,174 379.1,176.3 380.3,166.4 381.4,181.6 382.5,176.9 383.6,167.5 384.7,182.1 385.8,179.4 387,180.9 388.1,184.3 389.2,185 390.3,182.4 391.4,182.1 392.5,182.8 393.7,183.8 394.8,174.2 395.9,171.6 397,175.7 398.1,181.3 399.2,180.3 400.4,186 401.5,186.2 402.6,182.3 403.7,183.6 404.8,183.5 405.9,181.2 407.1,176.2 408.2,184.6 409.3,177.5 410.4,176.6 411.5,173 412.6,180.8 413.8,177.8 414.9,178.1 416,175 417.1,180.7 418.2,173.4 419.3,181.5 420.4,168.7 421.6,181.8 422.7,175.5 423.8,183.4 424.9,186.4 426,186.4 427.1,185.3 428.3,187.6 429.4,185.1 430.5,187.2 431.6,185.5 432.7,188.3 433.8,185.1 435,187.7 436.1,185.3 437.2,187.8 438.3,188.3 439.4,188 440.5,188.5 441.7,187.1 442.8,188.4 443.9,188.8 445,189.6 446.1,188.6 447.2,189.7 448.4,189.6 449.5,189.9 450.6,189 451.7,190 452.8,189.2 453.9,189.4 455.1,188.6 456.2,190.1 457.3,190.3 458.4,190.4 459.5,190.2 460.6,190.5 461.8,190.5 462.9,190.6 464,190.6 465.1,190.5 466.2,190.7 467.3,190.8 467.3,191.5 323.3,184.6" fill="url(#ge12)"/>
<polygon points="322.9,184.6 324,184.1 325.1,183.2 326.2,181.7 327.4,184.9 328.5,182.4 329.6,184.9 330.7,183.5 331.8,180.7 332.9,184.7 334.1,184.7 335.2,185.2 336.3,184.8 337.4,185.2 338.5,185.3 339.6,184 340.7,185.3 341.9,185.5 343,185.6 344.1,181.3 345.2,182 346.3,185.4 347.4,185.5 348.6,185.1 349.7,182.5 350.8,185.8 351.9,185.5 353,184.8 354.1,186 355.3,185.7 356.4,186.1 357.5,184 358.6,185.9 359.7,185.3 360.8,184.4 362,185.9 363.1,184.6 364.2,184.5 365.3,181.2 366.4,181.4 367.5,181.2 368.7,181.3 369.8,183.4 370.9,176.8 372,178.8 373.1,151.3 374.2,169.1 375.4,181 376.5,161.5 377.6,166.2 378.7,175.9 379.8,172.2 380.9,178.3 382.1,173.9 383.2,172.4 384.3,183.7 385.4,182.7 386.5,179.6 387.6,185.4 388.7,185.5 389.9,181.8 391,180.8 392.1,183.4 393.2,184.9 394.3,176.9 395.4,176.8 396.6,174.2 397.7,179.8 398.8,183.7 399.9,187.1 401,186.2 402.1,186.1 403.3,186.1 404.4,184.8 405.5,182.7 406.6,177.6 407.7,183.6 408.8,176.2 410,178.3 411.1,176.6 412.2,184.1 413.3,180.8 414.4,179.6 415.5,179.1 416.7,185.9 417.8,170.5 418.9,183.8 420,176.7 421.1,182.6 422.2,181.4 423.4,184.4 424.5,186.4 425.6,187.2 426.7,187.2 427.8,187.4 428.9,187.3 430.1,185.9 431.2,186.1 432.3,188.5 433.4,187 434.5,185.2 435.6,188.1 436.7,187.4 437.9,189.1 439,188.9 440.1,187.7 441.2,189.3 442.3,188.3 443.4,188.5 444.6,190.2 445.7,189 446.8,190.6 447.9,190.1 449,190.7 450.1,190.7 451.3,190.4 452.4,190.2 453.5,190.3 454.6,190.8 455.7,191 456.8,190.4 458,189.4 459.1,190.7 460.2,190.9 461.3,191.3 462.4,191.2 463.5,191.2 464.7,191.3 465.8,191.4 466.9,191.5 466.9,192.2 322.9,185.3" fill="url(#ge11)"/>
<polygon points="322.4,185.4 323.6,185.4 324.7,185.4 325.8,184.1 326.9,185.5 328,181.5 329.1,181.9 330.3,183.1 331.4,185.8 332.5,184.6 333.6,181.4 334.7,186 335.8,185.7 337,186 338.1,186.1 339.2,185.8 340.3,186.2 341.4,182.6 342.5,186.4 343.7,183.7 344.8,186.4 345.9,183.9 347,184.7 348.1,186.3 349.2,186.6 350.4,186.7 351.5,186.7 352.6,184 353.7,184.7 354.8,183.4 355.9,186.1 357,186.1 358.2,186.7 359.3,184.5 360.4,186.5 361.5,184 362.6,185.9 363.7,186.1 364.9,186.4 366,182.7 367.1,181.4 368.2,179.3 369.3,184 370.4,180.7 371.6,177.3 372.7,169.9 373.8,179.8 374.9,181 376,177.1 377.1,176.6 378.3,177.1 379.4,169.3 380.5,181.2 381.6,180.9 382.7,174.6 383.8,184.6 385,186.5 386.1,183.1 387.2,187 388.3,187 389.4,186.9 390.5,182.9 391.7,184.3 392.8,185.4 393.9,176.5 395,178.8 396.1,184.5 397.2,184.2 398.4,184.3 399.5,187.5 400.6,186.1 401.7,188.3 402.8,188.2 403.9,184.4 405,180.3 406.2,174.6 407.3,183.8 408.4,178.1 409.5,180.9 410.6,180.7 411.7,186.1 412.9,184.8 414,182.2 415.1,180 416.2,185.3 417.3,172.8 418.4,184.9 419.6,176.4 420.7,182.1 421.8,179.7 422.9,186.8 424,187.8 425.1,187.8 426.3,187.8 427.4,188.7 428.5,188.6 429.6,187.5 430.7,186.6 431.8,187.3 433,188.3 434.1,189.6 435.2,188.9 436.3,190 437.4,188.4 438.5,188.2 439.7,189 440.8,189.1 441.9,190.8 443,190 444.1,191 445.2,191.1 446.4,191.3 447.5,191.4 448.6,189.8 449.7,190.4 450.8,191.5 451.9,190 453,190 454.2,191.7 455.3,190.8 456.4,191.8 457.5,191.9 458.6,191.7 459.7,190.4 460.9,191.6 462,192.1 463.1,191.5 464.2,192 465.3,191.4 466.4,192 466.4,193 322.4,186.1" fill="url(#ge10)"/>
<polygon points="322,185.8 323.1,186.2 324.2,184.7 325.3,181.9 326.5,186 327.6,185.6 328.7,182.4 329.8,186.3 330.9,186.3 332,185.9 333.2,185.8 334.3,186.7 335.4,186.6 336.5,186.8 337.6,186.6 338.7,185.9 339.9,183.1 341,186.3 342.1,182.7 343.2,186.8 344.3,186.7 345.4,184.3 346.6,187.2 347.7,186 348.8,187 349.9,187.2 351,187.5 352.1,187.6 353.3,186.8 354.4,187 355.5,184.2 356.6,187.3 357.7,187.5 358.8,186.8 360,184.7 361.1,186.7 362.2,185.7 363.3,186.7 364.4,185.8 365.5,184.6 366.7,182.6 367.8,182 368.9,186.2 370,179.3 371.1,179.8 372.2,165.6 373.3,174.3 374.5,183.7 375.6,177.4 376.7,178.7 377.8,182.7 378.9,167.5 380,185.1 381.2,180.8 382.3,178.2 383.4,185.3 384.5,183.6 385.6,186.4 386.7,184.4 387.9,187.6 389,186.9 390.1,186.5 391.2,184.2 392.3,187 393.4,183.7 394.6,176.6 395.7,184.1 396.8,183.4 397.9,183.9 399,187.2 400.1,188 401.3,186.2 402.4,188.3 403.5,185.7 404.6,183.1 405.7,178.3 406.8,185.9 408,182.2 409.1,183.1 410.2,180.7 411.3,187.6 412.4,183.8 413.5,182.8 414.7,179.5 415.8,186.8 416.9,182.8 418,187.1 419.1,181.4 420.2,184 421.3,181.7 422.5,188 423.6,187.7 424.7,188.8 425.8,189 426.9,190.2 428,189.7 429.2,189.8 430.3,188.4 431.4,188.8 432.5,188.9 433.6,188 434.7,190.1 435.9,190.8 437,189.5 438.1,190.4 439.2,190.7 440.3,190.8 441.4,191.5 442.6,191.8 443.7,191.9 444.8,192 445.9,191.7 447,191.8 448.1,191.9 449.3,192.2 450.4,191.7 451.5,192 452.6,192.4 453.7,191.4 454.8,192.5 456,192.2 457.1,192.6 458.2,191.9 459.3,192.6 460.4,192.8 461.5,192.8 462.7,192.7 463.8,192.3 464.9,192.8 466,193 466,193.7 322,186.8" fill="url(#ge9)"/>
<polygon points="321.6,186.3 322.7,183.4 323.8,185.1 324.9,187 326,187.1 327.1,185.1 328.3,187.1 329.4,182.9 330.5,187.3 331.6,184.8 332.7,183.6 333.8,187.4 335,187.5 336.1,187.4 337.2,187.6 338.3,185.1 339.4,186.6 340.5,187.6 341.6,187.2 342.8,187.9 343.9,187.9 345,185.3 346.1,184.6 347.2,187.7 348.3,187.8 349.5,186.4 350.6,187.7 351.7,187.2 352.8,184.7 353.9,187.1 355,187.5 356.2,186.9 357.3,187.3 358.4,187.8 359.5,187.7 360.6,188.4 361.7,184.2 362.9,187.4 364,188 365.1,187.3 366.2,184.3 367.3,183.7 368.4,182.6 369.6,181.8 370.7,185.6 371.8,173.7 372.9,182.9 374,186.3 375.1,177 376.3,181.8 377.4,184.8 378.5,181.2 379.6,183 380.7,183.4 381.8,178.3 383,185.8 384.1,186.4 385.2,186.7 386.3,187.1 387.4,188.6 388.5,187.6 389.6,183.7 390.8,186.1 391.9,184.6 393,177.9 394.1,182.5 395.2,182.8 396.3,186.6 397.5,187.1 398.6,189.6 399.7,186.8 400.8,190 401.9,187.7 403,187 404.2,182.9 405.3,179.9 406.4,188.6 407.5,183.8 408.6,186.6 409.7,182.7 410.9,188.8 412,187.2 413.1,187 414.2,181.5 415.3,187.6 416.4,182.8 417.6,185.7 418.7,184.8 419.8,186.6 420.9,180.9 422,189.4 423.1,190.2 424.3,188.6 425.4,190 426.5,188.6 427.6,188.6 428.7,190 429.8,190.4 431,191.4 432.1,189.6 433.2,189.7 434.3,191.2 435.4,189.1 436.5,190.5 437.6,190.8 438.8,191.8 439.9,191.7 441,192.4 442.1,191.6 443.2,191.4 444.3,191 445.5,192.8 446.6,192.7 447.7,192.4 448.8,192.7 449.9,193 451,193.1 452.2,192.3 453.3,191.8 454.4,193.1 455.5,193.2 456.6,193.3 457.7,193.4 458.9,192.5 460,193.5 461.1,193.6 462.2,192.5 463.3,193.6 464.4,193.7 465.6,193.3 465.6,194.4 321.6,187.5" fill="url(#ge8)"/>
<polygon points="321.1,185.1 322.2,185.6 323.3,186.4 324.5,187.5 325.6,187.3 326.7,187.2 327.8,187.9 328.9,187.9 330,188 331.2,184.6 332.3,187.9 333.4,188.2 334.5,186.3 335.6,186.7 336.7,188 337.9,186.7 339,185.5 340.1,185.4 341.2,185.8 342.3,186.5 343.4,188.7 344.6,188.1 345.7,187.6 346.8,185.7 347.9,188.8 349,188.1 350.1,188.9 351.3,189.1 352.4,188.1 353.5,187.2 354.6,187.6 355.7,188.6 356.8,187.7 357.9,186.9 359.1,189 360.2,187.7 361.3,188.1 362.4,188.7 363.5,188.4 364.6,186.8 365.8,186.9 366.9,185 368,186.6 369.1,183.8 370.2,181.5 371.3,178 372.5,181.2 373.6,187.7 374.7,179.5 375.8,181.9 376.9,186.8 378,179.8 379.2,187.8 380.3,183.1 381.4,181.5 382.5,188.2 383.6,189 384.7,188.4 385.9,190.1 387,189.5 388.1,187.4 389.2,188.7 390.3,189 391.4,189.6 392.6,185.7 393.7,182.7 394.8,185.8 395.9,186.7 397,188.5 398.1,190.3 399.3,187.5 400.4,187.9 401.5,190.7 402.6,188.6 403.7,184 404.8,179.8 405.9,187.8 407.1,186.9 408.2,187.6 409.3,185.5 410.4,189.4 411.5,187.3 412.6,186.6 413.8,185.9 414.9,190.1 416,185.1 417.1,189.8 418.2,183.9 419.3,187 420.5,186.5 421.6,187.5 422.7,190 423.8,190.1 424.9,190 426,190.8 427.2,191.7 428.3,191.7 429.4,192 430.5,192.3 431.6,191.2 432.7,191.3 433.9,191.7 435,192.4 436.1,192.9 437.2,192.6 438.3,192.6 439.4,192.7 440.6,192.5 441.7,191.7 442.8,193.3 443.9,193.5 445,193.6 446.1,193 447.3,192.7 448.4,193.2 449.5,193.7 450.6,192.1 451.7,193.5 452.8,193 453.9,193.4 455.1,194 456.2,194.1 457.3,194.1 458.4,194.2 459.5,193.6 460.6,194.3 461.8,192.9 462.9,193.9 464,194.5 465.1,194.5 465.1,195.2 321.1,188.3" fill="url(#ge7)"/>
<polygon points="320.7,185.6 321.8,188.3 322.9,187.2 324,188.2 325.1,188.6 326.2,184.3 327.4,187.1 328.5,188.7 329.6,186.6 330.7,188.8 331.8,187.8 332.9,188.3 334.1,185.2 335.2,189.1 336.3,186.3 337.4,184.5 338.5,187.4 339.6,188.4 340.8,189.3 341.9,187.6 343,188.4 344.1,189.4 345.2,185.1 346.3,188.9 347.5,187.5 348.6,189.3 349.7,189.4 350.8,188.8 351.9,187 353,189.6 354.2,187.5 355.3,189.9 356.4,189.9 357.5,188.8 358.6,189.2 359.7,187.5 360.9,185.4 362,189.3 363.1,190 364.2,188.2 365.3,185.5 366.4,186.2 367.6,188.6 368.7,186.2 369.8,188 370.9,183.8 372,181.2 373.1,188.3 374.2,181.7 375.4,182.7 376.5,188.8 377.6,182.2 378.7,186.8 379.8,185.8 380.9,181.7 382.1,189.6 383.2,190.2 384.3,188.4 385.4,190.8 386.5,190.2 387.6,189.5 388.8,188.3 389.9,189.6 391,189.7 392.1,188.2 393.2,186.6 394.3,187.8 395.5,189.6 396.6,189.5 397.7,191.3 398.8,191.5 399.9,191.7 401,188.7 402.2,190.5 403.3,188.1 404.4,187.6 405.5,189.9 406.6,184.7 407.7,188.5 408.9,189.2 410,190.1 411.1,189.7 412.2,188.3 413.3,184.3 414.4,190.7 415.6,185.6 416.7,191.4 417.8,187.3 418.9,185.9 420,189.4 421.1,191.3 422.2,191.3 423.4,191.8 424.5,191.5 425.6,192.4 426.7,191.6 427.8,191.4 428.9,192.3 430.1,190.9 431.2,191.2 432.3,191.4 433.4,192.2 434.5,193.1 435.6,193.6 436.8,193.3 437.9,193.6 439,193.4 440.1,194 441.2,194.1 442.3,192.9 443.5,193.5 444.6,193.1 445.7,194.4 446.8,194.2 447.9,193.4 449,194.4 450.2,194.5 451.3,194.6 452.4,194.4 453.5,193.7 454.6,194.7 455.7,194.8 456.9,194 458,194.3 459.1,195 460.2,195 461.3,194.9 462.4,195.1 463.6,195.2 464.7,194.3 464.7,195.9 320.7,189" fill="url(#ge6)"/>
<polygon points="320.2,185.4 321.3,187.8 322.5,188.8 323.6,188.6 324.7,187.9 325.8,187 326.9,189.3 328,189.1 329.2,187.7 330.3,188.8 331.4,186.6 332.5,189.2 333.6,189.8 334.7,188 335.9,189.9 337,189.6 338.1,190 339.2,185.7 340.3,189.9 341.4,186.6 342.5,187.9 343.7,188.4 344.8,189.8 345.9,189.9 347,188.7 348.1,189.8 349.2,190.3 350.4,190.5 351.5,189.7 352.6,190.6 353.7,187.3 354.8,190.6 355.9,188.7 357.1,190.2 358.2,189.8 359.3,190.8 360.4,189.8 361.5,189.9 362.6,187.5 363.8,189.6 364.9,188.3 366,185.8 367.1,190.5 368.2,185 369.3,186.5 370.5,183.3 371.6,187.4 372.7,188.9 373.8,185.4 374.9,187.1 376,188.8 377.2,188 378.3,189.2 379.4,189.1 380.5,183.3 381.6,191 382.7,190.9 383.9,190.7 385,189.4 386.1,191.7 387.2,191.6 388.3,190.2 389.4,191.5 390.5,191.4 391.7,188 392.8,187.6 393.9,186.7 395,190.9 396.1,188.9 397.2,191.4 398.4,192.4 399.5,192.4 400.6,191.4 401.7,190.1 402.8,190.8 403.9,187.9 405.1,190.4 406.2,186.7 407.3,189.8 408.4,188.6 409.5,191.6 410.6,191.3 411.8,190.9 412.9,188.3 414,192.5 415.1,188.1 416.2,191.4 417.3,189 418.5,191.2 419.6,188.9 420.7,192.7 421.8,192.6 422.9,193.5 424,192.5 425.2,192.7 426.3,193 427.4,194 428.5,193.6 429.6,193.6 430.7,193.2 431.9,193.1 433,193.9 434.1,192.9 435.2,192.4 436.3,193.9 437.4,194.5 438.5,194.4 439.7,194.3 440.8,194.4 441.9,193.9 443,195 444.1,195 445.2,194.7 446.4,193.7 447.5,195.2 448.6,194.1 449.7,194.8 450.8,195.4 451.9,195 453.1,195.4 454.2,194.3 455.3,195.5 456.4,195.6 457.5,194.8 458.6,195.4 459.8,195.8 460.9,195.8 462,195.9 463.1,196 464.2,196 464.2,196.7 320.2,189.8" fill="url(#ge5)"/>
<polygon points="319.8,189.8 320.9,189.9 322,190 323.1,190 324.2,189.3 325.4,189.9 326.5,189.9 327.6,188.4 328.7,187.3 329.8,186.8 330.9,190.4 332.1,187.4 333.2,190.5 334.3,190.5 335.4,189.8 336.5,190.6 337.6,190.7 338.8,190.7 339.9,190.8 341,188.3 342.1,190.3 343.2,190.1 344.3,189.2 345.5,191.1 346.6,191.1 347.7,191 348.8,190.1 349.9,191 351,190.9 352.1,190.8 353.3,191.4 354.4,186.9 355.5,187.8 356.6,189.3 357.7,189.9 358.8,191 360,190.8 361.1,190.7 362.2,188.4 363.3,190.3 364.4,187.5 365.5,188.4 366.7,190.5 367.8,189.9 368.9,186.2 370,184.7 371.1,187.3 372.2,191.4 373.4,187.7 374.5,188.9 375.6,187 376.7,186.4 377.8,187.7 378.9,190.3 380.1,190 381.2,190.9 382.3,190.2 383.4,191.4 384.5,191.4 385.6,192.6 386.8,189.4 387.9,189.1 389,192.2 390.1,192 391.2,190 392.3,190.1 393.5,190.1 394.6,192.3 395.7,191.2 396.8,192.2 397.9,192.8 399,193.1 400.1,193.2 401.3,192.9 402.4,190.6 403.5,191.2 404.6,190.8 405.7,192.5 406.8,190.4 408,190.2 409.1,190.8 410.2,193.1 411.3,189.3 412.4,191.1 413.5,193.3 414.7,190.8 415.8,193.1 416.9,190.7 418,193.2 419.1,192 420.2,193 421.4,194.4 422.5,193.4 423.6,194.2 424.7,193.7 425.8,193.9 426.9,194.1 428.1,194.4 429.2,193.9 430.3,194.3 431.4,194.8 432.5,194.8 433.6,193.5 434.8,195.3 435.9,195.2 437,193.8 438.1,195.2 439.2,195.5 440.3,194.9 441.5,194.7 442.6,195.6 443.7,194.8 444.8,195.8 445.9,195.9 447,195.9 448.1,195.9 449.3,196.1 450.4,196 451.5,196.2 452.6,195.2 453.7,195.1 454.8,195.1 456,196.4 457.1,194.8 458.2,196.4 459.3,196 460.4,195.4 461.5,196.4 462.7,196.5 463.8,196.3 463.8,197.4 319.8,190.5" fill="url(#ge4)"/>
<polygon points="319.3,188.1 320.4,190 321.6,190.4 322.7,189.7 323.8,190.2 324.9,190.9 326,189.6 327.1,190.9 328.3,190.6 329.4,191.1 330.5,190.2 331.6,191.2 332.7,190.9 333.8,191.1 335,191.3 336.1,191.4 337.2,191.4 338.3,191.5 339.4,190.5 340.5,188.2 341.7,191.6 342.8,189.6 343.9,191.7 345,191.8 346.1,188.9 347.2,191.6 348.4,189.1 349.5,191.5 350.6,191.7 351.7,191.6 352.8,189.2 353.9,192.2 355.1,192.3 356.2,191.1 357.3,192.3 358.4,192.4 359.5,189.6 360.6,192.1 361.8,189.4 362.9,191 364,191.5 365.1,188.1 366.2,192.5 367.3,191.4 368.4,191.5 369.6,187.2 370.7,190 371.8,191.9 372.9,191.7 374,191.2 375.1,192.2 376.3,190.8 377.4,192.7 378.5,192.6 379.6,192 380.7,192.7 381.8,192.9 383,192.1 384.1,192 385.2,193.6 386.3,192.7 387.4,191.1 388.5,192.8 389.7,193.2 390.8,192.8 391.9,191.8 393,193.5 394.1,193.3 395.2,193.7 396.4,192.6 397.5,194.2 398.6,191.8 399.7,194.2 400.8,193.6 401.9,193.2 403.1,190.8 404.2,194.2 405.3,192.8 406.4,192.1 407.5,194 408.6,193.9 409.8,192.7 410.9,194.3 412,193.1 413.1,194.5 414.2,193 415.3,192.7 416.4,193.2 417.6,194.3 418.7,194.5 419.8,195.1 420.9,192.7 422,195.1 423.1,195.2 424.3,193 425.4,195.3 426.5,194 427.6,193.6 428.7,194 429.8,193.6 431,195.4 432.1,195.6 433.2,196 434.3,193.9 435.4,194.6 436.5,194.8 437.7,196.1 438.8,195.8 439.9,196 441,196.3 442.1,196.5 443.2,196.4 444.4,195.9 445.5,196.2 446.6,196.4 447.7,196.5 448.8,196.7 449.9,196.9 451.1,196.9 452.2,195.3 453.3,197 454.4,197.1 455.5,197.1 456.6,196.5 457.8,197.1 458.9,196.4 460,197.3 461.1,197.4 462.2,197.4 463.3,197.5 463.3,198.2 319.3,191.3" fill="url(#ge3)"/>
<polygon points="318.9,190.1 320,188 321.1,187.6 322.2,191.5 323.4,191.6 324.5,188 325.6,191.6 326.7,188.9 327.8,190.5 328.9,189.2 330.1,191.5 331.2,191.2 332.3,191.1 333.4,192 334.5,190.5 335.6,192 336.7,191.4 337.9,190 339,192.3 340.1,190.1 341.2,188.1 342.3,192.1 343.4,192.1 344.6,190.5 345.7,191.3 346.8,188.2 347.9,190.1 349,190.3 350.1,189.4 351.3,189.8 352.4,191.7 353.5,191.7 354.6,192.6 355.7,192.6 356.8,192.2 358,192.4 359.1,191.6 360.2,192.5 361.3,193.3 362.4,193.2 363.5,193.2 364.7,192.8 365.8,193 366.9,193.1 368,190.8 369.1,192.9 370.2,193 371.4,192.8 372.5,190.5 373.6,193.4 374.7,192.1 375.8,193 376.9,193.4 378.1,193.7 379.2,191.8 380.3,192.8 381.4,194.2 382.5,194.2 383.6,191.7 384.7,190.7 385.9,194.4 387,193.4 388.1,194.3 389.2,193.9 390.3,194.2 391.4,194.1 392.6,193.7 393.7,192.5 394.8,193.4 395.9,192.3 397,195 398.1,194.6 399.3,195.1 400.4,193.7 401.5,192.1 402.6,194.2 403.7,195.2 404.8,194.9 406,192.2 407.1,195 408.2,195.2 409.3,193 410.4,195.4 411.5,193.7 412.7,194.4 413.8,194.8 414.9,193.3 416,193.8 417.1,195.3 418.2,195 419.4,195.9 420.5,195.9 421.6,196 422.7,194.6 423.8,193.7 424.9,195.8 426.1,196.2 427.2,196 428.3,196.5 429.4,194.7 430.5,196.1 431.6,194.6 432.7,194.7 433.9,196.3 435,196.9 436.1,196.6 437.2,196.4 438.3,196 439.4,197 440.6,197.1 441.7,196.8 442.8,197.3 443.9,196.3 445,197.3 446.1,197.2 447.3,196.6 448.4,197.5 449.5,196.8 450.6,197.5 451.7,197.6 452.8,197.7 454,197.6 455.1,197.1 456.2,197.8 457.3,198 458.4,198 459.5,198.1 460.7,197.7 461.8,197.2 462.9,197.4 462.9,198.9 318.9,192" fill="url(#ge2)"/>
<polygon points="318.4,191 319.6,192.1 320.7,192.2 321.8,188.3 322.9,190.5 324,190.3 325.1,188 326.3,192 327.4,190.4 328.5,188.7 329.6,191.1 330.7,192.3 331.8,192.7 333,192.3 334.1,192.2 335.2,190.3 336.3,192.8 337.4,192.6 338.5,193.1 339.7,192.5 340.8,193.2 341.9,193.1 343,190.4 344.1,189.6 345.2,191.6 346.4,191.2 347.5,193.2 348.6,192.3 349.7,193.4 350.8,190 351.9,193.6 353,191.5 354.2,191.7 355.3,193.8 356.4,193.2 357.5,193.9 358.6,193.7 359.7,194.1 360.9,194.1 362,193.9 363.1,194 364.2,193.4 365.3,193.9 366.4,194 367.6,192.3 368.7,192.7 369.8,194.1 370.9,194.5 372,194.1 373.1,193.8 374.3,194.5 375.4,194 376.5,194.6 377.6,192.9 378.7,193.1 379.8,192.3 381,194.9 382.1,193.8 383.2,195 384.3,193.3 385.4,194.7 386.5,195.4 387.7,195.4 388.8,193.8 389.9,192 391,192.7 392.1,195.3 393.2,193.6 394.4,195 395.5,195.8 396.6,194.1 397.7,195.1 398.8,194.7 399.9,195.7 401,195.9 402.2,196.1 403.3,194.1 404.4,195.1 405.5,196.2 406.6,196.3 407.7,196.3 408.9,196.4 410,194.4 411.1,196.4 412.2,196.4 413.3,194 414.4,196.4 415.6,195.9 416.7,196.8 417.8,196.3 418.9,196.9 420,196.6 421.1,194.5 422.3,196.9 423.4,194.9 424.5,197.2 425.6,196.1 426.7,197.3 427.8,195.9 429,196.5 430.1,197.4 431.2,197.4 432.3,197.5 433.4,197.6 434.5,197.5 435.7,197.5 436.8,197.8 437.9,197.1 439,197.7 440.1,197.9 441.2,197.9 442.4,198 443.5,197.7 444.6,197.3 445.7,197.5 446.8,197.3 447.9,198.2 449,196.8 450.2,198.2 451.3,198.4 452.4,197.5 453.5,198.5 454.6,198.4 455.7,198.7 456.9,198.7 458,198.8 459.1,197.6 460.2,198.9 461.3,198.9 462.4,198.9 462.4,199.7 318.4,192.8" fill="url(#ge1)"/>
<polygon points="318,192.7 319.1,192.6 320.2,189.6 321.3,193 322.5,191.1 323.6,192.5 324.7,193.2 325.8,193.2 326.9,192 328,192.7 329.2,193.3 330.3,190.5 331.4,193.2 332.5,189.8 333.6,192.3 334.7,189 335.9,191.2 337,192.7 338.1,193.6 339.2,192.7 340.3,189.5 341.4,192.8 342.6,193.2 343.7,191.8 344.8,190.2 345.9,190.1 347,194.2 348.1,194 349.3,192.7 350.4,191.2 351.5,190.8 352.6,194.4 353.7,194.5 354.8,194.3 356,194.7 357.1,194.5 358.2,194.8 359.3,194.6 360.4,194.9 361.5,194.9 362.7,191.2 363.8,194.2 364.9,195 366,194.7 367.1,193.1 368.2,190.9 369.3,195 370.5,194.1 371.6,195.3 372.7,194 373.8,194.6 374.9,195.4 376,194.7 377.2,193.6 378.3,192.7 379.4,193.6 380.5,192.5 381.6,194.3 382.7,194.8 383.9,195.7 385,192.3 386.1,196.1 387.2,194.1 388.3,195.9 389.4,193.5 390.6,193.7 391.7,196.4 392.8,193.4 393.9,196.2 395,195.6 396.1,196.4 397.3,196.1 398.4,196.6 399.5,196.7 400.6,194.6 401.7,196.8 402.8,196.7 404,196.9 405.1,196.8 406.2,197.1 407.3,197 408.4,196.5 409.5,195.8 410.7,195.5 411.8,195 412.9,196.8 414,196 415.1,196.9 416.2,197.4 417.3,197.3 418.5,197.5 419.6,197.7 420.7,197.8 421.8,197.8 422.9,197.5 424,197.9 425.2,197.5 426.3,198 427.4,198.1 428.5,198.1 429.6,198.2 430.7,197.7 431.9,197.5 433,198.3 434.1,196.2 435.2,198.4 436.3,198.4 437.4,197.7 438.6,197.3 439.7,198 440.8,198.6 441.9,198.7 443,197.3 444.1,198.1 445.3,198.2 446.4,198.4 447.5,199 448.6,198.9 449.7,198.9 450.8,199.2 452,197.6 453.1,199.3 454.2,197.9 455.3,199.4 456.4,199.4 457.5,198.5 458.7,199.6 459.8,199 460.9,198.6 462,199.7 462,200.4 318,193.5" fill="url(#ge0)"/>
<polygon points="308.5,231.9 537.3,288.0 539.8,292.1 539.5,324.5 535.0,327.4 513.0,322.0 513.0,321.0 314.0,272.3 313.0,275.5 300.0,273.3 299.3,247.7 300.5,237.0 303.5,232.7" fill="url(#body)" stroke="#999" stroke-width="0.4"/>
<polygon points="300.5,237.0 303.5,232.7 308.5,231.9 322.0,235.2 315.0,246.5 313.7,247.2 301.0,240.1" fill="#c0c0c0"/>
<polygon points="301.0,240.1 313.7,247.2 313.7,272.7 301.0,270.1" fill="#bdbdbd" stroke="#8a8a8a" stroke-width="0.5"/>
<polygon points="302.5,246.0 313.0,248.5 313.0,268.5 302.5,266.5" fill="#9a9a9a"/>
<rect x="303.8" y="246" width="4.7" height="15.6" rx="1.6" fill="#ffffff" stroke="#7a7a7a" stroke-width="0.5"/>
<polygon points="526.5,290.3 538.8,292.3 538.6,323.3 526.5,323.8" fill="#c6c6c6" stroke="#8c8c8c" stroke-width="0.5"/>
<polygon points="528.0,292.0 537.5,293.0 537.5,316.0 528.0,318.0" fill="#a8a8a8"/>
<rect x="530.7" y="295.6" width="4.7" height="17" rx="1.6" fill="#ffffff" stroke="#7a7a7a" stroke-width="0.5"/>
<polygon points="512.7,305.0 523.0,307.5 523.0,321.2 512.7,318.7" fill="#8a8a8a"/>
<polygon points="514.0,307.0 521.5,309.0 521.5,319.5 514.0,317.5" fill="#a4a4a4"/>
<polygon points="319.5,233.6 349.9,240.5 342.9,248.8 316.3,241.8" fill="#cc1616"/>
<polygon points="316.3,241.8 342.9,248.8 342.6,250.2 316.2,243.2" fill="#8a0a0a"/>
<polygon points="471.0,271.7 537.3,288.0 539.5,291.0 531.0,298.9 461.5,283.4 459.5,280.4" fill="url(#green)"/>
<line x1="484" y1="266.5" x2="517" y2="273.5" stroke="#40b840" stroke-width="0.7"/>
<line x1="486" y1="268" x2="500" y2="278" stroke="#40b840" stroke-width="0.7"/>
<line x1="500" y1="278" x2="512" y2="272" stroke="#40b840" stroke-width="0.7"/>
<line x1="490" y1="272" x2="506" y2="270" stroke="#40b840" stroke-width="0.7"/>
<line x1="509" y1="271" x2="514" y2="276" stroke="#40b840" stroke-width="0.7"/>
<line x1="512" y1="271" x2="517" y2="276" stroke="#40b840" stroke-width="0.7"/>
<line x1="515" y1="270.5" x2="520" y2="275" stroke="#40b840" stroke-width="0.7"/>
<line x1="478" y1="276" x2="495" y2="283" stroke="#40b840" stroke-width="0.7"/>
<line x1="495" y1="283" x2="500" y2="276" stroke="#40b840" stroke-width="0.7"/>
<polygon points="483,265 487.5,265.8 484.5,268.5" fill="#3cb43c"/>
<line x1="302" y1="274.6" x2="526" y2="329.5" stroke="#505050" stroke-width="1"/>
<polygon points="314.0,278.6 319.5,279.9 318.5,282.0 313.0,280.7" fill="#484848"/>
<polygon points="333.0,283.2 338.5,284.5 337.5,286.6 332.0,285.3" fill="#484848"/>
<polygon points="352.0,287.9 357.5,289.2 356.5,291.3 351.0,290.0" fill="#484848"/>
<polygon points="371.0,292.5 376.5,293.8 375.5,295.9 370.0,294.6" fill="#484848"/>
<polygon points="390.0,297.2 395.5,298.5 394.5,300.6 389.0,299.3" fill="#484848"/>
<polygon points="409.0,301.8 414.5,303.1 413.5,305.2 408.0,303.9" fill="#484848"/>
<polygon points="428.0,306.5 433.5,307.8 432.5,309.9 427.0,308.6" fill="#484848"/>
<polygon points="447.0,311.2 452.5,312.5 451.5,314.6 446.0,313.3" fill="#484848"/>
<polygon points="466.0,315.8 471.5,317.1 470.5,319.2 465.0,317.9" fill="#484848"/>
<polygon points="485.0,320.5 490.5,321.8 489.5,323.9 484.0,322.6" fill="#484848"/>
<polygon points="504.0,325.1 509.5,326.4 508.5,328.5 503.0,327.2" fill="#484848"/>
<polygon points="364.6,284.0 402.1,293.2 400.9,298.4 364.1,289.3" fill="#1616c8"/>
<polygon points="412.1,295.9 434.8,301.5 433.6,306.4 411.6,301.0" fill="#d01414"/>
<polygon points="444.0,303.4 474.0,310.8 472.8,316.5 443.5,309.3" fill="#22c422"/>
<ellipse cx="335.9" cy="281.2" rx="2.0" ry="1.7" fill="#20b0c0"/>
<ellipse cx="316.9" cy="275.0" rx="2.2" ry="1.4" fill="#e02020"/>
<ellipse cx="319.6" cy="275.7" rx="1.3" ry="1.3" fill="#ffffff"/>
<ellipse cx="324.0" cy="278.2" rx="1.5" ry="0.9" fill="#ffffff"/>
<ellipse cx="321.1" cy="277.9" rx="1.2" ry="1.4" fill="#e02020"/>
<ellipse cx="320.2" cy="278.6" rx="1.0" ry="1.5" fill="#e02020"/>
<ellipse cx="343.9" cy="280.7" rx="2.2" ry="1.3" fill="#e0e020"/>
<ellipse cx="321.8" cy="279.0" rx="1.2" ry="1.7" fill="#ffffff"/>
<ellipse cx="325.6" cy="276.6" rx="1.2" ry="0.9" fill="#ffffff"/>
<ellipse cx="326.6" cy="279.4" rx="1.7" ry="1.3" fill="#2020d0"/>
<ellipse cx="318.1" cy="274.7" rx="1.4" ry="1.4" fill="#e02020"/>
<ellipse cx="331.4" cy="279.9" rx="1.1" ry="1.7" fill="#d02020"/>
<ellipse cx="346.4" cy="281.7" rx="1.5" ry="1.3" fill="#ffffff"/>
<ellipse cx="327.7" cy="278.3" rx="1.0" ry="0.8" fill="#e02020"/>
<ellipse cx="336.0" cy="282.4" rx="1.1" ry="1.0" fill="#c02020"/>
<ellipse cx="327.0" cy="276.9" rx="1.7" ry="1.5" fill="#ffffff"/>
<ellipse cx="334.9" cy="281.2" rx="1.5" ry="1.0" fill="#ffffff"/>
<ellipse cx="346.3" cy="280.2" rx="1.4" ry="1.4" fill="#e02020"/>
<ellipse cx="326.9" cy="280.0" rx="1.7" ry="1.1" fill="#2020d0"/>
<ellipse cx="325.8" cy="279.1" rx="1.8" ry="1.5" fill="#d020d0"/>
<ellipse cx="347.9" cy="281.0" rx="1.1" ry="1.7" fill="#20b0c0"/>
<ellipse cx="345.6" cy="279.7" rx="1.9" ry="1.1" fill="#d020d0"/>
<ellipse cx="330.6" cy="278.2" rx="1.1" ry="1.7" fill="#d02020"/>
<ellipse cx="341.7" cy="280.4" rx="1.3" ry="1.7" fill="#ffffff"/>
<ellipse cx="346.4" cy="283.2" rx="2.0" ry="0.9" fill="#ffffff"/>
<ellipse cx="327.9" cy="275.5" rx="1.5" ry="0.9" fill="#ffffff"/>
<ellipse cx="503.3" cy="323.5" rx="1.6" ry="1.2" fill="#2020d0"/>
<ellipse cx="491.3" cy="316.8" rx="1.5" ry="0.9" fill="#ffffff"/>
<ellipse cx="502.3" cy="320.8" rx="1.2" ry="1.7" fill="#2020d0"/>
<ellipse cx="481.8" cy="315.6" rx="1.6" ry="1.3" fill="#20b0c0"/>
<ellipse cx="487.6" cy="318.6" rx="2.0" ry="1.4" fill="#d02020"/>
<ellipse cx="500.3" cy="319.4" rx="1.9" ry="1.0" fill="#c02020"/>
<ellipse cx="484.5" cy="318.9" rx="1.9" ry="1.7" fill="#2020d0"/>
<ellipse cx="496.8" cy="319.7" rx="1.0" ry="1.3" fill="#d020d0"/>
<ellipse cx="486.4" cy="315.5" rx="1.4" ry="1.3" fill="#2020d0"/>
<ellipse cx="487.1" cy="317.7" rx="1.9" ry="1.6" fill="#2020d0"/>
<ellipse cx="505.5" cy="319.6" rx="2.1" ry="1.2" fill="#2020d0"/>
<ellipse cx="506.6" cy="321.8" rx="1.7" ry="0.9" fill="#2020d0"/>
<ellipse cx="506.0" cy="321.4" rx="1.9" ry="1.5" fill="#ffffff"/>
<ellipse cx="481.5" cy="317.1" rx="1.7" ry="1.4" fill="#ffffff"/>
<ellipse cx="485.7" cy="316.9" rx="2.1" ry="1.0" fill="#d02020"/>
<ellipse cx="482.3" cy="316.2" rx="1.8" ry="0.9" fill="#e02020"/>
<ellipse cx="496.2" cy="316.6" rx="1.6" ry="1.0" fill="#d02020"/>
<ellipse cx="504.5" cy="319.1" rx="2.2" ry="1.2" fill="#20b0c0"/>
<ellipse cx="477.1" cy="314.3" rx="1.5" ry="1.4" fill="#ffffff"/>
<ellipse cx="482.5" cy="317.0" rx="1.5" ry="1.1" fill="#d020d0"/>
<ellipse cx="503.4" cy="322.9" rx="1.9" ry="1.3" fill="#d02020"/>
<ellipse cx="493.6" cy="317.4" rx="1.4" ry="1.3" fill="#ffffff"/>
<ellipse cx="485.4" cy="315.7" rx="1.2" ry="1.2" fill="#ffffff"/>
<ellipse cx="496.6" cy="318.5" rx="1.2" ry="1.3" fill="#ffffff"/>
<ellipse cx="491.3" cy="316.3" rx="1.2" ry="0.8" fill="#d02020"/>
<ellipse cx="488.2" cy="316.2" rx="2.1" ry="1.3" fill="#2020d0"/>
<text x="3" y="13.6" font-size="8.9" font-weight="bold">(a)</text>
<line x1="44.5" y1="13.5" x2="44.5" y2="70.7" stroke="#bbb" stroke-width="0.8"/>
<text x="43.6" y="17.9" font-size="7.4" text-anchor="end">1.5×10<tspan font-size="4.1" dy="-3.7">−4</tspan></text>
<text x="43.6" y="31.9" font-size="7.4" text-anchor="end">1.125×10<tspan font-size="4.1" dy="-3.7">−4</tspan></text>
<text x="43.6" y="45.9" font-size="7.4" text-anchor="end">7.5×10<tspan font-size="4.1" dy="-3.7">−5</tspan></text>
<text x="43.6" y="59.9" font-size="7.4" text-anchor="end">3.75×10<tspan font-size="4.1" dy="-3.7">−5</tspan></text>
<text x="43.6" y="74" font-size="7.8" text-anchor="end">0.0</text>
<text transform="translate(9,42) rotate(-90)" font-size="9.1" text-anchor="middle">PSD(g<tspan font-size="5.5" dy="-3.6">2</tspan><tspan dy="3.6">·Hz</tspan><tspan font-size="5.5" dy="-3.6">−1</tspan><tspan dy="3.6">)</tspan></text>
<text x="40.5" y="79.1" font-size="8.3">0.0</text>
<text x="57.7" y="82.2" font-size="8.3">12.5</text>
<text x="83.5" y="88.5" font-size="8.3">25.0</text>
<text x="109.5" y="93.3" font-size="8.3">37.5</text>
<text x="132.3" y="98.1" font-size="8.3">50.0</text>
<text x="56.6" y="102.9" font-size="9.5">Frequency / Hz</text>
<text x="152.6" y="62.3" font-size="8.3">Time / s</text>
<text x="167.5" y="71" font-size="8.3">500</text>
<text x="162.1" y="77.3" font-size="8.3">400</text>
<text x="157.7" y="83.6" font-size="8.3">300</text>
<text x="152.6" y="89.3" font-size="8.3">200</text>
<text x="147.9" y="95.3" font-size="8.3">100</text>
<text x="92.5" y="15.1" font-size="9.4">Lateral resonance of</text>
<text x="96.4" y="23.9" font-size="9.2">traction converter</text>
<line x1="103" y1="23.7" x2="93.6" y2="27.7" stroke="#000" stroke-width="1.0"/>
<polygon points="86.7,30.6 93.4,24.7 92.6,28.1 95.6,29.9" fill="#000"/>
<text x="181.2" y="14.2" font-size="8.9" font-weight="bold">(b)</text>
<line x1="222.8" y1="13.5" x2="222.8" y2="67.5" stroke="#bbb" stroke-width="0.8"/>
<text x="221.5" y="15.5" font-size="7.4" text-anchor="end">1.5×10<tspan font-size="4.1" dy="-3.7">−4</tspan></text>
<text x="221.5" y="29.5" font-size="7.4" text-anchor="end">1.125×10<tspan font-size="4.1" dy="-3.7">−4</tspan></text>
<text x="221.5" y="43.5" font-size="7.4" text-anchor="end">7.5×10<tspan font-size="4.1" dy="-3.7">−5</tspan></text>
<text x="221.5" y="57.5" font-size="7.4" text-anchor="end">3.75×10<tspan font-size="4.1" dy="-3.7">−5</tspan></text>
<text x="221.5" y="72" font-size="7.8" text-anchor="end">0.0</text>
<text transform="translate(189.3,40.6) rotate(-90)" font-size="9.1" text-anchor="middle">PSD(g<tspan font-size="5.5" dy="-3.6">2</tspan><tspan dy="3.6">·Hz</tspan><tspan font-size="5.5" dy="-3.6">−1</tspan><tspan dy="3.6">)</tspan></text>
<text x="217.5" y="77.2" font-size="8.3">0.0</text>
<text x="237.6" y="82.7" font-size="8.3">12.5</text>
<text x="261" y="87.5" font-size="8.3">25.0</text>
<text x="284.8" y="91.5" font-size="8.3">37.5</text>
<text x="311" y="96.9" font-size="8.3">50.0</text>
<text x="236" y="101.5" font-size="9.5">Frequency / Hz</text>
<text x="328" y="57.6" font-size="9.3">Time / s</text>
<text x="341.4" y="65.9" font-size="8.3">1400</text>
<text x="336.5" y="72.3" font-size="8.3">1300</text>
<text x="332.5" y="78.6" font-size="8.3">1200</text>
<text x="328.5" y="84.7" font-size="8.3">1100</text>
<text x="323.5" y="90.9" font-size="8.3">1000</text>
<text x="314.5" y="10.6" font-size="9.3" text-anchor="middle">Energy exchange between</text>
<text x="314.5" y="19.6" font-size="9.3" text-anchor="middle">lateral resonance of</text>
<text x="314.5" y="28.7" font-size="9.3" text-anchor="middle">underframe equipment</text>
<text x="314.5" y="37.8" font-size="9.3" text-anchor="middle">and the rolling modal</text>
<text x="314.5" y="47.1" font-size="9.3" text-anchor="middle">vibration of carbody</text>
<line x1="274.8" y1="17" x2="268.3" y2="14.9" stroke="#000" stroke-width="1.0"/>
<polygon points="261.1,12.7 270.0,12.6 267.2,14.6 268.4,17.9" fill="#000"/>
<line x1="274.8" y1="17" x2="251.7" y2="26.5" stroke="#000" stroke-width="1.0"/>
<polygon points="244.8,29.4 251.6,23.6 250.7,27.0 253.7,28.7" fill="#000"/>
<text x="370.4" y="13.9" font-size="8.9" font-weight="bold">(c)</text>
<line x1="397.8" y1="29.5" x2="397.8" y2="86" stroke="#bbb" stroke-width="0.8"/>
<text x="396.5" y="33.1" font-size="7.4" text-anchor="end">8.0×10<tspan font-size="4.1" dy="-3.7">−5</tspan></text>
<text x="396.5" y="47.2" font-size="7.4" text-anchor="end">6.0×10<tspan font-size="4.1" dy="-3.7">−5</tspan></text>
<text x="396.5" y="61.3" font-size="7.4" text-anchor="end">4.0×10<tspan font-size="4.1" dy="-3.7">−5</tspan></text>
<text x="396.5" y="75.4" font-size="7.4" text-anchor="end">2.0×10<tspan font-size="4.1" dy="-3.7">−5</tspan></text>
<text x="396.3" y="89.6" font-size="7.8" text-anchor="end">0.0</text>
<text transform="translate(368.3,57.5) rotate(-90)" font-size="9.1" text-anchor="middle">PSD(g<tspan font-size="5.5" dy="-3.6">2</tspan><tspan dy="3.6">·Hz</tspan><tspan font-size="5.5" dy="-3.6">−1</tspan><tspan dy="3.6">)</tspan></text>
<text x="394" y="95.6" font-size="8.3">0.0</text>
<text x="418.9" y="95.6" font-size="8.3">12.5</text>
<text x="450.4" y="96.3" font-size="8.3">25.0</text>
<text x="481" y="98.5" font-size="8.3">37.5</text>
<text x="506.5" y="99.9" font-size="8.3">50.0</text>
<text x="425.5" y="105.6" font-size="9.5">Frequency / Hz</text>
<text x="514.5" y="62.7" font-size="9.3">Time / s</text>
<text x="528" y="69.7" font-size="8.3">1500</text>
<text x="525" y="78.7" font-size="8.3">1400</text>
<text x="524" y="87.1" font-size="8.3">1300</text>
<text x="522" y="95.7" font-size="8.3">1200</text>
<ellipse cx="426.6" cy="11.2" rx="7.4" ry="8.3" fill="none" stroke="#e02020" stroke-width="1" stroke-dasharray="1.5,1.2"/>
<text x="487" y="20.1" font-size="9.45" text-anchor="middle">Lateral coupled resonance</text>
<text x="488" y="28.6" font-size="9.45" text-anchor="middle">(9.3 Hz)</text>
<text x="53.6" y="127.5" font-size="8.9" font-weight="bold">(d)</text>
<line x1="90.7" y1="128" x2="90.7" y2="194" stroke="#bbb" stroke-width="0.8"/>
<text x="89.5" y="131.8" font-size="7.4" text-anchor="end">6.0×10<tspan font-size="4.1" dy="-3.7">−5</tspan></text>
<text x="89.5" y="147.9" font-size="7.4" text-anchor="end">4.5×10<tspan font-size="4.1" dy="-3.7">−5</tspan></text>
<text x="89.5" y="164" font-size="7.4" text-anchor="end">3.0×10<tspan font-size="4.1" dy="-3.7">−5</tspan></text>
<text x="89.5" y="180.1" font-size="7.4" text-anchor="end">1.5×10<tspan font-size="4.1" dy="-3.7">−5</tspan></text>
<text x="89.5" y="196.4" font-size="7.8" text-anchor="end">0.0</text>
<text transform="translate(62,158.6) rotate(-90)" font-size="9.1" text-anchor="middle">PSD(g<tspan font-size="5.5" dy="-3.6">2</tspan><tspan dy="3.6">·Hz</tspan><tspan font-size="5.5" dy="-3.6">−1</tspan><tspan dy="3.6">)</tspan></text>
<text x="82.3" y="204.6" font-size="8.3">200.0</text>
<text x="111.5" y="204.6" font-size="8.3">262.5</text>
<text x="150.3" y="205.5" font-size="8.3">325.0</text>
<text x="184" y="206.5" font-size="8.3">387.5</text>
<text x="218.5" y="208.9" font-size="8.3">450.0</text>
<text x="126.4" y="214.8" font-size="9.5">Frequency / Hz</text>
<text x="227.3" y="179.2" font-size="9.3">Time / s</text>
<text x="243.2" y="186.2" font-size="8.3">500</text>
<text x="239.1" y="194.5" font-size="8.3">300</text>
<text x="234.9" y="202.6" font-size="8.3">100</text>
<text x="151.1" y="121.6" font-size="9.2" font-weight="bold">290 Hz</text>
<line x1="160.9" y1="122.9" x2="157.1" y2="129.7" stroke="#000" stroke-width="1.0"/>
<polygon points="153.5,136.3 155.2,127.5 156.6,130.7 160.1,130.2" fill="#000"/>
<text x="188.9" y="136" font-size="9.2" font-weight="bold">350 Hz</text>
<line x1="198.7" y1="137" x2="189" y2="147.8" stroke="#000" stroke-width="1.0"/>
<polygon points="184,153.4 187.6,145.2 188.3,148.7 191.8,148.9" fill="#000"/>
<text x="283.4" y="126.4" font-size="8.9" font-weight="bold">(e)</text>
<line x1="319.2" y1="126" x2="319.2" y2="193.5" stroke="#bbb" stroke-width="0.8"/>
<text x="318.5" y="129.4" font-size="7.4" text-anchor="end">6.0×10<tspan font-size="4.1" dy="-3.7">−5</tspan></text>
<text x="318.5" y="145.9" font-size="7.4" text-anchor="end">4.5×10<tspan font-size="4.1" dy="-3.7">−5</tspan></text>
<text x="318.5" y="162.4" font-size="7.4" text-anchor="end">3.0×10<tspan font-size="4.1" dy="-3.7">−5</tspan></text>
<text x="318.5" y="178.9" font-size="7.4" text-anchor="end">1.5×10<tspan font-size="4.1" dy="-3.7">−5</tspan></text>
<text x="318.5" y="195.5" font-size="7.8" text-anchor="end">0.0</text>
<text transform="translate(292,161) rotate(-90)" font-size="9.1" text-anchor="middle">PSD(g<tspan font-size="5.5" dy="-3.6">2</tspan><tspan dy="3.6">·Hz</tspan><tspan font-size="5.5" dy="-3.6">−1</tspan><tspan dy="3.6">)</tspan></text>
<text x="312.6" y="204" font-size="8.3">200.0</text>
<text x="348" y="204" font-size="8.3">262.5</text>
<text x="383.2" y="204.6" font-size="8.3">325.0</text>
<text x="418.5" y="206.1" font-size="8.3">387.5</text>
<text x="452.4" y="207" font-size="8.3">450.0</text>
<text x="360.9" y="213.4" font-size="9.5">Frequency / Hz</text>
<text x="464.4" y="176.7" font-size="9.3">Time / s</text>
<text x="474.3" y="185.7" font-size="8.3">1400</text>
<text x="471.3" y="194.1" font-size="8.3">1200</text>
<text x="466.8" y="202.5" font-size="8.3">1000</text>
<text x="397.3" y="121.6" font-size="9.55">The 290 Hz vibration still exists</text>
<line x1="380.2" y1="129.2" x2="390" y2="121.7" stroke="#000" stroke-width="1.0"/>
<polygon points="396,117.1 391.0,124.5 390.9,121.0 387.5,120.0" fill="#000"/>
<text x="456.3" y="138.8" font-size="9.4" text-anchor="middle">The 350 Hz vibration</text>
<text x="456" y="146.8" font-size="9.5" text-anchor="middle">basically disappears</text>
<line x1="420.2" y1="159.3" x2="427.5" y2="152.5" stroke="#000" stroke-width="1.0"/>
<polygon points="433,147.4 428.7,155.2 428.3,151.7 424.9,151.1" fill="#000"/>
<text x="5.1" y="227.3" font-size="8.9" font-weight="bold">(f)</text>
<rect x="22.4" y="220.5" width="248" height="54.3" fill="none" stroke="#333" stroke-width="0.9"/>
<rect x="36.1" y="231.5" width="57.6" height="31.1" rx="5.5" fill="none" stroke="#333" stroke-width="0.9"/>
<rect x="183.5" y="231.7" width="79.8" height="30.1" fill="none" stroke="#333" stroke-width="0.9"/>
<text x="63.6" y="241" font-size="9.5" text-anchor="middle">Air</text>
<text x="63.6" y="248.9" font-size="9.5" text-anchor="middle">conditioning</text>
<text x="63.6" y="256.8" font-size="9.5" text-anchor="middle">unit</text>
<text x="222.9" y="245.3" font-size="9.5" text-anchor="middle">Pantograph with</text>
<text x="222.9" y="254.7" font-size="9.5" text-anchor="middle">fairing</text>
<polygon points="63.6,226.7 64.7,229.4 67.7,229.7 65.4,231.6 66.1,234.5 63.6,232.9 61.1,234.5 61.8,231.6 59.5,229.7 62.5,229.4" fill="#fff" stroke="#1a1a1a" stroke-width="0.85"/>
<polygon points="63.6,257.5 64.7,260.2 67.7,260.5 65.4,262.4 66.1,265.3 63.6,263.7 61.1,265.3 61.8,262.4 59.5,260.5 62.5,260.2" fill="#fff" stroke="#1a1a1a" stroke-width="0.85"/>
<polygon points="209.0,227.4 210.1,230.1 213.1,230.4 210.8,232.3 211.5,235.2 209.0,233.6 206.5,235.2 207.2,232.3 204.9,230.4 207.9,230.1" fill="#fff" stroke="#1a1a1a" stroke-width="0.85"/>
<polygon points="209.0,257.5 210.1,260.2 213.1,260.5 210.8,262.4 211.5,265.3 209.0,263.7 206.5,265.3 207.2,262.4 204.9,260.5 207.9,260.2" fill="#fff" stroke="#1a1a1a" stroke-width="0.85"/>
<text x="5.1" y="294.9" font-size="8.9" font-weight="bold">(g)</text>
<rect x="22.4" y="289" width="248" height="55.5" fill="none" stroke="#333" stroke-width="0.9"/>
<rect x="58" y="281.2" width="64.5" height="69.6" fill="none" stroke="#222" stroke-width="1.1" stroke-dasharray="2.2,1.5"/>
<rect x="132.5" y="281.2" width="39.7" height="69.6" fill="none" stroke="#222" stroke-width="1.1" stroke-dasharray="2.2,1.5"/>
<rect x="180.6" y="281.2" width="56.4" height="69.6" fill="none" stroke="#222" stroke-width="1.1" stroke-dasharray="2.2,1.5"/>
<polygon points="42.8,284.7 43.9,287.4 46.9,287.7 44.6,289.6 45.3,292.5 42.8,290.9 40.3,292.5 41.0,289.6 38.7,287.7 41.7,287.4" fill="#fff" stroke="#1a1a1a" stroke-width="0.85"/>
<polygon points="42.8,340.2 43.9,342.9 46.9,343.2 44.6,345.1 45.3,348.0 42.8,346.4 40.3,348.0 41.0,345.1 38.7,343.2 41.7,342.9" fill="#fff" stroke="#1a1a1a" stroke-width="0.85"/>
<polygon points="75.8,284.7 76.9,287.4 79.9,287.7 77.6,289.6 78.3,292.5 75.8,290.9 73.3,292.5 74.0,289.6 71.7,287.7 74.7,287.4" fill="#fff" stroke="#1a1a1a" stroke-width="0.85"/>
<polygon points="75.8,340.2 76.9,342.9 79.9,343.2 77.6,345.1 78.3,348.0 75.8,346.4 73.3,348.0 74.0,345.1 71.7,343.2 74.7,342.9" fill="#fff" stroke="#1a1a1a" stroke-width="0.85"/>
<polygon points="106.4,284.7 107.5,287.4 110.5,287.7 108.2,289.6 108.9,292.5 106.4,290.9 103.9,292.5 104.6,289.6 102.3,287.7 105.3,287.4" fill="#fff" stroke="#1a1a1a" stroke-width="0.85"/>
<polygon points="106.4,340.2 107.5,342.9 110.5,343.2 108.2,345.1 108.9,348.0 106.4,346.4 103.9,348.0 104.6,345.1 102.3,343.2 105.3,342.9" fill="#fff" stroke="#1a1a1a" stroke-width="0.85"/>
<polygon points="152.6,284.7 153.7,287.4 156.7,287.7 154.4,289.6 155.1,292.5 152.6,290.9 150.1,292.5 150.8,289.6 148.5,287.7 151.5,287.4" fill="#fff" stroke="#1a1a1a" stroke-width="0.85"/>
<polygon points="152.6,340.2 153.7,342.9 156.7,343.2 154.4,345.1 155.1,348.0 152.6,346.4 150.1,348.0 150.8,345.1 148.5,343.2 151.5,342.9" fill="#fff" stroke="#1a1a1a" stroke-width="0.85"/>
<polygon points="209.0,284.7 210.1,287.4 213.1,287.7 210.8,289.6 211.5,292.5 209.0,290.9 206.5,292.5 207.2,289.6 204.9,287.7 207.9,287.4" fill="#fff" stroke="#1a1a1a" stroke-width="0.85"/>
<polygon points="209.0,340.2 210.1,342.9 213.1,343.2 210.8,345.1 211.5,348.0 209.0,346.4 206.5,348.0 207.2,345.1 204.9,343.2 207.9,342.9" fill="#fff" stroke="#1a1a1a" stroke-width="0.85"/>
<polygon points="249.5,284.7 250.6,287.4 253.6,287.7 251.3,289.6 252.0,292.5 249.5,290.9 247.0,292.5 247.7,289.6 245.4,287.7 248.4,287.4" fill="#fff" stroke="#1a1a1a" stroke-width="0.85"/>
<polygon points="249.5,340.2 250.6,342.9 253.6,343.2 251.3,345.1 252.0,348.0 249.5,346.4 247.0,348.0 247.7,345.1 245.4,343.2 248.4,342.9" fill="#fff" stroke="#1a1a1a" stroke-width="0.85"/>
<polygon points="22.4,312.6 23.5,315.3 26.5,315.6 24.2,317.5 24.9,320.4 22.4,318.8 19.9,320.4 20.6,317.5 18.3,315.6 21.3,315.3" fill="#fff" stroke="#1a1a1a" stroke-width="0.85"/>
<polygon points="270.4,311.7 271.5,314.4 274.5,314.7 272.2,316.6 272.9,319.5 270.4,317.9 267.9,319.5 268.6,316.6 266.3,314.7 269.3,314.4" fill="#fff" stroke="#1a1a1a" stroke-width="0.85"/>
<text transform="translate(9.6,316) rotate(90)" font-size="9.3" text-anchor="middle">Coupler</text>
<text transform="translate(38.9,318) rotate(90)" font-size="9.3" text-anchor="middle">Bogie</text>
<text transform="translate(246.4,319.4) rotate(90)" font-size="9.3" text-anchor="middle">Bogie</text>
<text transform="translate(273.5,316) rotate(90)" font-size="9.3" text-anchor="middle">Coupler</text>
<text x="90.4" y="310.7" font-size="8.2" text-anchor="middle">Traction converter</text>
<text x="90.4" y="319.6" font-size="8.2" text-anchor="middle">and cooling device</text>
<text x="90.4" y="329" font-size="8.2" text-anchor="middle">6.6 t</text>
<text x="152.6" y="310.5" font-size="8.5" text-anchor="middle">Traction</text>
<text x="152.6" y="319.3" font-size="8.5" text-anchor="middle">transformer</text>
<text x="152.6" y="328.5" font-size="8.5" text-anchor="middle">1.56 t</text>
<text x="208.6" y="307.6" font-size="8.55" text-anchor="middle">Toilet collection</text>
<text x="208.6" y="316.7" font-size="8.55" text-anchor="middle">and power</text>
<text x="208.6" y="325.6" font-size="8.55" text-anchor="middle">control cabinet</text>
<text x="208.6" y="334.8" font-size="8.55" text-anchor="middle">0.95 t</text>
<polygon points="23.4,356.7 24.5,359.4 27.5,359.7 25.2,361.6 25.9,364.5 23.4,362.9 20.9,364.5 21.6,361.6 19.3,359.7 22.3,359.4" fill="#fff" stroke="#1a1a1a" stroke-width="0.85"/>
<line x1="29" y1="361.5" x2="46" y2="361.5" stroke="#222" stroke-width="1.0"/>
<text x="48.4" y="364" font-size="9.0">Model with bushing element</text>
<text x="288.9" y="227.3" font-size="8.9" font-weight="bold">(h)</text>
<text x="336.5" y="236.3" font-size="9.0">Air conditioning unit</text>
<text x="488.4" y="266.9" font-size="9.0">Pantograph</text>
<text x="293.7" y="300.6" font-size="9.0">Fore bogie</text>
<text x="325.7" y="316.3" font-size="9.0">Traction converter</text>
<text x="341.4" y="334" font-size="9.0">Traction transformer</text>
<text x="378.2" y="349.2" font-size="9.0">Toilet collection and</text>
<text x="377.2" y="358" font-size="9.0">power control cabinet</text>
<text x="462.6" y="353" font-size="9.0">Rear bogie</text>
<line x1="316.8" y1="292.7" x2="329" y2="279" stroke="#222" stroke-width="0.7"/>
<line x1="368.4" y1="308.4" x2="383" y2="293.6" stroke="#222" stroke-width="0.7"/>
<line x1="393" y1="325.5" x2="420" y2="303.5" stroke="#222" stroke-width="0.7"/>
<line x1="429.7" y1="342.7" x2="454.3" y2="310.8" stroke="#222" stroke-width="0.7"/>
<line x1="483.7" y1="345.2" x2="492" y2="323" stroke="#222" stroke-width="0.7"/>
</svg>
</body></html>
